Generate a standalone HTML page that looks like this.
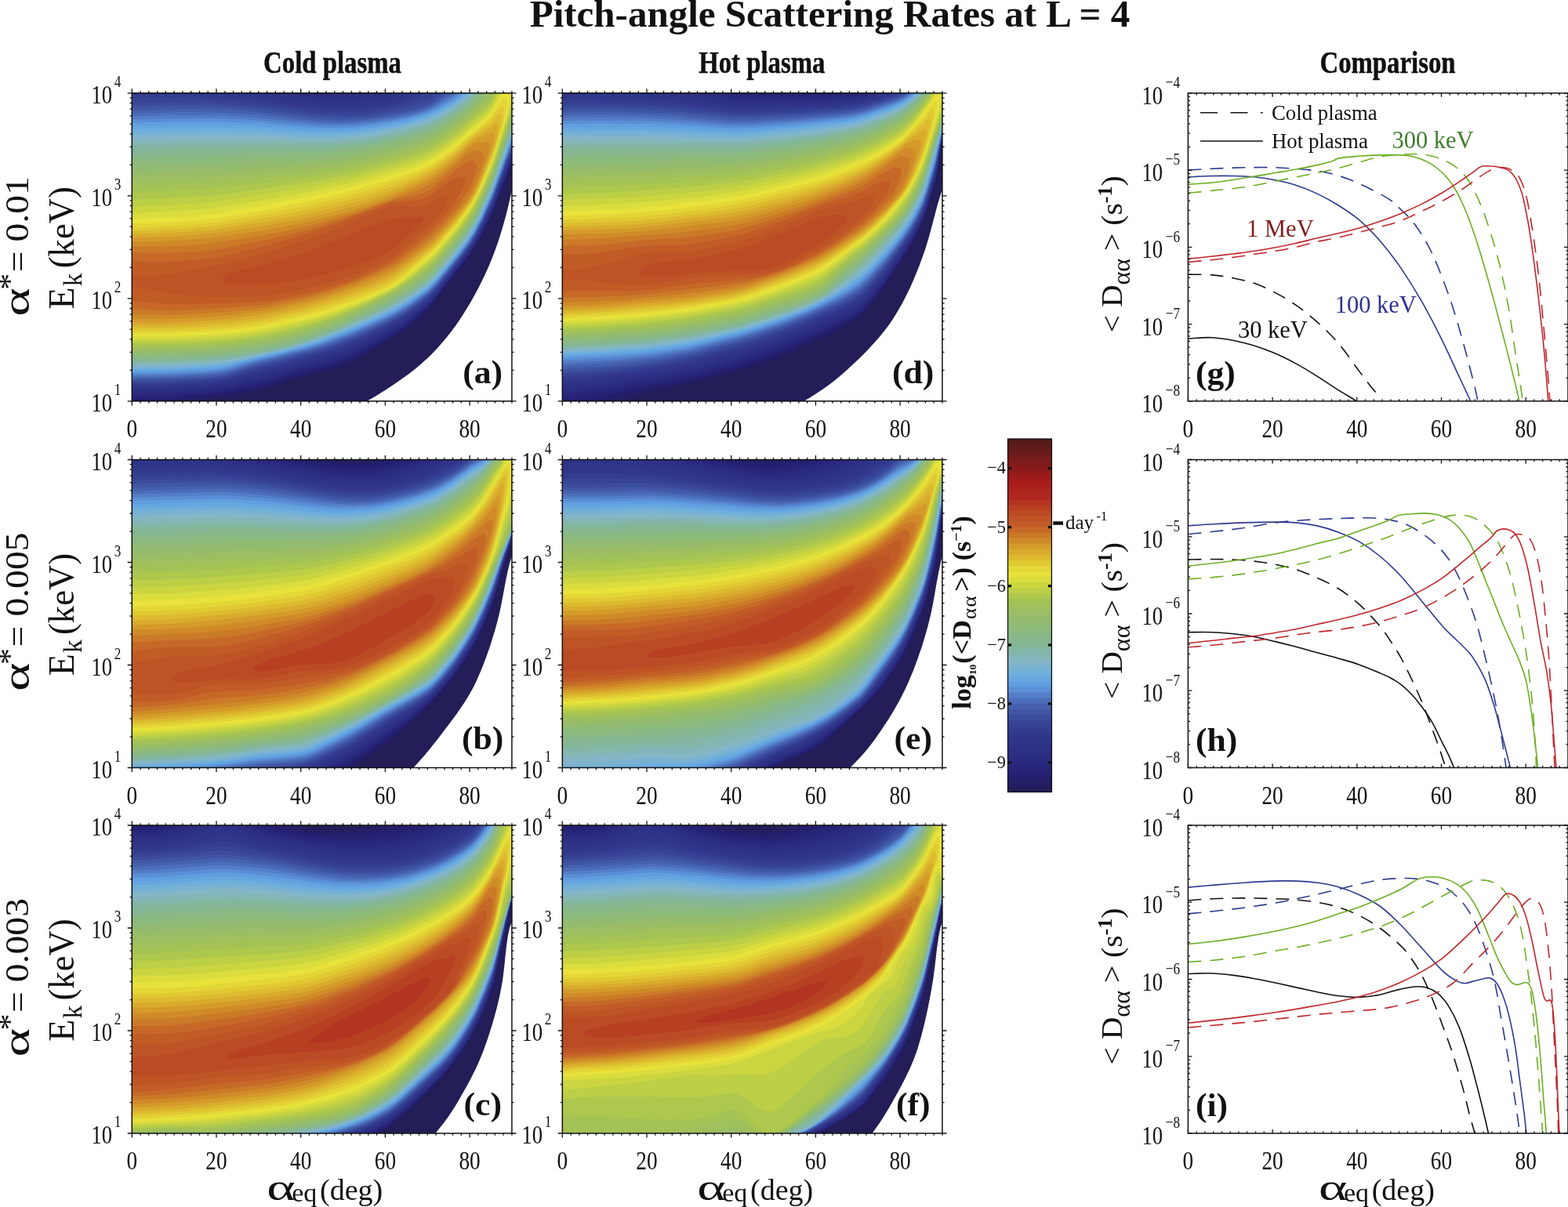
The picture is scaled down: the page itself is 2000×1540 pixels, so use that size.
<!DOCTYPE html>
<html lang="en"><head><meta charset="utf-8"><title>Pitch-angle Scattering Rates at L = 4</title>
<style>html,body{margin:0;padding:0;background:#fff}svg{display:block}text{font-family:'Liberation Serif',serif;fill:#111}</style>
</head><body>
<svg xmlns="http://www.w3.org/2000/svg" width="2000" height="1540" viewBox="0 0 2000 1540">
<rect width="2000" height="1540" fill="#fff"/>
<g>
<rect x="168.3" y="118.8" width="484.6" height="393" fill="#231d58"/>
<path d="M168.3 118.8l484.6 0 0 91.4-12.6 31.4-4.5 12.9-0.8 1.1-0.8 2.8-7.6 18-14 27.9-11 18-16.1 21.9-17.4 22-9.8 13.9-11.3 14.1-10.8 10.1-14.3 12.1-12.6 9.5-14.3 9.6-34.1 20.1-12.6 6.3-10.8 4.7-17.9 5.8-39.5 9.9-34.3 11.5-14.2 4.1-21.5 4.5-23.3 4-21.6 2.7-26.9 2.7-70 0z" fill="#241e63"/>
<path d="M168.3 118.8l484.6 0 0 89.8-21.1 53.8-5.8 13.5-12.1 24.4-5.6 10-8.9 14-10.3 13.9-20.6 26.4-14.3 19.7-7.2 8.5-12.6 11.6-12.5 10.3-12.6 9.3-12.5 8.3-35.9 20.8-12.6 6.2-10.8 4.6-17.9 5.8-39.5 10.1-34.1 11.2-12.6 3.6-39.5 7.9-16.1 2.4-18 2-48.4 3.9-43.1 0.6z" fill="#241e6e"/>
<path d="M168.3 118.8l484.6 0 0 88.2-20.9 53.4-6 14.2-13.8 27.7-6 10.5-7.1 11.1-44.9 59.2-7.2 8.4-10.8 9.8-12.5 10.4-12.6 9.3-12.6 8.2-35.8 20.5-12.6 6.2-12.6 5.3-17.9 5.9-41.3 10.6-32.3 10.4-12.6 3.6-37.7 7.7-19.7 3-16.2 1.8-46.6 3.7-44.9 0.7z" fill="#262274"/>
<path d="M168.3 118.8l484.6 0 0 86.5-21.4 55.1-5.5 13-14.4 28.9-7.2 12.5-5.3 8.2-10.8 14.7-19.4 24.5-12.9 17.4-9 10.5-10.8 9.7-12.5 10.2-10.8 7.9-12.6 8.3-35.9 20.1-12.5 6.2-14.4 6.1-19.7 6.3-39.5 10.2-32.3 10.3-12.6 3.5-39.5 8.3-14.3 2.3-16.2 1.9-50.2 3.8-44.9 0.7z" fill="#28267a"/>
<path d="M168.3 118.8l484.6 0 0 84.9-21.5 55.7-5.4 12.7-14.4 29.2-7.2 12.5-5.3 8.3-10.8 14.6-18.6 23.5-13.7 18.2-7.2 8.5-9 8.3-12.5 10.4-12.6 9.3-12.6 8.3-14.3 8.3-23.4 12.5-14.3 6.9-12.6 5.1-17.9 5.9-39.5 10.3-34.1 10.5-12.6 3.4-41.3 8.9-12.5 2.1-14.4 1.7-52 3.9-44.9 0.8z" fill="#2a2a7e"/>
<path d="M168.3 118.8l484.6 0 0 83.2-21.5 56-5.4 12.8-14.5 29.5-7.1 12.5-5.3 8.3-12.6 17-30.5 39.1-7.2 8.4-9 8.2-12.5 10.2-12.6 9.2-10.8 7-10.7 6.3-27 14.3-12.5 6-14.4 6.1-23.3 7.6-36.4 9.4-46.2 13.6-41.3 9.2-12.5 2.2-12.6 1.6-53.8 4-44.9 0.7z" fill="#2c2e82"/>
<path d="M168.3 118.8l198.1 0 22.7 2.9 21.5 0.8 41.3-1.2 28.2-2.5 172.8 0 0 81.5-21.5 56.3-5.4 12.8-14.4 29.5-7.2 12.8-5.3 8.4-12.6 17-30.5 38.8-7.2 8.3-9 8.1-10.7 8.7-10.8 8-12.6 8.3-12.5 7.3-25.2 13-16.1 7.7-14.4 5.8-23.3 7.5-37.7 9.9-43.1 12.4-43.1 10.1-12.5 2.2-10.8 1.2-53.8 3.9-44.9 0.7z" fill="#2d3084"/>
<path d="M168.3 118.8l175.1 0 42.1 6.5 16.1 1.2 16.2 0.4 26.9-0.6 21.5-1.4 23.4-3.1 11.7-3 151.6 0 0 79.7-21.5 56.7-5.4 12.8-14.7 30.3-6.9 12.3-5.3 8.4-14.4 19.3-28.7 36.3-7.2 8.2-7.2 6.5-12.5 10.1-12.6 9.1-10.8 7-12.5 7.1-28.8 14.6-17.9 8-14.4 5.4-19.7 6.3-35.9 9.3-35.9 10.4-39.5 9.9-21.5 4.5-23.4 2.5-46.6 3-41.3 0.5z" fill="#2f3387"/>
<path d="M168.3 118.8l141.7 0 21.6 2.1 57.5 8.5 16.1 1.3 19.8 0.4 30.5-0.7 25.1-2.5 16.2-3 7.1-2.2 10-3.9 139 0 0 77.9-21.5 57-5.4 12.9-14.4 29.9-5.4 9.9-7.1 11.5-14.4 19.3-28.7 36.1-7.2 8.1-7.2 6.5-12.5 10-10.8 7.7-10.8 7-14.3 8.1-28.8 14.3-17.9 8-16.2 6-26.9 8.2-28.7 7.3-34.1 9.7-46.7 12.1-16.1 3.2-28.7 2.7-39.5 2.4-41.3 0.5z" fill="#303589"/>
<path d="M168.3 118.8l92.7 0 20.4 2 44.8 3.3 55.7 8.2 12.5 1.5 18 1.2 19.7 0.4 18-0.2 14.3-0.8 15.4-1.6 11.6-1.9 14.3-4 20.5-8.1 126.7 0 0 76.2-25.1 66.2-15.7 33.2-11.2 19.7-16.2 22-26.9 33.7-7.2 8.3-5.4 5.3-12.5 10.1-12.6 9.2-10.8 7-16.1 9.2-25.2 12.3-17.9 8.1-19.8 7.4-26.9 8.4-28.7 7.2-30.5 8.7-52.1 13.8-16.1 3.2-23.3 2.1-43.1 2.6-41.3 0.6z" fill="#31388c"/>
<path d="M168.3 120.8l41.3-0.6 35.9 1.5 79 6 57.4 8.2 16.1 1.9 19.8 1.3 19.7 0.3 28.7-1.1 12.6-1.3 12.6-2 14.3-3.8 36.6-12.4 110.6 0 0 74.4-25.1 66.5-16.2 34.3-10.7 18.9-16.2 22-26.9 33.6-7.2 8.2-5.4 5.2-12.5 10.1-10.8 7.8-12.6 8.2-16.1 9-27 13-19.7 8.6-17.9 6.6-27 8.4-28.7 7.2-30.5 8.5-19.7 5-32.4 9.2-14.3 2.7-23.3 2.2-43.1 2.5-41.3 0.5z" fill="#343e90"/>
<path d="M552.7 120.8l4.3-2 95.9 0 0 72.5-25.1 66.9-12.6 27.2-9 17.4-7.1 11.6-10.8 14.7-30.5 38-9 10-12.6 10.6-14.3 10.5-14.4 9.1-14.3 7.9-25.2 12-19.7 8.6-21.5 7.9-23.4 7.4-79.9 20.8-31.4 9.3-12.5 2.8-19.8 2.1-44.8 2.8-46.7 0.7 0-363.6 50.3-0.6 41.2 1.5 64.7 4.7 61 8.3 16.1 1.8 21.6 1.3 21.5 0.3 25.1-1.3 12.6-1.5 10.8-1.8 16.1-4.2 35.9-11z" fill="#374496"/>
<path d="M561.1 120.8l2.8-2 89 0 0 70.7-25.1 67.2-12.6 27.4-9 17.4-7.1 11.7-12.6 17-30.5 37.7-9 9.5-12.6 10.1-12.5 9-12.6 8-14.3 8-27 12.7-19.7 8.5-23.3 8.6-21.6 6.9-78.9 20.4-30.6 9.3-14.3 3.3-19.8 2.1-44.8 2.7-46.7 0.7 0-356.4 57.4-0.9 25.2 0.4 26.9 1.2 48.4 3.5 59.3 7.8 17.9 2 21.6 1.3 21.5 0.1 16.2-0.8 14.3-1.4 14.4-2.1 14.3-2.9 23.4-5.8 16.1-4.7 7.2-3z" fill="#3b4c9c"/>
<path d="M565.3 120.8l2.8-2 84.8 0 0 68.8-25.1 67.6-12.6 27.5-9 17.5-7.1 11.7-12.6 17.1-28.7 35.4-10.8 11.5-12.6 10.1-12.5 8.9-12.6 7.9-14.3 7.9-27 12.6-19.7 8.5-21.5 7.9-23.4 7.7-79.9 20.5-31.4 9.7-12.5 2.8-19.8 2-44.8 2.7-46.7 0.7 0-349.9 64.6-1.1 25.1 0.3 27 1.1 43 3.2 57.8 7.3 19.1 2 21.9 1.3 21.5-0.1 18.1-1.2 17.2-2 27.5-4.3 18-3.6 12.5-3.9 7.2-3.1 7.2-4.3z" fill="#4056a4"/>
<path d="M569.5 120.8l3-2 80.4 0 0 66.9-25.1 68-12.6 27.6-9 17.6-7.1 11.8-12.6 17-28.7 35.3-10.8 11.4-12.6 10-12.5 8.9-14.4 8.9-12.5 6.7-28.8 13.3-19.7 8.3-26.9 9.8-19.8 6.4-75.3 19.1-30.6 9.4-14.3 3.3-19.8 2-44.8 2.6-46.7 0.7 0-343.3 66.4-1.4 25.1 0.1 25.2 0.8 41.2 2.8 79 9 23.4 1.2 20-0.3 17.6-1.3 18-2.1 28.7-4.5 16.2-3.5 10.7-3.2 9-3.6 7.2-4.3z" fill="#4561ae"/>
<path d="M574.4 120.8l3.3-2 75.2 0 0 65-25.1 68.3-12.6 27.7-9 17.8-7.1 11.7-12.6 17.2-28.7 35.1-10.8 11.3-12.6 9.9-12.5 8.8-12.6 7.9-14.3 7.7-27 12.4-19.7 8.4-30.5 11.2-19.8 6.3-73.5 18.5-30.6 9.4-14.3 3.2-19.8 2-44.8 2.5-46.7 0.7 0-337.2 64.6-1.5 28.7 0.1 25.2 0.6 39.4 2.5 79 8.4 23.4 1 21.5-0.5 23.3-2.1 30.4-4.4 14.5-2.4 14.8-3.6 11.7-4 4.4-1.9z" fill="#4c6eb9"/>
<path d="M579.5 120.8l3-2 70.4 0 0 63.1-25.1 68.7-12.6 27.8-9 17.9-7.1 11.7-14.4 19.4-26.9 32.7-10.8 11.3-12.6 9.8-14.3 10-12.6 7.6-14.3 7.5-27 12.3-19.7 8.3-32.3 11.8-18 5.7-71.7 18-30.6 9.1-14.3 3.2-19.8 1.9-44.8 2.4-46.7 0.7 0-331.2 61-1.4 57.5 0.6 39.4 2.2 79 7.6 25.1 0.8 21.6-0.8 21.5-2.1 26.9-4 18-3.2 13.9-3.5 11.2-3.6 7.2-3.1z" fill="#547ec7"/>
<path d="M583.7 120.8l2.8-2 66.4 0 0 61.2-25.1 69-12.6 27.9-9 17.9-7.1 11.9-14.4 19.4-26.9 32.6-10.8 11.2-12.6 9.8-12.5 8.7-14.4 8.7-12.5 6.6-30.6 13.9-19.7 8.2-32.3 11.9-18 5.7-46.6 11.9-23.3 5.4-30.6 9-14.3 3.1-19.8 1.9-44.8 2.3-46.7 0.7 0-325.1 53.8-1.4 37.7-0.1 27 0.4 37.7 1.8 80.7 7 25.1 0.5 21.6-0.9 23.3-2.5 26.9-4.2 18-3.6 14.3-3.8 12.6-4.1 7.2-3.4 19.7-11.2z" fill="#5a8fd5"/>
<path d="M587.2 120.8l2.5-2 63.2 0 0 59.3-25.1 69.3-14.4 31.8-8.8 17.1-7.3 11.6-12.6 16.8-26.9 32.5-10.8 11.2-12.6 9.7-14.3 9.8-14.4 8.5-12.5 6.5-21.6 9.9-23.3 9.9-32.3 12.1-23.3 7.7-48.5 12.3-21.5 4.9-30.6 8.6-12.5 2.6-19.8 1.9-46.6 2.3-44.9 0.6 0-319.1 50.3-1.2 68.2 0.2 39.4 1.5 62.9 5.1 16.1 0.9 25.1 0.3 23.4-1.2 19.7-2.2 28.7-4.7 19.8-4.1 16.1-4.5 10.8-3.7 10.8-5.1 16.1-9z" fill="#609ee0"/>
<path d="M590.2 120.8l2.4-2 60.3 0 0 57.3-25.1 69.7-12.6 28.1-9 18-8.8 14.4-12.7 17-26.9 32.5-10.8 11.1-10.8 8.3-14.3 9.9-14.4 8.7-14.3 7.4-27 12.4-19.7 8.2-35.9 13.5-19.7 6.4-37.7 9.6-30.5 7-30.6 8.3-12.5 2.4-19.8 1.8-44.8 2.2-46.7 0.7 0-312.7 50.3-1.3 68.2 0 37.7 1.1 80.7 5.4 25.1 0.1 23.4-1.4 23.3-2.9 25.1-4.3 19.8-4.4 19.7-5.6 10.8-4 16.1-8.2 10.8-6.5z" fill="#67a7df"/>
<path d="M593 120.8l2.3-2 57.6 0 0 55.3-25.1 70.1-14.4 31.9-9 17.5-8.9 13.9-14.4 18.8-25.1 30-5.4 5.7-5.4 4.8-12.5 9.4-12.6 8.5-14.4 8.4-14.3 7.4-27 12.3-19.7 8.2-35.9 13.6-19.7 6.4-30.5 7.9-37.7 8.6-25.2 6.5-16.1 3.1-19.8 1.8-44.8 2.2-46.7 0.6 0-306.3 48.5-1.3 70-0.2 37.7 0.8 80.7 4.6 25.1-0.2 23.4-1.5 25.1-3.3 23.3-4.2 21.6-5 21.5-6.3 12.6-5.2 16.1-8.7 9-6z" fill="#70afdc"/>
<path d="M595.7 120.8l2.3-2 54.9 0 0 53.3-25.1 70.4-14.4 32-9 17.6-8.9 13.8-12.6 16.6-26.9 32.3-5.4 5.7-5.4 4.8-12.5 9.4-14.4 9.5-14.4 8.4-16.1 8.1-23.4 10.7-21.5 9-34.1 13-21.5 7.1-39.5 10-52.1 11.9-16.1 2.9-19.8 1.7-44.8 2.1-46.7 0.7 0-299.8 50.3-1.4 84.3-0.4 23.3 0.5 62.9 3.3 21.5 0.5 23.3-0.6 21.6-1.7 23.3-3.3 25.1-4.6 21.6-5.3 21.5-6.5 12.6-5.4 14.3-8 10.8-7.4z" fill="#7ab2d2"/>
<path d="M598.4 120.8l2.1-2 52.4 0 0 51.2-25.1 70.7-14.4 32.1-9 17.6-8.9 13.9-12.6 16.6-26.9 32.3-5.4 5.7-5.4 4.8-14 10.5-14.7 9.6-14.4 8.2-16.1 8.1-23.3 10.6-19.8 8.3-35.9 14-21.5 6.9-43.1 10.9-44.9 9.6-17.9 3-19.8 1.7-44.8 2.1-46.7 0.6 0-293.2 48.5-1.4 89.7-0.7 23.3 0.4 62.9 2.6 17.9 0.2 26.9-1 21.6-2.2 26.9-4.2 21.5-4.3 21.6-5.5 17.9-5.6 12.6-5.5 14.3-8.1 12.4-8.5z" fill="#84b6c8"/>
<path d="M600.9 120.8l1.9-2 50.1 0 0 49-25.1 71.2-14.4 32.1-9 17.5-8.9 14-12.6 16.6-26.9 32.4-5.4 5.7-5.4 4.8-14.3 10.7-14.4 9.4-14.4 8.2-16.1 8.2-21.6 10-23.3 9.8-34.5 13.6-21.1 7-26.7 7-18.2 4.2-39.5 7.9-19.7 3.2-21.6 1.9-43 2-48.5 0.7 0-286.5 46.7-1.4 93.3-1.2 19.7 0.2 62.9 1.9 17.9 0.1 26.9-1.1 23.4-2.5 23.3-3.7 23.3-4.7 21.6-5.5 19.7-6.2 12.6-5.6 16.1-9.4 12.6-8.9z" fill="#84b6b9"/>
<path d="M603.3 120.8l1.7-2 47.9 0 0 46.9-25.1 71.5-14.4 32.1-9 17.6-8.9 13.9-14.4 18.9-25.1 30.2-7.2 7.5-5.4 4.5-16.1 11.8-16.2 10.1-15.1 8.3-20.5 10-26.9 11.9-34.5 14-16.1 6-19.8 6-23.2 6-18 4-32.3 5.9-23.3 3.4-21.6 1.9-43 2-48.5 0.7 0-279.6 43.1-1.4 100.5-1.8 79 1.3 17.9-0.1 26.9-1.4 27-3.1 25.1-4.3 23.3-5.1 21.6-5.8 16.1-5.4 12.6-6.1 16.1-9.7 14.4-10.5 7.2-5.9z" fill="#84b6aa"/>
<path d="M605.5 120.8l1.7-2 45.7 0 0 44.7-25.1 71.8-14.4 32.2-9 17.6-8.9 13.9-14.4 18.9-25.1 30.3-7.2 7.5-5.4 4.5-14.3 10.5-16.2 10.4-16.3 9-20.2 10-26.7 12-37.3 15.2-18.3 6.7-17.6 5.2-21.5 5.5-19.8 4.3-30.5 5.3-21.5 2.9-23.4 1.9-43 2-48.5 0.7 0-272.5 43.1-1.4 102.3-2.2 91.5 0.2 30.5-1.7 27-3.3 25.1-4.5 23.3-5.2 19.8-5.4 17.9-6.1 12.6-6.2 19.7-12.2 16.2-12.3z" fill="#84b69a"/>
<path d="M607.8 120.8l1.6-2 43.5 0 0 42.5-25.1 72.1-12.6 28.5-10.8 21.4-10.7 16.5-14.4 18.6-25.1 30-5.4 5.5-7.2 5.9-14.3 10.4-19.3 11.9-14.8 8.1-24.5 11.9-27.2 11.9-34.5 14-16.9 6-21.3 6-15.9 4-18.9 4-24.9 4-29.5 3.6-21.6 1.6-41.2 1.8-48.5 0.7 0-265.2 149-4.3 87.9-0.7 32.3-2.2 26.9-3.6 23.4-4.4 25.1-5.7 19.8-5.6 17.9-6.4 14.4-7.7 19.7-12.7 14.4-11.3z" fill="#86b790"/>
<path d="M610.1 120.8l1.7-2 41.1 0 0 40.3-25.1 72.4-14.4 32.4-9 17.6-10.7 16.5-14.4 18.5-25.1 30.1-5.5 5.6-7.4 6-15.8 11.2-16.2 10-17.9 9.7-26.6 13-21.9 9.7-34.9 14.2-16.9 6-20 5.7-19.7 4.9-18 3.6-26.9 4.2-25.1 2.9-23.4 1.8-41.2 1.8-48.5 0.7 0-257.9 80.8-2.3 70-2.5 84.3-1.6 34.1-2.6 28.7-4.2 27-5.3 21.5-5.2 19.7-5.8 16.2-5.9 16.2-8.9 19.7-13 14.4-11.6z" fill="#8ab986"/>
<path d="M612.7 120.8l1.7-2 38.5 0 0 38-25.1 72.7-12.6 28.6-10.8 21.5-10.7 16.5-14.4 18.6-25.1 30-5.4 5.5-7.2 5.9-14.3 10.2-19.8 12.1-18.2 9.7-28.4 14-18 8.1-34.1 13.8-17.9 6.3-20.3 5.7-17.4 4.3-18 3.8-25.5 3.9-28.3 3.2-23.4 1.7-41.2 1.8-48.5 0.7 0-250.2 79-2.3 73.6-3.3 80.7-2.4 18-1.2 19.7-2.1 30.5-4.8 27-5.7 21.5-5.4 19.7-6.1 14.4-5.7 9-4.8 10.7-6.6 16.2-11.2 12.6-10.3z" fill="#8dba7d"/>
<path d="M615.5 120.8l1.8-2 35.6 0 0 35.7-25.1 73-14.4 32.6-9 17.6-5.3 8.8-10.8 15-26.9 33-10.8 12-10.8 8.9-16.1 11.2-16.2 9.7-25.1 13.3-25.4 12.5-17.7 7.8-32.3 12.9-15.1 5.2-19 5.3-21.5 5.3-18 3.6-26.9 3.9-25.1 2.9-23.4 1.7-39.4 1.8-50.3 0.6 0-242.3 86.2-2.7 66.4-3.5 78.9-3.2 19.8-1.6 19.7-2.2 32.3-5.5 26.9-6 21.6-5.6 19.7-6.3 12.6-5.1 7.2-3.9 14.3-8.9 14.4-10 13.8-11.5z" fill="#91bb75"/>
<path d="M618.8 120.8l1.8-2 32.3 0 0 33.3-21.5 63.5-5.4 14.2-12.6 28.3-7.2 14.4-7.1 12.1-14.4 19.6-26.9 32.5-9 9.5-10.1 8-16.8 11.4-16.2 9.6-26.9 14.2-25.7 12.7-19.2 8.3-25.1 9.8-17.2 5.8-16.9 4.7-21.5 5.3-19.8 3.9-27.4 4.1-22.8 2.6-25.2 1.9-41.2 1.7-48.5 0.6 0-234 84.4-2.8 66.4-4.2 78.9-4.1 19.8-1.8 21.5-2.6 16.2-2.6 19.7-3.9 25.1-5.9 21.6-5.8 21.5-7.1 10.8-4.8 19.7-12 16.2-11.6 12.8-10.8z" fill="#95bc6d"/>
<path d="M622.4 120.8l1.8-2 28.7 0 0 30.8-23.3 68.9-7.2 17.4-10.8 23.9-7.2 14-7.1 11.4-14.4 19.3-26.9 32.2-9 9-10.8 8.2-15.2 10.3-17.1 10-30.5 16.1-23.3 11.3-19.8 8.3-23.3 8.9-16 5.2-18.1 4.9-21.1 5.1-18.4 3.6-26.9 3.9-25.1 2.9-23.4 1.8-42.9 1.8-46.8 0.4 0-225.5 95.1-3.4 132.8-9.2 21.6-2.1 21.5-2.9 18-3.1 19.7-4.1 26.9-6.6 19.8-5.5 19.7-6.8 10.8-4.8 19.7-12.2 14.4-10.3 14.3-12.1z" fill="#9abd65"/>
<path d="M625.9 120.8l1.3-2 25.7 0 0 28.1-25.1 74.1-10.8 25-9 18.9-7.1 12.9-7.2 10.5-14.4 18.6-25.1 29.5-8.1 7.8-13.2 10-14.6 9.7-16.2 9.5-30.5 16-21.5 10.4-20 8.3-23.1 8.6-16.9 5.3-19 5-21 5-16.7 3.2-23.3 3.5-27.9 3.3-22.4 1.7-43 1.7-48.5 0.5 0-216 86.2-3.3 139.9-11.3 21.6-2.4 23.3-3.4 19.8-3.6 19.7-4.4 26.9-6.8 19.8-5.8 19.7-6.9 10.8-5.2 17.9-11.3 16.2-12 24-20.7z" fill="#9fc05d"/>
<path d="M629.3 118.8l23.6 0 0 25.1-21.5 64.8-5.4 14.4-10.8 24.6-9 18.4-7.1 12.2-9 12.7-12.6 15.9-25.1 29.1-7.2 6.6-16.1 12.3-14.4 9.5-17.9 10.4-27 13.8-21.5 10.1-21.5 8.7-21.6 7.6-16.1 5-21.6 5.5-19.4 4.5-16.5 3.1-28.7 4.1-25.1 2.7-21.6 1.4-39.4 1.6-48.5 0.5 0-206.3 70-2.2 26.9-1.5 127.5-12.7 25.1-3.2 25.1-4.1 21.5-4.3 23.4-5.7 26.9-7.2 18-5.7 14.3-5.4 10.8-5.7 19.7-13 18-13.9 25.1-21.9 5.4-5.9z" fill="#a5c355"/>
<path d="M631.2 118.8l21.7 0 0 21.5-23.3 71.1-3.6 9.3-10.8 24.7-7.2 15-7.1 12.8-10.8 15.6-12.6 15.9-19.7 23.1-8.1 8.4-11.9 10-16.3 12-14 9.1-14.3 8.1-27 13.4-21.5 9.5-23.3 8.9-21.6 7.2-14.3 4.1-28.7 7.1-18 3.8-17.9 2.9-29.2 3.7-19.3 1.8-57.4 2.5-46.7 0.4 0-195 34.1-1.1 55.6-2.9 21.6-2 68.2-7.5 53.8-6.9 32.3-5.2 30.5-6.3 34.1-8.8 23.4-6.8 19.7-7 10.8-4.8 12.6-7.6 19.7-13.9 32.3-26.9 9-9.3 1.8-2.7z" fill="#aec84e"/>
<path d="M633.1 118.8l19.8 0 0 17.4-5.5 18.5-17.8 54.1-7.2 17.8-10.8 24.1-9 17.2-8.9 13.6-12.6 16.6-19.7 23.2-7.2 7.9-7.2 7-17.3 14-13.6 10-14 9-10.7 5.8-27 13-23.3 9.8-22.9 8.3-18.4 5.9-12.5 3.5-35.1 8.5-17 3.5-16.1 2.4-23.4 3-21.5 2-59.2 2.7-46.7 0.4 0-183.3 35.9-1.2 55.6-3.1 16.2-1.7 71.8-9.5 55.6-8.3 35.9-6.5 32.3-7.5 39.5-10.9 19.8-6.3 16.1-6.3 12.6-6.9 16.1-10.9 14.4-11.1 23.3-19.4 7.2-6.5 5.4-5.9 1.8-2.6z" fill="#bccf46"/>
<path d="M634.4 120.8l1-2 17.5 0 0 11.8-5.2 20.1-18.1 55.6-10.9 26.2-11.1 23.9-6.7 12-12.6 18-12.6 15.8-19.7 22.6-9 8.9-15.1 12.5-12.6 10-11.2 8-11.3 6.8-16.2 7.8-23.3 10.4-19.8 7.7-23.3 8.1-18 5.5-53.8 12.9-12.6 2.3-21.5 3-35.9 3.7-59.2 2.4-44.9 0.3 0-171.7 34.1-1.1 61-3.5 80.8-11.7 61-10.5 35.9-7.1 32.3-7.9 41.3-12 19.7-6.6 14.4-6.1 10.8-6.2 17.9-12.3 12.6-9.9 23.3-19.4 7.2-6.6 7.2-8.4z" fill="#cbd540"/>
<path d="M638.3 118.8l14.1 0-0.7 10-2.4 11.7-5.2 18.2-15.6 47.9-12.6 29.9-10.7 21.9-7.9 13-12.6 17.3-10.8 13.2-17.9 20.3-9 8.8-20.4 17.2-11.9 9.6-8.9 6.4-10 6-26 11.7-19.7 8.1-21.5 7.7-19.4 6.4-13.8 4-56.6 13.2-34.1 5-35.9 3.3-55.6 2.3-44.9 0.3 0-160.2 37.7-1.4 55.6-3.8 14.4-1.8 68.2-10.8 61.7-11.7 37-7.9 31-8.1 44.4-13.3 17.9-6.4 14.4-6.4 12.6-7.7 17.9-12.8 34.1-28.5 8.9-8.7 4.5-5.9z" fill="#dadd3d"/>
<path d="M641.1 120.8l2.7-2 2 0 1.7 1 1.9 3 0.3 4-0.4 6-3.6 16.8-10.7 35.5-7.2 20.9-13.9 32.5-10 19.9-8.4 13.2-10.8 14.7-10.8 13.2-17.9 20.2-9 8.6-25.6 21.9-10 8-7.5 5.3-10.7 6.2-19.8 8.6-23.3 9.2-21.5 7.4-18 5.8-16.2 4.6-55.6 13-34.1 5-35.9 3.3-55.6 2.2-44.9 0.3 0-149.7 41.3-1.4 34.1-2 19.1-1.6 13.2-1.9 64.6-11.2 64.6-13 37.7-8.5 32.3-8.7 44.9-13.9 17.9-6.6 12.9-6 12.6-8 19.4-14.2 32.6-27.7 8.7-8.2 3.6-4.3 9-15.8z" fill="#e8e23a"/>
<path d="M641.1 126.8l1-0.8 1.8-0.1 1.8 1.9 0.9 3 0.1 4-1 8.6-5.4 20.8-7.1 23.8-5.4 15.6-13.9 32.9-4.7 10-6.5 11.9-7.9 12-11.9 15.8-9 10.9-17.9 20-9 8.6-28.6 24.5-9.1 7.3-9 6.2-12.5 6.4-19.6 8-21.5 8-24.2 8-27.4 8-58.1 13.5-31.7 4.4-36.5 3.4-55.6 2.3-44.9 0.1 0-140.4 37.7-1.1 33.3-1.9 18.7-1.7 23.4-3 54.3-9.3 58.7-12 43.1-9.9 32.3-8.8 44.9-14.1 18-6.6 16.1-7.2 11.7-7.2 15.2-10.9 13.6-11.1 34.5-29.9 4.9-6 8.1-13z" fill="#e4d636"/>
<path d="M637.6 136.8l2.7-1.9 1.8 0.7 1.1 3.1 0.3 4-1.4 9.5-7.1 26.9-7.2 22-8.8 21.4-8.8 20-8.6 15.9-9.7 13.9-10.8 13.9-16.1 18.6-10.8 11.6-7.2 6.7-32.2 27.1-14.5 10.4-10.7 5.6-19.8 8.1-21.5 7.9-26.9 8.8-28.7 8.3-55.7 12.9-37.7 5.2-32.3 2.8-55.6 2.4-43.1 0 0-132.2 30.5-0.9 44.9-2.7 25.1-2.3 25.1-3.7 52.1-9 59.2-12.3 44.9-11 37.7-11.2 25.1-8.5 16.2-6.1 17.9-8.2 10.8-6.5 21.5-15.7 25.1-22.2 18-14.3 5.4-5.6 7.2-10.4z" fill="#e0c932"/>
<path d="M634.7 146.7l2.1-1.4 1.7 0.5 1 2.9 0.1 4-1 8-1.8 7.8-5.4 19-5.4 15.4-12.6 30.5-7.1 15.1-5.4 9.3-10.8 14.9-10.8 13.4-17.9 20.2-9 9.3-5.4 4.9-30.5 25-9 6.7-9 5.7-10.7 5.3-21.6 8.8-21.5 7.6-26.9 8.8-26.9 7.7-37.7 9-16.2 3.4-39.9 5.5-31.9 2.8-53.8 2.5-43.1-0.1 0-124.5 30.5-1 43.1-2.3 25.1-2.3 23.3-3.2 55.7-9.1 50.2-10.1 44.9-10.6 37.7-10.7 23.3-7.9 19.8-7.7 21.5-9.8 10.8-6.1 23.3-16.9 9-7.6 17.9-16.6 19.6-14.1 3.8-3.8z" fill="#ddba2f"/>
<path d="M632.9 156.7l2.1 0.6 0.6 3.4-0.1 4-2.3 12-3.6 12.6-7.2 19.3-10.8 26.6-7.2 14.7-5.3 8.7-9 12-10.8 13.1-17.9 19.9-10.5 10.7-34.4 27.6-9 6.4-9 5.6-12.5 6.1-20.3 8.2-21 7.5-28.7 9.4-26.9 7.7-50.3 11.6-17.9 2.8-23.4 3-41.3 3.5-44.8 2.1-43.1-0.3 0-116.7 32.3-1 43.1-2.3 25.1-2.3 28.7-3.9 48.5-7.5 48.2-9.4 39.7-9.3 37.7-10.3 19.8-6.6 21.5-8.3 19.8-8.8 17.9-9.3 10.8-7.2 16.1-12.3 26.9-24.5 5.4-3.6 12.6-7.3 9-7.5z" fill="#d9ab2d"/>
<path d="M627.9 168.7l1.7-0.4 0.4 0.4 0.9 2 0.3 4-1.4 7.9-2 7.2-16.2 42.6-7.2 15.1-5.3 8.8-10.8 14.1-9 10.7-19.4 21.2-8 8-4.9 4.4-28.7 22.1-10.8 7.5-10.7 6.4-14.4 6.6-19.7 7.9-46.7 16.1-26.9 7.7-48.5 11.1-35.9 5.2-39.5 3.7-52 2.8-44.9-0.4 0-108.2 34.1-0.9 43.1-2.3 25.1-2.3 25.1-3.4 48.5-7.2 43.1-8.1 37.7-8.5 37.3-10.1 19-5.9 21.3-8 23.1-10 21.3-10.5 12.6-8.2 14.3-11 9-7.7 19.7-18.4 7.2-4.4 10.8-4.2z" fill="#d59b2a"/>
<path d="M607.7 182.6l11.1-1.5 3.6 0 2.1 1.5 0.7 4-1 6-1.8 5.9-9 24.7-5.4 13.6-7.1 13.8-9 12.2-10.8 13-18.8 20.5-9.9 10.2-7.2 6.1-28.7 21.6-10.8 7.2-10.7 6.1-18 7.9-19.7 7.9-16.2 5.9-30.5 10-21.5 6.1-50.3 11-37.7 5.1-43.1 3.6-44.8 2.3-44.9-0.5 0-98.6 34.1-0.4 37.7-1.9 25.1-2.1 25.1-3.2 50.3-7.4 44.9-8.5 28.7-6.6 35.9-9.7 25.5-8 21.6-7.9 29-12 20.8-9.8 9-5.7 9-6.9 12.5-10.3 23.4-21.3z" fill="#d08b28"/>
<path d="M603 192.6l3.2-0.7 3.6-0.1 5.4 1.7 1.8 3.2 0.1 5.9-3.7 12.9-7.2 18.6-5.3 11.2-5.9 9.2-8.5 10.7-9.6 11.2-18.4 19.9-8.3 8-33.8 26-10.7 7.2-10.7 6.1-21.6 9.7-19.7 8-35.9 12.3-26.9 7.7-46.7 10-12.6 2.1-26.9 3.2-52 3.8-41.3 1.7-43.1-1.1 0-86.5 26.9 0.1 23.4-0.6 32.3-1.8 19.7-2 73.6-11.6 43.1-9 23.3-5.9 32.3-9.5 18-5.8 68.2-24.5 14.3-5.9 7.2-4 9-6.4 16.1-13.2 19.8-17.6z" fill="#cb7a28"/>
<path d="M596.4 206.6l2.7-1 3.5-0.3 1.8 0.3 1.8 1.3 1 1.7 0.8 4-0.3 4-1.5 6.1-5.3 13.3-5.4 9.6-8.6 12.8-11.5 14-17.6 19.4-7.2 7-34.6 27.5-11.3 8-9.7 5.8-26.1 12.1-26 10.4-37.7 11.9-14.3 3.7-18 3.9-32.3 6.1-14.3 1.9-21.6 1.9-79 4.2-23.3-0.2-34.1-2.5 0-71 44.9 0.2 37.7-1.6 17.9-1.7 18-3 53.8-10.7 52.1-12.7 19.7-5.9 30.5-10.1 53.9-19.8 10.7-3 25.1-5.7 9-3 5.4-2.6 5.4-3.4 34.1-27z" fill="#c66928"/>
<path d="M582.8 226.5l3.7-1.3 1.8-0.3 1.8 0.4 1.8 1.1 1 2.1 0.3 2-0.5 4-3 8-3.2 6-9.4 13.9-14.8 18-9.9 10.5-39.5 32.8-14.4 10.4-7.1 4-16.6 8.1-17.5 8-10.2 4-24.1 8-29.7 8-18.4 3.9-19.9 3.7-25.2 3.2-30.5 1.7-75.4 1.9-17.9-0.8-37.7-4.2 0-50.7 23.3 1 18 0 53.8-3.5 10.8-1.5 10.8-2.1 52-12.8 52.1-14.9 17.9-5.8 43.1-16 42.2-16.9 6.2-1.9 10.8-1.6 21.6-1.3 5.3-0.9 5.4-1.6 5.4-2.5 5.4-3.4 14.4-11 8.9-6.2z" fill="#c25c27"/>
<path d="M562 250.5l3-1.3 3.5-0.2 1.8 1.2 0.8 2.3-0.7 3.9-1.7 4-3.3 6-4 6-6.3 8-5.7 6-13.2 10.8-26.1 23.1-8 6.1-7.1 4.6-19.8 10-25.1 11-21.5 7.1-28.8 7.5-30.5 6.3-26.9 4-25.1 1.8-52.1-0.1-38.9-2.5-13.2-1.9-32.2-7.2-12.6-1.9 0-12.8 9 0.3 12.5-0.6 25.2-2.7 62.8-10.7 17.9-4 48.5-13.3 50.2-16.1 25.2-9.8 73.6-31.1 5.3-1.4 7.2-0.6 21.6 1.6 8.9-0.7 5.4-1.6 3.6-1.7z" fill="#be5426"/>
<path d="M513.3 278.4l22.9-2 1.8 0.1 1.8 0.8 0.7 1.1-0.5 2-1.3 2-13.2 13.9-18 16.1-7.2 5.5-5.3 3.4-21.6 9.8-23.3 8.8-27.6 8.3-26.3 6.5-21.5 3.8-25.1 3.2-26.9 1.7-19.8-0.2-8.2-1-6.1-1.8-3.9-2.2-1.4-2 0.3-2 2.2-2 8.8-4 13.2-4 40-9.8 41.3-12 16.1-5.8 53.9-22.2 32.3-12.4 8.9-2.3z" fill="#bb4b24"/>
<path d="M468.2 511.8 479.9 504.9 491 498 501.6 491 511.7 484.1 521.3 477.2 530.2 470.3 538.3 463.3 545.9 456.4 552.9 449.5 559.4 442.6 565.4 435.6 571.1 428.7 576.5 421.8 581.5 414.9 586.3 408 590.8 401 595.2 394.1 599.3 387.2 603.3 380.3 607.1 373.3 610.7 366.4 614.2 359.5 617.6 352.6 620.8 345.6 623.9 338.7 626.7 331.8 629.4 324.9 632 318 634.5 311 636.8 304.1 638.9 297.2 641 290.3 643 283.3 644.9 276.4 646.7 269.5 648.4 262.6 650 255.6 651.5 248.7 652.9 241.8 652.9 511.8z" fill="#fff"/>
</g>
<g>
<rect x="168.3" y="586.5" width="484.6" height="393" fill="#231d58"/>
<path d="M168.3 586.5l240.7 0 19.6 1.5 19.7 0.6 16.1-0.5 15.1-1.6 173.4 0 0 101.3-0.5 4.4-1.3 1.4-0.6 4.6-1.2 1.3-0.7 4.7-1.1 1.2-0.7 4.8-1.1 1.1-0.7 4.9-1.1 1.1-0.8 4.9-1.2 1.9-0.5 4-1.3 2-0.4 4-1.2 1.7-0.5 4.3-1.2 2.3-0.6 3.7-1.6 4-0.5 4-0.9 1.1-0.8 4.9-1 1.4-0.9 4.5-1.2 2-0.8 4-0.7 0.8-0.8 3.2-1 1.7-6.3 16.3-9.2 19.9-8.8 16-19.7 29.9-9.2 12-15 17.6-9 9.5-28.7 26.3-21.6 18-34.1 25.1-10.7 6.9-7.9 4.3-277.5 0z" fill="#241e63"/>
<path d="M168.3 586.5l217.7 0 13.8 2.5 16.2 1.9 17.9 1.3 16.2 0.5 12.6-0.4 12.5-1.1 12.6-1.9 13-2.8 152.1 0 0 100.8-0.5 2.9-1.7 4-0.2 2-1.2 2.6-0.6 3.4-1.2 2.4-0.7 3.6-1.1 2.3-0.7 3.7-3.4 9.9-5.9 22-7.2 23.9-11.3 28-10.7 21.9-10.8 18-17.6 25.9-16.7 20.4-14.4 15.3-26.9 23.8-23.3 18.7-35.9 25.8-10.8 6.6-10.4 5.1-271.4 0z" fill="#241e6e"/>
<path d="M168.3 586.5l202.2 0 22.2 4.7 17.9 2.8 21.5 2.1 19.8 0.7 16.1-0.6 14.4-1.7 16.1-3.3 18.4-4.7 136 0 0 100.4-11.6 37.2-7.7 28-5.7 17.9-10.9 26.8-9 19.1-5.4 9.7-7.1 11.5-18 26.4-17.9 21.7-12.6 13.1-17.9 15.6-18 14.6-41.3 30.3-10.7 7.3-9 5.5-9 4.6-8.2 3.3-264.6 0z" fill="#262274"/>
<path d="M168.3 586.5l186.2 0 36.4 7.8 17.9 3.1 23.3 2.5 21.6 1 17.9-0.8 16.2-2.2 19.7-4.6 22.8-6.8 122.6 0 0 99.9-11.3 35.8-13.8 47-10.8 26.3-10.7 22.4-5.4 9.5-9 14.1-14.4 21-17.9 21.6-12.6 13-16.1 13.7-18 14.1-48.5 34.8-10.7 6.9-8.7 4.9-18.6 8-258.1 0z" fill="#28267a"/>
<path d="M168.3 586.5l168.3 0 54.3 11.2 17.9 3.2 25.1 3 23.4 1 17.9-0.9 16.2-2.5 23.3-6.1 27.7-8.9 110.5 0 0 99.4-11.5 36.3-13.6 45.7-10.8 26.2-10.8 22.6-12.5 20.9-16.2 23.7-17.9 21.6-7.2 7.7-7.2 6.8-16.1 13.2-18 13.5-52 36.3-9 5.6-9 4.8-20.7 8.7-252.1 0z" fill="#2a2a7e"/>
<path d="M168.3 586.5l147.7 0 94.6 18.2 25.1 3 23.4 1 19.7-1.1 9-1.4 10.7-2.3 30.6-8.6 16.1-5.5 7.8-3.3 99.9 0 0 99-11.8 36.7-11.5 39.2-3.6 10-6.1 14.6-8.9 19.9-8.3 16-12.6 20.1-10.8 15.8-7.2 9.2-14.3 16.8-7.2 7.4-7.2 6.4-14.3 11.3-16.2 11.8-46.7 32.2-14.3 9.3-14.4 7.7-23 9.6-246.2 0z" fill="#2c2e82"/>
<path d="M168.3 586.5l122 0 52.1 8.4 53.8 10.7 18 3.1 23.3 2.8 21.6 1.1 10.7-0.3 12.6-1.2 10.8-2 14.3-3.4 19.8-5.6 17.9-6 7.2-3.1 8.6-4.5 91.9 0 0 98.5-11.5 35.2-11.8 39.9-3.6 10-6.6 15.9-9 19.9-7.8 14.8-14.3 22.8-9 13.1-7.2 9.3-12.5 14.7-7.2 7.6-7.2 6.6-12.5 9.8-14.4 10.3-64.6 43.5-10.8 6.2-7.2 3.5-14.3 6.4-12.6 5-240.5 0z" fill="#2d3084"/>
<path d="M168.3 586.5l88.4 0 40.8 5.2 30.5 4.5 30.6 5.3 39.4 7.9 19.8 3.3 21.5 2.5 19.8 0.9 14.3-0.5 12.6-1.4 16.1-3.3 16.2-4 15.1-4.4 13.6-4.8 7.2-3.3 14.1-7.9 84.6 0 0 98-11.8 35.7-11.5 38.6-3.6 9.9-8.9 21.3-8.4 17.9-7.5 14-12.9 20.4-10.8 15.6-19.7 23.5-7.2 7.3-7.2 6.2-23.3 16.8-68.2 45.2-10.8 6.1-10.8 5.2-14.3 6.3-12.9 5-234.8 0z" fill="#2f3387"/>
<path d="M572.7 588.5l5.2-2 75 0 0 97.5-11.4 34.2-13.7 44.5-10.8 26.1-9 19.2-8.9 16.2-19.5 29.6-14.6 18.2-12.6 13.7-7.2 6.4-16.1 11.7-77.2 50.6-10.8 6.1-16.1 7.8-14.4 6.3-13.4 4.9-228.9 0 0-390 25.1-0.4 35.9 0.5 19.8 1.2 28.7 2.8 30.5 3.6 32.3 4.8 79 14.5 21.5 2.4 19.8 0.7 14.3-0.6 12.6-1.5 15.9-3.1 20-4.9 23.3-7.7z" fill="#303589"/>
<path d="M582.7 588.5l5-2 65.2 0 0 97-11.7 34.7-13.4 43.1-10.8 26.1-9 19.3-8.9 16.2-10.8 16.9-9 13.1-16.1 19.9-12.6 13.3-7.2 6-14.3 10.1-37.7 23.8-30.5 20.3-12.6 7.7-10.8 5.8-21.5 10.3-13.1 5.4-11.9 4-222.7 0 0-384 26.9-0.5 35.9 0.2 23.4 1.1 32.3 2.5 28.7 3.3 30.5 4.4 23.3 4 35.9 7 18 2.9 19.7 2 19.8 0.6 14.3-0.8 12.6-1.6 19.7-3.9 18-4.5 21.5-7.3 21.5-11.2z" fill="#31388c"/>
<path d="M589.5 588.5l3.6-2 59.8 0 0 96.5-11.4 33.2-13.7 43.8-10.8 26.1-9 19.3-8.9 16.2-10.8 17-9 13.1-16.1 19.8-12.6 13.3-9 7.2-12.5 8.5-37.7 23.1-32.3 21.4-12.6 7.6-19.7 10.1-16.2 7.6-12.6 5-10.7 3.3-3.7 0.9-215.3 0 0-377.9 28.7-0.7 37.7-0.1 26.9 0.8 27 1.6 26.9 2.9 32.3 4.4 23.3 3.8 35.9 6.9 18 2.8 21.5 2 19.7 0.3 16.2-1.3 16.2-2.6 17.9-3.8 15.4-4.2 11.5-3.7 7.2-2.9 19.7-10.2z" fill="#343e90"/>
<path d="M593.5 588.5l3.1-2 56.3 0 0 96-11.7 33.7-13.4 42.4-10.8 26.1-9 19.4-8.9 16.2-10.8 17-9 13.1-16.1 19.8-12.6 13.2-7.2 5.8-12.5 8.6-39.5 23.7-32.3 21.1-12.6 7.7-37.7 18.7-10.8 4.4-10.7 3.3-15.4 2.8-203.6 0 0-372.4 70-1 34.1 0.5 17.9 0.9 25.2 2.5 34.1 4.4 21.5 3.5 35.9 6.7 19.8 2.9 21.5 1.8 19.7 0.1 16.2-1.5 17.9-3 19.8-4.5 17.9-5.2 9-3.2 9-4.2 21.5-11z" fill="#374496"/>
<path d="M596.6 588.5l2.9-2 53.4 0 0 95.4-11.3 32.3-13.8 43-10.8 26.1-10.8 22.9-5.3 9.8-7.2 11.5-14.4 21.5-16.1 19.9-12.6 13.2-7.2 5.7-10.7 7.2-41.7 24.7-30.1 19.5-14.4 8.7-39 19.6-11.3 4.6-8.9 2.6-16.2 2.8-21.3 2-181.5 0 0-367 75.4-1.5 32.3 0.1 14.3 0.5 23.4 2.1 37.7 4.6 21.5 3.4 35.9 6.5 19.8 2.8 21.5 1.6 19.7-0.2 18.8-2 21.2-4 16.4-4 19-5.9 9.7-4.1 20.8-10.7 9.1-5.2z" fill="#3b4c9c"/>
<path d="M599.2 588.5l3.2-2 50.5 0 0 94.9-11.6 32.8-13.5 41.6-10.8 26.2-10.8 22.9-10.7 18.5-16.2 24.3-16.1 19.8-12.6 13.2-5.4 4.4-12.5 8.3-41.3 24-32.3 20.7-12.6 7.5-37.7 19.2-10.8 4.6-8.9 2.9-9 1.9-10.8 1.5-44.3 3.8-156.7 0 0-362.1 91.5-1.9 19.8-0.1 12.5 0.5 21.6 1.8 37.7 4.3 21.5 3.2 35.9 6.2 19.8 2.7 21.5 1.5 19.7-0.3 16.2-1.7 21.5-4 19.8-4.8 19.7-6.2 10.8-4.7 17.9-9.2 9-5.8z" fill="#4056a4"/>
<path d="M602.1 588.5l3.7-2 47.1 0 0 94.4-12 33.3-13.1 40.1-10.8 26.2-10.8 23-10.7 18.5-16.2 24.3-16.1 19.8-12.6 13.2-5.4 4.3-12.5 8.3-41.9 23.8-33.5 21.3-10.8 6.3-37.7 19.3-10.8 4.7-8.9 3-9 1.8-10.8 1.5-35.9 2.9-25.4 3-139.7 0 0-357.4 95.1-2.3 16.2-0.3 12.5 0.4 21.6 1.8 39.5 4.2 55.6 8.8 19.8 2.5 21.5 1.3 21.5-0.6 16.2-1.9 21.5-4.1 21.6-5.5 17.9-5.9 12.6-5.8 14.3-7.8z" fill="#4561ae"/>
<path d="M605.6 588.5l4.1-2 43.2 0 0 93.8-11.6 31.9-13.5 40.7-10.8 26.2-10.8 23-10.7 18.5-16.2 24.4-16.1 19.7-12.6 13.1-5.4 4.3-12.5 8.2-41.3 23.1-43.1 26.7-41.3 21.2-9 3.9-8.9 3-7.2 1.6-10.8 1.5-37.7 3.1-39.7 5.1-125.4 0 0-353.1 107.7-2.7 16.1 0.3 19.8 1.4 39.5 4 57.4 8.4 19.8 2.3 21.5 1.2 21.5-0.8 16.9-2.1 22.6-4.6 19.8-5.2 17.9-5.9 10.8-4.9 14.3-7.7 9-5.9 16.2-11.8z" fill="#4c6eb9"/>
<path d="M609.5 588.5l3.8-2 39.6 0 0 93.3-12 32.4-14.9 43.9-10.8 25.7-9 18.9-5.3 9.8-7.1 11.4-14.5 21.7-16.1 19.7-12.6 13.1-7.2 5.5-10.7 6.8-41.5 23-42.9 26.2-41.3 21.2-9 3.9-8.9 3.1-16.2 2.9-41.3 3.5-52.2 7-111.1 0 0-349 107.7-2.7 14.3 0.2 19.8 1.3 39.5 3.6 57.4 7.8 19.8 2.1 23.3 1.1 21.5-1 16.2-2.1 21.5-4.4 19.8-5.2 19.7-6.4 9.7-4.4 15.4-8.3 7.2-4.7 19.8-14.3z" fill="#547ec7"/>
<path d="M613.1 588.5l3.1-2 36.7 0 0 92.7-11.6 31-15.3 44.4-10.8 25.7-9 19-10.7 18.5-16.2 24.3-16.1 19.8-12.6 13-5.4 4.3-12.5 7.9-41.2 22.6-43.2 26.1-41.3 21.1-9 4-8.9 3.1-7.2 1.6-9 1.3-39.5 3.2-44.8 6.5-26.8 2.9-93.5 0 0-344.8 100.5-2.6 21.5 0 18 1.1 41.3 3.6 55.6 6.9 21.6 2.1 23.3 0.8 21.5-1.2 18-2.6 21.5-4.6 19.8-5.4 17.9-6 10.8-4.9 16.1-9 25.2-17.8z" fill="#5a8fd5"/>
<path d="M616 588.5l2.7-2 34.2 0 0 92.2-11.9 31.5-15 43-11.3 26.8-10.3 21.3-14.3 23.6-12.6 18.2-16.1 19.3-10.8 11-5.4 4.3-12.5 7.9-41.3 22.4-43.1 25.7-43.1 21.9-9 3.8-7.1 2.4-7.2 1.6-9 1.4-39.5 3.2-48.4 7.3-30.5 3-17 1.2-69.2 0 0-340.5 107.7-2.7 14.3 0.1 16.2 0.8 39.9 3.2 55.2 6.3 21.6 1.9 25.1 0.8 23.3-1.4 16.2-2.4 21.5-4.7 21.6-5.9 17.9-6.1 10.8-5 14.3-7.9 9-5.9 18-12.9z" fill="#609ee0"/>
<path d="M618.4 588.5l2.3-2 32.2 0 0 91.7-12.3 32-14.6 41.5-11.9 28.3-9.7 19.9-14.3 23.6-12.6 18.2-16.1 19.3-10.8 11-5.4 4.2-12.5 7.8-43.1 23.4-39.5 23.4-44.9 22.6-9 3.8-7.1 2.4-14.4 2.7-41.3 3.5-44.8 7-25.2 2.8-58.8 3.9-36.3 0 0-336.1 105.9-2.6 14.4 0 17.9 0.8 41.3 2.9 52 5.5 23.4 1.8 26.9 0.4 23.3-1.8 16.2-2.6 25.1-5.8 19.7-5.8 16.2-5.8 10.8-5.2 14.3-8.1 25.2-17.8 12.5-7.2z" fill="#67a7df"/>
<path d="M620.5 588.5l1.9-2 30.5 0 0 91.2-12.6 32.5-15.1 41.9-11.8 27.9-9 18.5-14.3 23.6-12.6 18.1-16.1 19.3-10.8 11-5.4 4.2-14.3 8.9-40.8 22.1-40 23.2-44.9 22.3-9 3.8-7.1 2.4-7.2 1.6-10.8 1.5-39.5 3.4-43 6.9-16.2 1.9-41.3 3.3-62.8 3 0-330.9 120.3-2.9 19.7 0.9 37.7 2.4 53.8 5.1 21.6 1.4 26.9 0.2 12.6-0.7 12.5-1.4 16.2-2.7 25.1-5.9 19.7-5.8 16.2-5.9 10.8-5.3 14.3-8.2 23.6-16.8 15.9-9.7z" fill="#70afdc"/>
<path d="M622.2 588.5l1.8-2 28.9 0 0 90.8-12.9 32.9-10.4 29-6.6 16.9-9.6 22.6-9 18.4-12.5 20.8-12.6 18.4-17.9 21.8-10.8 10.9-5.4 4.2-14.3 9-39.8 21.5-39.2 22.6-46.7 22.6-9 3.8-7.1 2.4-7.2 1.6-9 1.3-39.5 3.6-41.3 6.6-19.7 2.4-43.1 3.4-61 3 0-324.2 118.5-3 17.9 0.6 41.3 2.3 53.8 4.5 19.8 1 28.7 0 12.6-0.8 12.5-1.5 16.2-2.9 25.1-6 19.7-5.9 16.2-5.9 12.6-6.4 14.3-8.4 22.2-15.9 15.5-9.7z" fill="#7ab2d2"/>
<path d="M623.6 588.5l1.5-2 27.8 0 0 90.4-13.3 33.3-17.2 46-9 21-9 18.5-12.5 20.8-14.4 20.8-16.1 19.3-11 11.2-7 5.1-16.1 10-38.3 20.8-35.3 20-48.5 23-9 3.7-7.1 2.3-14.4 2.8-41.3 4-37.8 6-19.6 2.6-43.1 3.5-64.6 3.2 0-317.1 118.5-3.2 57.4 2.4 52 3.8 21.6 1 30.5-0.4 12.6-1 12.5-1.5 18-3.4 25.1-6.3 19.7-6.1 16.2-6.2 14.4-7.6 12.5-7.7 20.8-15.1 15.1-9.7 5.4-4.7z" fill="#84b6c8"/>
<path d="M624.7 588.5l1.5-2 26.7 0 0 90-11.3 27.7-21 54.9-9 20.7-7.2 14.5-14.3 23.5-12.6 17.9-17.9 21.3-10.8 10.6-10.8 7.4-16.1 9.7-68.2 37.4-48.5 22.4-9 3.6-7.1 2.3-14.4 2.7-41.3 4.3-39.5 6.2-17.9 2.2-45.4 3.7-62.3 3.2 0-310.2 122-3.1 61.1 2.3 48.4 3 23.4 0.5 28.7-1 23.3-2.8 19.8-4.1 26.9-7.1 19.7-6.5 12.6-5.3 21.5-12.1 24.9-17.9 11-7.1 7.2-6z" fill="#84b6b9"/>
<path d="M625.7 588.5l1.3-2 25.9 0 0 89.6-13.2 32.1-20.9 53.7-9 20.2-7.2 14.1-12.5 20.1-12.6 17.9-17.9 21.3-10.8 10.6-11.1 7.7-16.4 9.9-65.8 35.9-10.8 5.2-37.7 16.7-9 3.6-8.9 2.8-16.2 3-39.5 4.4-39.5 6.1-16.1 2-48.5 3.9-61 3.2 0-302.8 122-3.5 61.1 2 44.8 2.4 23.4 0.3 30.5-1.3 25.1-3.2 18-3.8 26.9-7.1 19.7-6.5 14.4-6.1 23.3-13.4 32.3-22.9 9-7.7z" fill="#84b6aa"/>
<path d="M626.6 588.5l1.3-2 25 0 0 89.1-13.6 32.6-22.3 56.4-7.2 16.1-7.2 14-12.5 20.1-12.6 17.8-17.9 21.2-10.8 10.7-13.2 9.3-16.3 9.9-60.2 32.5-14.4 6.9-34.1 14.7-10.8 4.3-10.7 3.4-18 3.2-37.7 4.5-53.8 7.7-50.3 4.1-61 3.2 0-295.3 122-3.5 62.9 1.4 41.2 1.8 19.8 0.1 34.1-1.6 14.4-1.7 12.5-2 19.8-4.3 26.9-7.4 21.5-7.4 12.6-5.6 21.5-12.6 32.3-23.5 9-8.2z" fill="#84b69a"/>
<path d="M627.6 588.5l1.3-2 24 0 0 88.6-15.6 37.1-20.3 50.8-7.2 16.1-7.2 14.1-12.5 20-12.6 17.7-17.9 21.3-10.8 10.6-14.4 10.3-17.2 10.6-18 10-36.5 19.2-18 8.5-32.3 13.5-10.8 4.2-10.7 3.3-19.8 3.8-87.9 12-53.9 4.5-61 3.3 0-287.7 57.4-1.5 62.9-2.3 64.6 1.1 39.5 1.2 17.9 0 35.9-2.1 14.4-1.7 14.3-2.4 23.3-5.5 27-7.7 19.7-7 12.6-6 14.3-8.4 9-5.7 26.9-20.1 5.4-4.6 5.4-5.5z" fill="#86b790"/>
<path d="M628.7 588.5l1.3-2 22.9 0 0 88.1-2.7 5.7-12.5 29.9-22.5 55.3-7.2 15.7-5.4 10.4-14.3 22.6-10.8 15-17.9 21.2-11.6 11.4-13.8 10-19.1 11.9-18.3 10.2-30.8 15.8-21.3 10-25.1 10.2-16.2 6.1-11.5 3.6-8.7 2-13.9 2.3-86.1 11.9-53.9 4.6-61 3.3 0-279.9 57.4-1.4 62.9-2.5 68.2 0.5 34.1 0.8 16.1-0.2 37.7-2.6 16.2-2 16.1-2.9 25.1-6.3 25.2-7.4 19.7-7.4 12.6-6.3 14.3-8.5 9-5.9 25.1-19.2 10.8-10.7z" fill="#8ab986"/>
<path d="M631.2 586.5l21.7 0 0 87.5-3.1 6.3-14.3 33.9-20.3 49.7-7.2 15.7-5.4 10.4-14.3 22.5-12.6 17.2-17.9 20.8-10.8 10.3-15.3 11-17 10.8-17.9 10-25.2 12.8-19.7 9.3-14.4 6-26.9 10.4-17.9 5.7-10.8 2.4-18 3-80.7 11.2-50.3 4.3-64.6 3.6 0-271.8 57.4-1.5 62.9-2.6 100.5 0.4 14.3-0.4 19.8-1.2 23.3-2.3 16.2-2.3 16.1-3.2 28.7-7.6 23.4-7.2 17.9-7.1 14.4-7.6 12.5-7.7 10.8-7.3 10.8-8.1 10.7-9 10.8-11 5.4-7z" fill="#8dba7d"/>
<path d="M631.2 588.5l1.4-2 20.3 0 0 86.6-2.7 5.2-16.1 37.9-18.9 46-7.2 15.7-5.4 10.3-12.5 19.9-12.6 17.4-19.7 23.1-7.2 7.2-4.6 4-16.7 12-15.7 9.9-17.8 10-20.6 10.4-21.5 9.9-18.4 7.7-22.9 8.5-18 5.5-12.5 2.9-18 3.1-75.3 10.6-55.7 5-64.6 3.6 0-263.6 59.2-1.4 61.1-2.8 111.2-1 19.8-1.5 25.1-2.7 16.2-2.4 16.1-3.3 26.9-7.1 25.2-7.9 19.7-7.7 14.4-7.7 12.5-7.7 10.8-7.3 19.7-15.7 7.2-7 5.4-6.2z" fill="#91bb75"/>
<path d="M632.7 588.5l1.5-2 18.7 0 0 85.8-1.5 2-1.8 4-17.9 41.9-18.3 44.2-10.8 22-14.3 22.3-12.6 17.1-17.9 20.7-7.2 7.3-5.4 4.6-15.7 11.4-16.6 10.7-16.1 9.1-18 9-21.5 9.9-21.6 8.9-21.5 7.8-19.8 5.8-14.3 3.2-19.8 3.5-44.8 6.7-25.2 3.2-61 5.4-61 3.4 0-254.9 59.2-1.6 59.3-2.8 111.2-2.1 19.8-1.7 26.9-3.4 18-3 16.1-3.5 35.9-10.2 23.3-8 14.4-6.3 19.7-11.6 19.8-13.5 16.1-13.8 10.8-11.8z" fill="#95bc6d"/>
<path d="M634.4 588.5l1.7-2 16.8 0 0 84.4-1.3 1.4-2 4-5.7 14.4-13 29.5-17.5 42.4-7.2 15.1-5.3 9.9-12.6 19.1-12.6 16.9-19.7 22.7-5.5 5.5-7.1 6-14.3 10.4-17.9 11.6-14.4 8.1-16.2 8.1-21.5 9.8-21.6 8.7-21.5 7.6-19.8 5.8-16.5 3.7-22.4 4-36.4 5.6-25.2 3.2-61 5.6-66.4 3.8 0-245.8 57.4-1.4 61.1-3.1 107.6-3.2 19.8-1.9 28.7-4 18-3.2 17.9-4 35.9-10.5 21.5-7.5 16.2-7.1 21.5-12.7 18-12.5 9-7.3 7.1-6.6 9.4-10.6z" fill="#9abd65"/>
<path d="M636.5 588.5l1.7-2 14.7 0 0 82.7-1.8 1.5-2 3.6-5.2 14.5-13.8 31.4-13.1 32.1-7.2 16.1-7.2 14-14.3 22.1-12.6 16.9-17.9 20.6-7.2 7.3-5.4 4.6-14.3 10.7-16.2 10.7-16.2 9.4-16.1 8.2-21.5 9.8-22.4 9-20.7 7.3-19.8 5.7-16.1 3.8-23.3 4.2-34.1 5.4-25.2 3.2-67.9 6.3-63.1 3.6 0-236.1 59.2-1.8 53.9-2.9 46.6-1.4 64.7-3 19.7-2.2 30.5-4.8 19.8-3.9 17.9-4.3 37.7-11.5 23.3-8.6 14.4-7 23.3-14.6 16.2-11.7 12.5-11.4 10.8-12.6 10.8-16.2z" fill="#9fc05d"/>
<path d="M640.2 586.5l12.7 0 0 77-1 2.8-3.7 6-7.6 21.9-11.3 26-12.3 29.9-9 19.6-7.1 13.4-14.4 21.5-12.6 16.3-18.3 21-8.3 7.9-5.1 4-16.7 12-15.7 10-14.8 8.3-16.2 8-19.7 8.7-23.4 9.2-19.7 6.8-19.8 5.6-16.1 3.7-23.3 4.3-33.8 5.2-23.7 2.9-66.4 6.1-64.6 3.8 0-225.5 26.9-0.4 37.7-1.4 52.1-3.3 105.9-5.6 19.7-2.5 34.1-6.1 19.7-4.3 18-4.7 37.7-11.9 21.5-8.2 14.4-7.2 25.1-15.6 16.2-12.2 12.5-11.8 9-11.3 11.7-17.9z" fill="#a5c355"/>
<path d="M641.8 586.5l11.1 0 0 68.4-3.1 9.4-3.6 8-7.7 23.9-23.3 55.7-7.2 15.2-7.1 13.2-14.4 21.6-10.8 14.1-19.7 22.4-7.2 7-5.4 4.3-16.1 11.7-16.2 10.4-14.3 8.2-18 9-21.5 9.7-21.6 8.5-18.8 6.5-20.7 5.9-16.1 3.7-21.5 3.9-32.4 5-23.3 3-70 6.5-64.6 3.8 0-214.4 73.6-2.1 82.6-4.9 64.6-5.1 19.7-3 37.7-7.6 19.7-4.7 18-5 39.5-12.9 21.5-8.6 16.2-8.9 25.1-16.6 14.4-11.3 10.7-11.2 7.2-9.5 10.8-17.2 8.9-11.1z" fill="#aec84e"/>
<path d="M641.7 588.5l1.3-2 9.9 0 0 59.2-1.8 6.9-5.4 14.9-6.1 20.7-5.6 16-13.4 32.8-7.2 16.2-7.2 14.6-7.1 12.5-12.6 18.5-12.6 16.2-18.5 20.9-6.6 6.3-5.4 4.2-16.1 11.4-16.2 10.2-16.1 9.1-21.3 10.6-20 9-21.6 8.6-19.7 6.8-18 5.1-14.3 3.2-19.8 3.6-52.2 7.6-75.2 7-64.6 3.9 0-202.2 32.3-0.6 41.3-1.7 84.3-5.7 61.1-5.9 19.7-3.3 37.7-8.6 19.7-5 19.8-5.8 39.5-13.3 19.7-8 16.2-8.8 17.9-11.5 10.8-7.4 14.3-11.9 9-9.7 7.2-10 9-14.8 10.7-14.3z" fill="#bccf46"/>
<path d="M643.1 588.5l1.1-2 8.7 0 0 48.4-2.4 11.4-6.6 20-6.6 23.9-8.4 24-8.3 20.3-9 19.7-9 17.1-7.1 11.3-10.8 15.5-10.8 13.6-17.9 20.1-7.2 6.9-5.4 4.2-16.1 11.2-18 11.1-15.4 8.6-23.9 11.9-17.4 8-19.6 8-20.6 7.3-15.9 4.7-14.6 3.4-19.8 3.6-34.1 5.2-21.5 2.7-75.4 6.9-62.8 3.9 0-189.9 37.7-0.7 39.5-1.9 77.2-5.9 62.8-7.1 19.7-3.7 41.3-10.4 21.5-5.9 18-5.8 39.5-13.6 19.7-8.4 16.2-9.2 17.9-11.7 10.8-7.6 12.5-10.5 9-10.1 7.2-10.4 9-15 9.3-13.1z" fill="#cbd540"/>
<path d="M644.6 588.5l1.3-2 7 0 0 34-0.9 7.9-3.1 16-5 15-8.1 30.8-5 16-6.1 16-8.6 19.9-8.1 16.4-7.1 12.7-9 13.6-9 12.5-9 11.1-17.9 19.9-5.4 5.2-5.4 4.4-16.1 11.2-18 11-17.9 9.9-28.8 14.6-17.9 8.2-16.2 6.5-19.7 7-16.2 4.8-14.3 3.3-19.8 3.6-55.6 7.6-73.6 6.7-62.8 3.9 0-178.1 25.1-0.3 35.9-1.3 75.4-5.4 25.1-2.5 57.5-7.8 19.7-4.3 52.1-14.5 21.5-6.8 35.9-12.6 19.7-7.7 16.2-8 30.5-19.8 16.2-12.4 7.1-7.2 9-11.8z" fill="#dadd3d"/>
<path d="M646.8 588.5l1.9-2 3.7 0 0.3 2-0.7 21.9-1.1 12-1.8 12-1.8 8-5.2 17.5-9.3 36.3-4.6 14-5.8 15.1-7.2 16.2-8.4 16.6-7.7 12.9-10.2 15-11.4 14.9-14.3 16.3-10.8 11.2-7.2 6-16.1 10.9-18 10.8-30.5 16.4-23.3 11.9-14.4 6.5-17.9 7-16.3 5.8-16 4.7-14.3 3.3-18.1 3.1-55.6 7.5-73.6 6.7-62.8 4 0-166.3 41.3-1.1 41.3-2.5 71.8-6.5 62.8-8.5 10-2 13.3-3.5 48.5-14.4 21.5-7.1 41.3-15 19.7-8.1 14.4-7.7 30.5-20.1 9-6.9 7.2-6.2 7.1-7.9 7.2-9.9 28.7-47z" fill="#e8e23a"/>
<path d="M646.9 592.5l0.6-0.7 1.8-0.6 1.2 3.3 0.1 4-1.1 19.9-2.7 18-15.3 59.8-5.5 17-6.7 16.9-7.7 16.4-7.2 13.1-6.6 10.4-11.3 16.3-10.8 13.7-14.3 15.9-9 9.1-7.2 6-16.1 10.7-16.2 9.7-55.6 29.5-14.4 6.6-17.9 7-18 6.4-14.3 4.3-14.4 3.3-18 3.1-53.8 7.2-73.6 6.8-64.6 4.2 0-156.1 26.9-0.4 34.1-1.4 66.4-5.4 34.1-4 57.5-8.7 21.5-5.2 46.7-14.3 23.3-8 39.5-14.7 19.7-8.2 14.4-7.5 30.5-20.5 9-6.7 7.2-6.2 7.1-7.6 9-12.1 26.9-44.2z" fill="#e4d636"/>
<path d="M645.6 598.5l1.9-0.4 0.2 0.4 0.6 7.9-1.1 16-2.6 16-9.5 39.9-5.4 19.9-5.5 16.5-7.9 19.4-6.5 13.4-7.2 12.6-8.9 13.4-10.8 14.8-9 10.8-16.1 17.3-7.2 6.9-7.2 5.4-14.3 9.4-16.2 9.5-57.4 30.7-12.6 5.8-19.7 7.7-16.5 5.9-14 4.3-14.4 3.2-18 3.2-55.6 7.4-70 6.4-66.4 4.4 0-146.7 41.3-0.8 35.9-2.1 71.8-6.9 53.8-7.5 21.6-3.8 17.8-4.7 41.4-13 28.7-10.1 44.9-17.4 19.7-9 12.6-7.7 32.3-23.1 10.8-9.5 10.7-13 10-14.9 20.5-33.8z" fill="#e0c932"/>
<path d="M643.4 606.4l0.5-0.5 1.3 0.5 0.5 0.9 0.1 7.1-0.6 8-2.4 16-6 28.1-5.4 21.7-3.6 12.4-7.2 20-7.2 17-5.4 10.9-7.1 12.1-10.8 15.3-9 11.9-7.2 8.4-17.9 18.7-7.2 6.4-7.2 5.2-14.3 9.1-16.2 9.3-59.2 31.6-12.6 5.6-23.3 8.9-14.4 5-12.5 3.6-12.6 2.7-19.7 3.4-57.5 7.4-57.4 5.2-73.6 5.1 0-137.7 34.1-0.5 34.1-1.7 77.2-7.5 48.4-6.5 25.2-4 17.9-4.2 41.3-12.6 26.9-9.5 48.5-19 21.5-9.9 12.6-7.7 30.5-22.2 12.6-11.1 5.3-5.7 6-7.3 11.2-15.9 18.7-30.2z" fill="#ddba2f"/>
<path d="M641.2 616.4l0.9-0.5 0.6 2.5-0.6 12-3.6 20.9-7.1 32.1-3.6 12.8-5.4 15.8-7.1 18.1-5.5 12.1-5.4 10.1-5.3 8.4-12.6 17.4-9 11.1-14.3 15.3-9 8.8-7.2 6-9 6-26.9 15.8-46.7 25.4-14.3 7.2-10.8 4.8-25.1 9.6-12.6 4.3-12.5 3.6-14.4 3.1-17.9 3.1-55.7 7.4-62.8 5.5-70 5 0-128.8 34.1-0.4 34.1-1.8 75.4-7.6 48.4-6.3 27-4.1 16.1-3.7 37.7-11.2 21.6-7.4 57.4-22.9 17.9-8.1 7.2-3.8 7.2-4.5 26.9-19.8 14.4-11.8 7.2-7 5.3-6.1 12.9-16.5 8.2-11.9 9.5-15 3.5-4.7z" fill="#d9ab2d"/>
<path d="M635.9 630.4l0.9-0.9 1.7 0.7-0.3 10.2-3.2 20.5-5.4 23.7-3.6 12.3-7.2 20.4-6.8 16.8-5.8 11.9-5.3 9.3-9 12.7-9 11.6-9 10.5-12.5 12.9-9 8.5-7.2 5.5-12.5 8.1-23.4 13.4-44.9 24.3-16.1 8.2-9 3.9-23.2 8.8-14.5 5-12.5 3.5-14.4 3.1-16.1 2.8-55.7 7.6-66.4 5.8-68.2 5 0-119.3 34.1-0.6 34.1-1.7 61-6.1 48.5-6 37.7-5.6 12.5-2.4 21.6-5.8 34.1-10.9 19.7-7.5 53.9-22.2 16.1-7.9 10.8-6.6 28.7-21.4 9-7.5 7.2-6.8 10.7-11.6 8.7-10.3 6.1-8 10.4-14.7z" fill="#d59b2a"/>
<path d="M633.1 644.4l0.8 3.9-0.7 10.4-3.6 18.6-3.6 13.4-5.4 16.3-7.2 19.1-7.2 16.1-5.3 9.7-9 12.9-10.8 13.6-7.2 8.2-14.3 14.7-12.6 11-11.5 7.6-13.6 8.2-52.1 28.3-21.5 10.9-10.8 4.6-21 7.9-11.9 3.9-14.1 4-15.8 3.4-14.4 2.5-52 7.2-80.8 7.4-59.2 4.3 0-109 37.7-0.9 34.1-1.7 41.3-3.9 41.3-4.9 44.8-6.6 25.2-4.3 19.7-5.1 31.9-10.1 25.5-9.7 52.1-22 14.3-6.7 12.6-7 28.7-20.7 10.8-8.9 26.5-26.7 14.8-17.6 1.8-1.6z" fill="#d08b28"/>
<path d="M625.6 662.3l1.3 0 0.9 0.6 0.4 3.4-0.5 6-3.5 15.4-7.1 22.5-7 17.9-5.7 12.5-5.3 9.8-7.8 11.7-8.4 10.7-9 10.2-14.3 14.9-9 8.3-9 6.5-12.5 8-28.8 16.3-37.6 20-21.6 9.8-31.3 11-24.3 6.3-30.5 5.5-43.1 5.7-52.1 4.7-35.9 4.2-32.3 2.6-23.3 1.1 0-97 80.8-3.4 25.1-2.1 26.9-2.9 21.6-3.2 64.6-11.2 10.7-2.6 18.3-5.5 29.5-10 15.3-6 33.9-14.8 26.8-11.1 20.4-10 13-7.9 24.1-16.8 43.1-39z" fill="#cb7a28"/>
<path d="M613.8 682.3l3.2-1.2 1.8 1 0.6 2.2 0 3.9-2.4 12-5.4 16.5-5.4 13.4-7.1 14.4-11 17.6-9.2 11.9-22.5 24-7.6 6.7-5.4 4-16.1 10.6-16.2 9.6-43.1 22.6-23.3 10.5-23.3 7.9-25.2 6.4-29.1 5.4-24.7 3.7-21.5 2.6-55.7 4-32.3 5.8-10.8 1.5-32.3 2.5-21.5 0.2 0-82.3 37.7-2.5 57.4-1.9 28.7-2.8 18-2.7 16.1-3 59.3-13.1 14.3-3.9 19.8-6.7 32.3-12.1 70.7-30.9 17-8 11.2-6 23.1-13.7 25.2-20 8.9-6.6z" fill="#c66928"/>
<path d="M601.6 700.2l4.6-1.2 1.8 0.4 1.6 2.8 0.2 2-1.8 10-5.4 14.6-8.9 17.9-9.4 15.4-7.3 9.9-12.1 14-9.6 10-6.6 6-19.9 13.9-26.7 16-23.3 11.9-16.9 8-20.8 8.2-21.5 5.8-21.6 4.1-43 6.9-19.8 2.7-16.1 1.5-48.5 1.6-12.6 2.3-26.9 7-14.3 2-25.2 1.5-23.3-0.5 0-64.4 22.4-2.6 24.3-2 14.3-0.5 35.9 0 21.6-2 19.7-3.5 21.5-4.7 59.3-16.6 17.9-6.1 44.9-17.7 41.3-19 37.7-16.4 41.2-19.4 23.4-15.5z" fill="#c25c27"/>
<path d="M588.5 718.2l3.4-0.9 1.8 0.2 1.8 1.2 1.2 3.5-0.3 3.9-1 4-3.6 10-7.1 14-7.2 11.2-11.6 14.7-10.6 12-6.5 6.2-7.4 5.7-14.1 9.9-12.9 8.1-25 14-16.5 7.9-13.8 6-18 6.2-16.5 3.8-39.1 5-48.5 7.2-19.7 1.5-34.1-0.1-10.8 0.4-10.8 2-28.3 7.9-12.9 2-25.2 0.9-14.3-0.6-12.6-1.2 0-39.1 18.6-3.8 35.2-4.3 10.8-0.5 30.5 0.2 14.4-1.2 23.3-4.7 34.1-9.1 52.1-17.3 16.1-6.2 46.7-19.9 43.2-20.8 53.8-24 7.1-2.6 16.1-4.6 12.6-6.5z" fill="#be5426"/>
<path d="M573.2 736.1l2.5 0.1 1.8 0.8 1.3 1.1 0.8 2-0.3 6.5-3.6 10.6-3.7 6.8-10.5 14-7.3 8.7-7 7.3-7.4 6-8.9 6.4-25.2 15.6-26.9 14.3-22 9.5-15.7 5.1-10.8 2.3-12.5 1.5-34.1 2.3-43.1 7.4-12.6 1.7-12.5 0.6-23.4-0.5-12.5 0.3-10.8 1-21.5 3.3-10.8 0.9-10.8-1.1-3.4-0.8-3.2-2-0.2-2 1.1-2 2.1-2 3.3-2 5.7-2.4 5.2-1.6 9.2-1.9 25.1-3.4 12.6-2.8 26.9-8.5 34.1-10.2 44.9-15.5 12.5-5.2 46.7-21.2 45.7-23.1 51.2-23.4 5.4-1.5 14.4-1z" fill="#bb4b24"/>
<path d="M546.2 758.1l3.6 0 2.6 1.1 1.9 2.9 0.1 3.9-2 5.6-2.7 4.4-3.4 4-4.4 4-7.4 6-9 6.4-19.8 12.7-39.5 22.1-17.6 8.7-10.9 3.9-8.7 2-11.2 0.9-30.5 0.9-10.8 1.9-28.6 6.3-7.3 0.8-10.8 0.2-7.2-1-0.7-2 1.4-2 2.4-2 7.5-4 15.7-5.9 40.2-10.9 19.6-7.1 45-19.9 52-26.8 18-8.8 10.7-4.7z" fill="#b74023"/>
<path d="M527.4 979.5 533.7 972.6 539.8 965.7 545.7 958.7 551.3 951.8 556.7 944.9 562.1 938 567.4 931 572.7 924.1 577.8 917.2 582.9 910.3 587.7 903.3 592.3 896.4 596.6 889.5 600.7 882.6 604.4 875.7 607.7 868.7 610.8 861.8 613.7 854.9 616.5 848 619.2 841 621.7 834.1 624.1 827.2 626.4 820.3 628.5 813.3 630.6 806.4 632.6 799.5 634.5 792.6 636.2 785.7 637.8 778.7 639.3 771.8 640.6 764.9 641.9 758 643.2 751 644.5 744.1 645.8 737.2 647.3 730.3 648.9 723.3 650.7 716.4 652.9 709.5 652.9 979.5z" fill="#fff"/>
</g>
<g>
<rect x="168.3" y="1053" width="484.6" height="393" fill="#231d58"/>
<path d="M168.3 1053l195.6 0 27 4.5 21.5 1.1 37.7-1.2 40.6-4.4 162.2 0-0.2 97.8-1.7 1.9-0.4 8-1.3 1.4-0.4 6.6-1.4 2-0.3 6-0.4 2-1.1 1.2-0.5 6.8-1.3 2-0.5 5.9-1.3 2-0.5 6-1.3 2.3-0.4 5.7-0.6 2-0.8 0.9-0.6 7.1-1.3 2-0.4 6-1.2 2.5-0.5 5.4-1.6 4-0.6 6-0.9 1.2-0.6 4.8-0.5 2-0.7 0.8-0.8 5.2-1.2 2-0.8 4-0.8 0.9-0.7 3-1.2 2-2.6 8-0.9 1.3-0.7 2.7-7.7 18-6.9 13.9-3.4 6-7.4 12-10.6 15.9-9.1 12-18.8 21.3-9 9.3-25.1 23.8-9 8-12.6 9.9-8.9 5.7-11.1 5.8-312 0z" fill="#241e63"/>
<path d="M168.3 1053l178.6 0 17 3.5 27 4.6 14.3 1.3 18 0.5 23.3-0.3 23.3-1.7 30.5-3.7 23-4.2 129.6 0-0.3 97.8-1.6 1.9-0.3 6-1.4 2.8-0.7 7.2-1.2 2-0.5 6-1.2 2.3-0.6 5.7-1.2 2.9-1 7-0.8 1.2-1 6.8-0.9 2-0.8 6-0.9 2-0.7 6-1.4 4-0.3 4-1.3 3.9-2.6 14-0.8 2.1-2.8 11.9-4 11.9-7.1 18-7 16-9.4 17.9-12.6 20-6.9 9.9-9.3 12-16.3 18.3-9 9.1-26.9 25.3-10.8 9.3-10.8 8.2-8.9 5.5-12 6.1-309.3 0z" fill="#241e6e"/>
<path d="M203.9 1055l13.4-2 115.5 0 20.4 5 41.2 7.2 19.8 1.8 26.9 0.6 26.9-1.1 27-2.8 23.3-4.4 23.8-6.3 110.8 0-0.2 95.8-0.3 2-1.5 1.9-0.4 6-1.2 2.2-0.6 5.8-1.5 4-0.6 6-1 2-0.8 6-1.3 4-0.5 3.9-3 12-4.3 22-5.4 23.9-4.1 14-5.3 13.9-7.4 18-7.3 15.3-7 12.6-8.8 14-9.3 13.7-9 11.5-10.7 12.2-10.8 11.2-26.6 25.2-11.1 9.9-10.1 8-7.8 5.4-9 5.2-11.2 5.4-306.5 0 0-390.2 17.9 0.5z" fill="#262274"/>
<path d="M225.6 1055l6-2 91.3 0 6.9 2.8 14.4 3.8 48.5 9.1 25.1 2.7 30.5 1 28.7-1.3 14.4-1.5 12.5-1.9 14.4-2.9 16.1-4 14.4-4.2 9.6-3.6 94.5 0-0.3 95.8-0.3 2-1.4 1.9-0.5 6-1.2 2-0.7 6-1.4 4-0.4 4-1.2 4-1 6-14.6 65.8-3.9 13.2-7.2 18.8-9 20.8-7.2 14.1-14.3 23.2-12.6 17.6-12.5 14.5-14.4 14.9-30.5 28.4-16.2 13.2-12.5 8.1-17.7 8.7-303.6 0 0-386.8 12.6 0.5 14.3-0.5 16.2-1.7z" fill="#28267a"/>
<path d="M236.3 1055l4.6-2 74.5 0 10.8 5.3 10.8 3.2 14.4 3.2 39.5 7.3 14.3 2.2 14.4 1.5 17.9 1.1 16.2 0.3 16.1-0.4 16.2-1.2 14.3-1.8 16.2-2.9 16.3-3.8 14.2-4.3 22.6-9.7 83.3 0 0 91.4-0.4 4.4-0.4 2-1.3 1.9-0.6 6-1.1 2-0.8 6-1.3 4-0.5 4-16.9 75.7-3.6 12.1-7.2 18.8-9 20.8-7.2 14.2-14.3 23.2-12.6 17.7-12.5 14.5-14.4 14.7-30.5 28.3-9 7.6-9 6.9-14.3 8.8-17.2 8-300.5 0 0-383.3 17.9 0.3 19.8-1.4 17.9-2.6 5.4-1.4z" fill="#2a2a7e"/>
<path d="M246.5 1055l4.6-2 56.3 0 11.7 6 8.9 3.7 10.8 2.9 14.4 3 41.2 7.7 18 2.7 23.3 2.1 23.4 0.6 17.9-0.5 16.2-1.4 16.1-2.3 14.4-2.9 12.5-3.3 12.6-4 32.4-14.3 71.7 0 0 91.3-0.5 4.5-0.4 2-1.3 1.9-0.7 6-1 2-0.9 6-1.3 4-0.5 4-16.7 74.5-3.6 12-9 23.2-9 20.3-7.1 13.6-16.2 25.6-10.8 14.5-14.3 15.9-12.6 12.5-31.8 29.3-9.5 7.7-8.9 6.5-14.4 8.2-16.9 7.5-297.2 0 0-379.7 23.3-0.1 27-2.8 12.5-2.6z" fill="#2c2e82"/>
<path d="M259.7 1055l6-2 30.6 0 29.9 12.9 21.6 5.3 48.4 9.1 18 2.8 25.1 2.5 23.4 0.7 17.9-0.6 17.9-1.7 16.2-2.4 16.2-3.6 12.5-3.6 9-3.4 28.7-13.3 9-4.7 62.8 0 0 91.2-0.4 0.6-0.1 4-1.7 3.9-0.4 4-1.4 4-19.3 87.2-3.6 11.9-10.8 27.6-7.2 16-7.1 13.7-14.4 23-12.6 17.2-19.7 21.3-26.9 25.3-18 15.7-14.3 10.5-16.2 8.8-16.7 7.1-293.8 0 0-376 12.6 0.1 14.3-0.6 14.4-1.3 14.3-1.8 13.5-3.4z" fill="#2d3084"/>
<path d="M593.5 1055l3-2 56.4 0 0 91.1-0.5 0.7-0.1 4-1.7 3.9-0.5 4-3.5 14-13.4 60.9-5.4 21.4-10.8 28.8-10.8 24-5.3 10-12.6 20.4-7.2 10.6-7.2 9.3-19.7 21.3-28.7 26.7-18 15.6-14.3 10.2-15.3 8.1-19.3 8-290.3 0 0-372.3 26.9-0.6 28.7-3 14.4-3.1 32.3-9.4 7.2-1.4 5.4-0.2 7.1 0.8 7.2 1.9 25.2 9.9 8.9 2.7 16.2 3.5 53.8 10.2 19.8 3 17.9 1.8 19.8 0.9 17.9-0.3 16.2-1.1 16.1-2 14.4-2.7 14.3-3.8 12.6-4.3 19.7-8.9 12.6-6.2z" fill="#2f3387"/>
<path d="M599.4 1055l2.6-2 50.9 0 0 91.1-0.5 0.7-0.2 4-1.7 3.9-0.5 4-3.6 14-13.2 59.7-5.4 21.2-10.8 28.8-10.8 24.1-5.3 10.1-10.8 17.5-9 13.5-7.2 9.3-19.7 21.2-30.5 28.3-16.2 13.9-14.3 10.2-18 9.4-20.3 8.1-286.6 0 0-368.5 26.9-0.7 26.9-2.5 16.2-2.9 34.1-8.2 7.2-1.1 5.4-0.1 7.1 0.9 7.2 1.8 23.4 8 8.9 2.4 79 15.2 18 2.6 17.9 1.5 17.9 0.5 18-0.4 17.9-1.5 16.2-2.5 14.4-3.1 14.3-4.3 15.6-6.2 13.1-6.3 12.6-7z" fill="#303589"/>
<path d="M604.5 1055l2.2-2 46.2 0 0 91-0.6 0.8-0.2 4-1.6 3.9-0.6 4-3.6 14-14.9 66.1-5.4 18.9-7.2 18.9-7.2 17.1-5.4 11.5-5.3 10.1-14.4 23.1-10.8 15.1-12.5 14.1-12.6 12.6-30.4 27.9-16.3 13.6-12.5 8.5-18 9.1-22.4 8.7-282.7 0 0-364.6 26.9-0.8 23.4-2 19.7-2.8 37.7-7.1 5.4-0.6 5.4 0.1 12.5 1.9 31.8 8.8 88.5 16.6 16.1 2.1 16.2 1.1 16.1 0.4 16.2-0.5 16.1-1.4 16.2-2.4 16.2-3.7 16.1-5.1 16.2-6.7 14.3-7.3 14.4-8.9z" fill="#31388c"/>
<path d="M608.4 1055l1.8-2 42.7 0 0 90.9-0.6 0.9-0.2 4-1.7 3.9-19 82.8-5.4 18.8-7.2 18.8-7.2 17.2-5.4 11.5-5.3 10.1-14.4 23.2-10.8 15.1-12.5 14.1-12.6 12.5-30.5 28-16.2 13.5-7.1 5.1-7.2 4.4-9 4.8-10.8 4.9-22.7 8.5-278.8 0 0-360.7 25.1-0.8 21.6-1.5 19.7-2.3 41.3-6.2 10.8-0.5 12.5 1.5 28.7 6.8 80.8 15.2 16.2 2.6 16.1 1.8 16.2 0.9 16.1 0.1 14.4-0.6 17.9-1.8 18-3.3 17.9-4.8 15.5-5.5 13.3-6 16.1-9.2 14.4-9.8z" fill="#343e90"/>
<path d="M611 1055l1.6-2 40.3 0 0 90.8-0.7 1-0.2 4-1.7 3.9-20.7 88.5-3.6 11.6-5.4 14.3-12.6 29.6-7.1 13.9-16.2 25.9-10.8 14.5-12.5 13.7-10.8 10.6-32.3 29.7-16.2 13.2-7.1 4.9-8.4 4.9-9.6 4.9-10.8 4.8-23 8.3-274.9 0 0-356.7 43.1-2 62.8-7 14.4-0.4 16.1 1.9 64.6 11.7 41.3 8 19.7 3.1 14.4 1.4 16.2 0.8 14.3-0.1 16.2-0.9 19.7-2.4 12.9-2.5 19.4-5.4 16.2-6 17.5-8.6 16.5-9.9 9-7z" fill="#374496"/>
<path d="M613.1 1055l1.4-2 38.4 0 0 90.7-0.8 1.1-0.2 4-1.6 3.9-20.7 87.1-3.6 11.5-5.4 14.3-12.6 29.7-8.9 16.9-16.2 25.5-9 11.9-14.3 15.5-43.1 40-16.2 13-7.1 4.7-9 5.1-19.8 9.1-25.3 9-270.8 0 0-352.6 39.5-1.8 61-5.6 10.8-0.7 9 0.1 16.1 1.5 37.7 5.6 70 13 19.7 3 14.4 1.3 16.2 0.6 14.3-0.2 14.4-0.9 17.9-2.2 19.8-4.2 19.7-5.9 15.4-6.1 16.9-8.8 16.9-11.1 8.2-7.4z" fill="#3b4c9c"/>
<path d="M614.8 1055l1.4-2 36.7 0 0 90.7-0.8 1.1-0.3 4-1.6 3.9-4 16-16.6 69.7-3.6 11.4-5.4 14.3-12.6 29.7-8.9 17-16.2 25.5-9 11.9-12.5 13.7-12.6 12.1-32.3 29.6-10.2 8.5-7.8 5.8-7.1 4.6-9 4.9-10.8 5.2-10.7 4.5-25.9 8.9-266.7 0 0-348.5 41.3-2 62.8-4.7 19.7-0.1 18 1.5 34.1 4.5 70 12.8 19.7 2.8 12.6 1 16.2 0.5 14.3-0.2 16.2-1 13.6-1.7 9.7-1.8 16.2-4 17.9-5.7 14.4-6.1 17.9-9.4 16.2-10.8 7.1-6.9z" fill="#4056a4"/>
<path d="M616.4 1055l1.3-2 35.2 0 0 90.6-0.9 1.2-0.2 4-1.7 3.9-4 16-16.5 68.3-3.6 11.3-5.4 14.3-12.6 29.7-8.9 17-16.2 25.5-9 12-12.5 13.6-10.8 10.4-34.1 31.3-9 7.6-9 6.7-7.1 4.6-10.8 5.9-21.5 9.5-28.4 9.6-262.4 0 0-344.2 39.5-1.9 59.2-4.1 12.6-0.4 12.5 0.2 23.4 1.7 26.9 3.1 70 12.3 21.5 2.9 14.4 1 14.4 0.3 14.3-0.3 16.2-1.2 19.7-3 21.5-5.2 18-5.9 18.9-8.4 14.2-8 15.4-11 7.1-7.5z" fill="#4561ae"/>
<path d="M617.9 1055l1.3-2 33.7 0 0 90.5-0.9 1.3-0.3 4-1.6 3.9-5.7 22-14.8 60.8-3.6 11.3-5.4 14.2-12.6 29.8-8.9 17-16.2 25.6-9 11.9-12.5 13.6-10.8 10.4-35.9 32.9-9 7.4-8.9 6.6-7.2 4.4-10.8 5.8-10.8 5-12.5 5.1-29.2 9.5-258 0 0-339.9 39.5-1.8 59.2-4 12.6-0.5 12.5 0.2 19.8 1.3 30.5 3.2 70 11.6 21.3 2.7 14.6 0.9 14.4 0.2 16.1-0.6 14.4-1.2 21.5-3.4 21.5-5.6 18-6.1 16.1-7.5 16.2-9.1 14.4-10.3 7.1-7.6z" fill="#4c6eb9"/>
<path d="M619.4 1055l1.4-2 32.1 0 0 90.4-1 1.4-0.3 4-1.6 3.9-5.8 22-11 45.8-5.4 19.5-10.8 28.5-10.8 24.5-8.9 16.3-16.2 25.1-9 11.5-12.5 13.2-44.9 41.5-9 7.5-8.9 6.6-9 5.5-10.8 5.6-12.6 5.7-12.5 4.9-14.4 4.9-15.8 4.7-253.4 0 0-335.3 39.5-1.8 57.4-4.1 25.1-0.4 19.8 1.1 30.5 2.9 70 10.9 23.3 2.6 14.4 0.8 16.1 0 16.2-0.9 14.4-1.4 21.5-3.8 21.5-5.9 16.2-5.6 19.7-9.3 14.4-8.5 12.6-9.2 8.4-9.1z" fill="#547ec7"/>
<path d="M622.3 1053l30.6 0 0 90.3-1 1.5-0.4 4-1 2-6.4 23.9-10.9 44.5-5.4 19.3-10.8 28.4-10.8 24.5-10.5 18.9-14.6 22.6-9 11.4-12.5 13.3-46.1 42.5-9.6 7.9-8.9 6.4-10.8 6.3-10.8 5.5-12.5 5.5-14.4 5.3-29.7 9-248.5 0 0-330.7 39.5-1.8 59.2-4.3 21.6-0.4 19.7 1 30.5 2.7 68.2 9.8 26.9 2.7 14.4 0.6 16.1-0.2 16.2-1 14.4-1.5 19.7-3.6 14.4-3.7 12.5-3.9 14.4-5.3 19.7-9.6 14.4-8.7 12.5-9.7 9-10.3z" fill="#5a8fd5"/>
<path d="M623.9 1053l29 0 0 90.3-1.1 1.5-0.4 4-1 2-6.5 23.9-10.7 43.2-5.4 19.1-10.8 28.3-10.8 24.6-8.9 16.3-16.2 25.1-9 11.5-10.8 11.4-48.4 44.9-10.8 8.7-8.9 6.2-10.8 6.2-11.7 5.9-11.6 4.9-14.4 5.4-16.1 5.1-16.9 4.5-243.4 0 0-326 35.9-1.5 59.2-4.5 23.4-0.8 19.7 0.9 32.3 2.8 66.4 8.8 26.9 2.5 16.2 0.5 16.1-0.4 16.2-1.2 16.2-1.9 21.5-4.3 25.1-7.5 16.2-6.4 17.9-9.1 14.4-9 10.7-8.5 10.1-11.4z" fill="#609ee0"/>
<path d="M625.5 1053l27.4 0 0 90.2-1.2 1.6-0.3 4-1.1 2-6.6 23.9-10.5 42-5.4 18.7-10.8 28.2-10.8 24.7-8.9 16.4-16.2 25-9 11.4-12.4 13.1-46.8 43.3-9 7.4-8.9 6.5-10.8 6.4-14.4 7.3-14.3 6.1-16.2 5.7-14.3 4.4-18.7 4.7-238 0 0-321.2 37.7-1.6 57.4-4.4 23.4-0.8 17.9 0.7 32.3 2.5 66.4 8.1 26.9 2.2 16.2 0.4 16.2-0.5 17.9-1.4 16.2-2.1 21.5-4.5 25.1-7.6 18-7.4 17.9-9.3 14.4-9.3 7.2-5.6 3.5-3.4 9-10.5z" fill="#67a7df"/>
<path d="M625.8 1055l1-2 26.1 0 0 90.1-1.2 1.7-0.4 4-1.1 2-6.1 21.9-10.9 42.7-5.4 18.5-12.6 32.5-9 20.2-5.3 10.3-5.4 9.1-14.4 22-9 11.4-10.7 11.5-50.3 46.6-10.8 8.7-8.9 6-14.4 8-14.3 6.8-14.4 5.7-12.6 4.2-19.7 5.5-15.3 3.6-232.4 0 0-316.3 37.7-1.6 59.2-4.5 21.6-0.7 17.9 0.6 30.5 2.2 64.6 7.2 28.8 2 16.1 0.3 16.2-0.6 16.1-1.3 18-2.3 23.3-5 25.1-7.8 16.2-6.6 19.7-10.2 14.4-9.4 7.2-5.6 3.5-3.3 10.3-12.1z" fill="#70afdc"/>
<path d="M627 1055l0.9-2 25 0 0 90-1.3 1.8-0.4 4-1.1 2-0.8 3.9-5.4 18-10.7 41.4-5.4 18.3-12.6 32.3-10.8 23.8-10.7 18.7-12.6 19-9 11.4-11.9 12.6-49.2 45.9-10.7 8.6-8.9 6.1-14.4 8.1-14.3 6.9-14.4 5.7-18 5.9-16.1 4.3-19.7 4.3-226.2 0 0-311.4 39.5-1.6 55.6-4.2 21.6-0.9 17.9 0.4 30.5 1.9 66.4 6.7 28.8 1.6 16.1 0.1 18-0.9 17.9-1.7 16.2-2.4 23.3-5.4 25.1-8.1 18-7.7 17.9-9.7 14.4-9.7 8.9-7.7 10.8-12.7 8.2-11.6z" fill="#7ab2d2"/>
<path d="M628.7 1053l24.2 0 0 89.9-1.3 1.9-0.5 4-1.1 2-0.7 3.5-3.9 12.4-12.2 46.1-5.4 18-12.6 32.1-10.8 23.9-10.7 18.6-12.6 18.9-9 11.4-12.5 13.4-37.1 35.1-13.2 11.8-10.8 8.6-10.7 7-16.2 8.8-14.3 6.5-16.2 6-14.3 4.4-19.8 4.9-19.4 3.8-219.3 0 0-306.3 39.5-1.6 55.6-4.2 21.6-1 17.9 0.4 30.5 1.7 62.8 5.7 30.6 1.5 17.9-0.1 16.2-1 17.9-1.8 18-2.8 23.3-5.5 26.9-9 18-8 17.9-10 16.2-11.4 8.9-8.8 7.2-8.9 7.2-10.1 3.6-5.4z" fill="#84b6c8"/>
<path d="M628.9 1055l0.7-2 23.3 0 0 89.9-1.4 1.9-0.4 3.7-1.2 2.3-0.6 3.2-4.1 12.7-12 44.8-5.4 17.7-12.6 32-10.8 23.8-10.7 18.5-12.6 18.9-9 11.4-11.6 12.5-39.7 37.9-13.4 11.9-10.6 8.3-12.6 8-16.2 8.5-16.3 7.1-16 5.6-16.1 4.5-18 4-21.7 3.9-211.6 0 0-301.1 37.7-1.4 61-4.5 23.3-0.8 46.7 1.9 62.8 5.1 34.1 0.7 14.4-0.5 16.1-1.2 16.2-2 16.2-2.6 23.3-5.8 25.1-8.5 19.8-8.8 10.7-5.8 9-5.4 14.4-10.4 8.9-8.7 7.2-8.8 7.4-10.4 3.4-5.1z" fill="#84b6b9"/>
<path d="M630.5 1053l22.4 0 0 89.8-1.5 2-0.3 3.4-1.3 2.6-0.5 2.8-4.3 13.1-11.8 43.4-5.4 17.5-12.6 31.8-10.8 23.7-10.7 18.5-12.6 18.7-9 11.4-12.5 13.6-38.5 36.9-13.2 11.9-12.7 10-12.8 8-15 8-18.5 7.9-16.8 5.7-16.1 4.1-18 3.7-25.1 4.2-204.6 0.3 0-295.8 39.5-1.5 59.2-4.4 23.3-0.8 44.9 1.6 61 4.3 18 0.5 17.9-0.1 16.2-0.8 16.1-1.4 18-2.4 16.1-2.9 23.4-6.2 26.9-9.5 10.8-4.8 10.7-5.5 18-10.9 12.6-9.5 5.3-5.2 5.4-6.3 14.4-20 1.8-3.6z" fill="#84b6aa"/>
<path d="M631.3 1053l21.6 0 0 89.5-1.5 2.3-0.3 3-1.4 3-0.4 2.5-4.5 13.4-11.6 42.1-5.4 17.2-12.6 31.6-10.8 23.6-10.7 18.4-12.6 18.6-9 11.4-13.5 14.7-39.3 37.9-13.2 11.9-11.1 8.7-15 9.3-15.2 8-14.7 6.4-16.2 5.5-16.1 4.3-18.7 3.7-24.1 4-14 2-192.7 0 0-290.2 39.5-1.5 59.2-4.4 23.3-0.9 44.9 1.2 59.2 3.6 34.2 0.1 17.9-1 16.2-1.5 17.9-2.6 17.9-3.3 23.4-6.4 26.9-9.8 19.7-9.4 10.8-6.1 9-5.8 9-6.6 5.3-4.6 10.8-12.1 12.6-17.8 2.7-5.9z" fill="#84b69a"/>
<path d="M632.2 1053l20.7 0 0 89.1-1.6 2.7-0.2 2.7-0.8 1.3-1 4.2-1 1.7-0.8 3.7-2.9 8.3-13.2 46.6-5.4 15.7-12.6 30.9-9 19.4-10.7 18.3-12.6 18.4-9.7 12.3-13.6 14.7-38.2 37.2-15.5 13.9-10.9 8.4-15.6 9.6-14.9 7.8-14.4 6.1-11.5 4-14.6 4-17 3.6-25.1 4.1-31.3 4.3-180.5 0 0-284.6 41.3-1.5 57.4-4.3 21.6-0.9 44.8 0.9 57.5 2.8 32.3-0.2 19.7-1.1 19.8-2.1 19.7-3.1 17.9-3.6 25.2-7.4 25.1-9.5 10.8-5 12.5-6.8 18-11.5 7.2-5.5 5.3-5 5.4-5.9 7.2-9.2 10.3-15.5z" fill="#86b790"/>
<path d="M632.6 1055l0.6-2 19.7 0 0 88.8-1.6 3-0.2 2.3-1 1.7-0.8 3.7-1.2 2.2-3.7 12-11.2 39.1-7.2 21.4-12.6 30.8-9 19.3-10.7 18.2-12.6 18.3-9.9 12.5-13.4 14.6-39.5 38.7-14.4 13-10.7 8.3-12.6 7.9-14.4 7.9-14.3 6.6-12.8 4.7-14 4-12.7 2.8-18.3 3.2-28.4 4.3-30.8 3.7-166.6 0 0-278.8 41.3-1.4 59.2-4.4 21.5-0.9 41.3 0.4 57.5 2.3 28.7-0.4 23.3-1.6 18-1.9 19.7-3.2 19.7-4.1 25.2-7.3 26.9-10.4 10.8-5.1 12.5-6.8 9-5.4 9-6.2 7.2-5.6 5.3-4.9 5.4-6 7.2-9.2 9-13.1 1.6-3z" fill="#8ab986"/>
<path d="M634.3 1053l18.6 0 0 88.4-1 1.4-0.8 3.9-1.2 2.1-0.6 2.9-1.3 3-5.1 16-9.7 33.5-7.2 21.1-12.6 30.7-9 19.3-8.9 15.3-14.4 20.9-10.8 13.5-14 15.3-38.5 37.9-15.4 13.9-10.5 8-12.6 8-14.5 8-12.9 5.9-10.6 4.1-12.7 3.8-9.3 2.1-19.5 3.6-35.9 5.2-44.4 5.2-151.2 0 0-272.9 43.1-1.5 55.6-4.1 21.6-1 43 0.2 55.7 1.6 23.3-0.6 25.1-1.8 19.8-2.3 23.3-3.8 19.7-4.3 25.2-7.7 14.3-5.3 14.4-6 10.8-5.3 12.5-7 9-5.6 9-6.4 7.2-5.8 5.3-5.3 7.2-8.5 7.2-9.9 7.2-11.5z" fill="#8dba7d"/>
<path d="M634.7 1055l0.7-2 17.5 0 0 88.1-1.3 1.7-0.5 2.8-1.5 3.2-0.3 2.2-2.9 7.7-13.2 43.8-7.2 20.8-12.6 30.7-9 19.2-8.9 15.2-14.4 20.8-10.8 13.4-14.3 15.7-38.2 37.9-15.7 14.3-8.9 6.9-12.6 8.2-12.6 7.1-12.5 6.2-10.8 4.4-10.8 3.6-12.6 3.1-14.3 2.8-39.5 5.8-61.6 7.4-137.6 0 0-266.6 44.9-1.6 55.6-4.1 21.5-1 39.5-0.3 55.7 1.1 21.5-0.7 26.9-2.3 21.6-2.7 21.5-3.8 21.5-4.9 12.6-3.7 14.4-4.9 26.9-11 21.5-11.3 10.8-6.7 9-6.4 7.2-5.8 5.3-5.4 7.2-8.5 7.2-10 7.2-11.5z" fill="#91bb75"/>
<path d="M636.1 1055l0.7-2 16.1 0 0 87.7-1.6 2.1-1.4 4-16.7 54-5.4 15.8-5.4 13.6-10.8 25.8-9 18.4-8.9 14.5-12.6 18-10.8 13.3-14.6 16.1-37.9 37.9-15.7 14.3-7.1 5.7-11.8 7.9-13.4 8-11.7 6-9.1 4-11.5 4.1-14.3 3.8-10.1 2-47.4 7-74.6 9-122.8 0 0-260.3 44.9-1.5 55.6-4 21.5-1 39.5-0.5 53.9 0.3 17.9-0.8 27-2.6 28.7-3.9 21.5-4.2 23.3-5.8 12.6-3.9 16.2-5.9 25.1-10.9 12.5-6.6 10.8-6.3 9-6 9-6.9 5.3-4.6 7.2-7.8 7.6-9.9 8-12 4.9-9.9z" fill="#95bc6d"/>
<path d="M638.4 1053l14.5 0 0 86.8-1.1 1-1.9 4-6 20.1-12.5 39.3-3.6 10.2-9 22.4-9 20.9-7.2 14.5-10.7 17.1-12.6 17.5-10.8 13.1-14.3 15.6-37.7 37.7-14.4 13.1-8.9 7.1-12.6 8.3-12.6 7.4-10.7 5.5-10.8 4.6-9 3.2-10.7 2.9-12.6 2.6-48.5 7.1-91.5 10.8-20.7 0.2-31.4-1.2-29.8 1.2-24 0 0-253.3 46.7-1.5 55.6-4.2 23.3-1.2 35.9-0.7 50.3-0.2 19.7-0.9 25.2-2.8 30.5-4.6 25.1-5.3 21.5-5.6 12.6-4.1 14.4-5.4 16.1-6.7 10.8-5.1 12.5-6.7 12.6-7.6 16.2-11.6 7.1-6.6 6.2-7 6.4-8.5 7.7-11.5 3.1-5.2 3-6.8z" fill="#9abd65"/>
<path d="M640.1 1053l12.8 0 0 86-2.4 1.8-1.8 4-6.6 24.1-8.9 27.6-5.4 15.4-10.8 27-9 20.4-7.1 13.7-10.8 16.6-12.6 17.1-12.5 14.8-12 12.8-37.8 37.9-13.1 12-10.3 7.9-9.4 6.3-12.8 7.7-12.3 6.5-9 3.9-10.8 3.9-13.7 3.7-9.6 1.8-50.3 7.1-89.7 10.7-14.4 0.4-28.7-1.2-12.5-0.1-18 0.7-32.3 2.1 0-245.9 48.5-1.4 73.5-4.8 82.6-2 21.5-1.2 23.4-2.9 37.7-6.2 26.9-6 21.5-6.1 16.2-5.6 14.3-5.7 25.2-11.6 10.7-5.9 10.8-6.6 9-6.3 9-7.1 7.1-7 5.4-6.3 6-8.1 8.4-12.8 4.6-9.2z" fill="#9fc05d"/>
<path d="M641.9 1053l11 0 0 80.4-1.1 3.4-2.5 2.4-1.5 3.6-7.5 29-10.7 32.6-16.2 40.5-7.2 15.7-7.1 12.9-12.6 18.8-10.8 14.1-10.7 12.5-12.6 13.4-37.7 37.6-14.4 12.9-8.9 6.8-12.6 8.2-10.8 6.3-10.7 5.5-10.8 4.6-9 3.1-10.7 3-12.6 2.6-50.3 7.6-89.7 10.9-14.4 0.4-28.7-1.1-12.5 0-50.3 2.7 0-235.1 50.3-1.7 75.3-5.6 73.6-2.1 25.2-1.5 23.3-3.3 37.7-7 25.1-6 23.3-6.7 27-10 26.9-12.4 21.5-12.3 12.6-8.5 9-7.1 7.1-7.1 6.7-8.1 13.5-20 4.1-8z" fill="#a5c355"/>
<path d="M643.1 1055l1-2 8.8 0 0 71.7-2.3 8.1-3.1 5.4-0.8 2.6-6.5 27.9-7 22.2-10.8 29.3-10.8 26.2-7.2 15.2-5.3 9.4-12.6 18.6-12.6 16.3-10.7 12.3-11.5 12.1-37 36.8-14.7 13.1-8.6 6.4-12.6 8.1-10.8 6.1-12.5 6.3-9 3.7-10.8 3.7-23.3 5.7-48.5 7.6-89.7 10.7-14.4 0.5-41.2-0.4-50.3 2.6 0-224.1 26.9-0.5 26.9-1.1 70-5 73.6-3.8 23.4-1.8 23.3-3.6 39.5-8.1 25.1-6.3 25.1-7.7 16.2-5.9 14.4-6 26.9-13 21.5-12.7 9-6.3 9-7.2 7.1-7.1 5.4-6.5 14.4-21.1 5.4-10.4z" fill="#aec84e"/>
<path d="M645.6 1055l1.1-2 6.2 0-0.3 63.8-1.8 8-5.4 14-6.1 27.9-4.5 16-13 35.9-12 29.1-7.2 14.5-5.3 8.9-12.6 18.3-10.8 13.8-12.5 14.1-10.8 11.2-35.9 35.3-14.4 12.7-8.9 6.6-14.4 8.9-12.6 6.8-12.5 5.7-10.8 4.1-11.8 3.5-29.5 6.5-44.8 7.2-82.6 9.8-14.4 0.6-39.4 0.2-50.3 2.5 0-212.3 30.5-0.6 28.7-1.4 68.2-4.9 64.6-4 27-2.4 21.5-3.9 44.9-10.4 26.9-7.5 23.3-7.7 28.8-11.7 28.7-14.2 10.7-6.2 12.6-8.2 9-6.6 7.2-6.1 5.3-5.6 5.4-6.7 16.2-24 5.4-11.3 8.9-21.8z" fill="#bccf46"/>
<path d="M648.7 1053l4.2 0 0 51.5-1.8 11.3-1.8 6.6-3.6 8.8-1.5 5.6-6.2 29.9-5 18-14.8 39.9-10.2 24.2-7.1 13.9-7.2 11.1-10.8 15.2-10.8 13.4-20.4 21.9-35.2 34.4-14.4 12.8-8.9 6.7-12.6 7.6-14.4 7.7-12.5 5.7-12.6 4.7-13.8 4.2-16.7 4.3-17.9 3.9-21.2 3.8-23.7 3.4-75.4 8.7-16.2 0.9-37.6 1-50.3 2.5 0-200.3 34.1-0.7 32.3-1.6 122.1-9.4 28.7-2.9 19.7-3.8 48.5-12.6 26.9-8 25.1-8.8 28.7-12.3 27-13.7 10.7-6.3 12.6-8.2 9-6.6 7.2-6.2 5.3-5.8 5.4-6.7 16.2-24 5.4-11.3 8.9-21.6z" fill="#cbd540"/>
<path d="M650.5 1053l2.4 0 0 36.9-1.6 15-1.7 9.9-5.7 16.6-6.2 31.3-5.2 20-4.1 11.9-10.7 28-10.9 25.9-5.9 11.3-9 13.7-10.8 15-9 10.9-10.7 11.9-10.8 10.9-34.1 33-14.4 12.6-8.9 6.5-14.4 8.4-12.6 6.3-14.3 6.3-12.6 4.5-17.9 5.5-18 4.6-17.9 4-21.6 3.8-23.3 3.4-68.2 7.7-17.9 1.3-86.2 3.9 0-188.6 43.1-0.9 43.1-2.3 95.1-8.5 34.1-4 10.7-2 10.8-2.6 48.5-13.6 26.9-8.5 25.1-9.2 28.7-12.7 28.8-15 21.5-13.6 9-6.8 7.2-6.3 5.3-5.8 7.2-9.2 14.4-21.7 3.6-7.3 10.7-25.2z" fill="#dadd3d"/>
<path d="M650.9 1057l0.2-0.5 1 0.5 0.5 2-0.3 17.9-1.7 22-2.2 13.9-4.5 14.1-7.8 37.8-5.3 20-14.3 37.9-10.3 24.2-5.3 10.1-10.8 16.2-10.8 14.5-9 10.6-19.7 20.7-34.1 32.6-14.4 12.4-8.9 6.4-12.6 7.1-14.4 7.1-14.3 6.1-14.4 5.1-19.7 6.2-18 4.8-16.1 3.7-19.8 3.7-25.1 3.7-68.2 7.7-32.3 2.3-70 3.4 0-177.3 37.7-0.7 37.7-2.2 102.3-8.9 32.3-3.8 10.8-2 12.5-3 48.5-14.7 28.7-9.5 25.1-9.4 27-12.1 28.7-14.9 10.7-6.5 12.6-8.3 9-6.7 9-7.7 5.3-5.9 5.4-6.9 16.2-24.3 12.5-28.1z" fill="#e8e23a"/>
<path d="M648.9 1067l0.4-0.9 0.9 0.9 0.6 5.9-0.7 16-1.4 14-2.2 11.9-4.8 18-7.8 37.9-3.3 12-3.5 9.9-14.9 37.9-7.8 17.1-5.3 9.3-10.8 15.6-10.8 14-9 10.2-16.1 16.6-32.3 30.8-10.8 9.8-9 7.2-8.9 5.9-12.6 6.8-14.4 6.8-14.3 5.9-18 6.4-21.5 6.8-16.2 4.4-14.3 3.2-21.5 4-23.4 3.5-68.2 7.5-39.5 3.2-59.2 2.8 0-166.7 41.3-0.7 41.3-2.4 98.7-10.2 32.3-4.3 10.8-2.1 10.7-2.8 44.9-14.1 25.1-8.4 25.1-9.5 28.8-12.9 30.5-16.1 25.1-16.2 9-6.7 7.2-6.2 5.3-5.7 5.4-6.6 9-12.8 7.2-11.4 3.6-6.8 10.7-23.4z" fill="#e4d636"/>
<path d="M646.8 1076.9l0.7-1.1 0.7 1.1 0.6 6-0.8 14-1.2 10-14.6 67.8-3.6 12-2.2 5.9-14.8 36.6-7.2 15.6-5.3 9.1-12.6 17.5-9 11.4-10.3 11.6-14.8 15-34.1 31.8-9 7.9-9 7.1-8.9 5.9-14.4 7.6-14.3 6.8-14.4 5.9-21.5 7.7-19.8 6.5-14.3 4.1-15.3 3.4-21.7 4-22.3 3.3-71.8 8-35.9 2.9-57.4 2.8 0-157.1 39.5-0.7 37.7-2.2 37.7-3.3 51.4-5.3 18.3-2 21.8-3.1 16.2-3 16.1-4.4 53.9-17.6 32.3-11.9 28.7-12.8 30.5-16.2 10.8-6.4 14.3-9.6 9-6.5 9-7.4 5.4-5 5.3-6.1 10.8-14.8 10.8-17.9 12.5-25.3 5.4-8.6z" fill="#e0c932"/>
<path d="M644.1 1086.9l1.6-1 0.8 3 0 8-0.8 8.2-8.8 45.7-4.9 21.9-5.5 17.9-14.9 35.9-7.2 15.5-5.3 9-12.6 16.7-10.8 13.1-10.7 11.6-12.6 12.6-34.1 31.4-10.8 9.4-8.5 6.4-7.6 4.9-16.2 8.5-26.9 12-41.3 14.8-14.3 4.3-12.6 2.9-25.1 4.7-25.1 3.8-66.5 7.5-35.9 3-59.2 3 0-147.9 41.3-0.6 37.7-2.3 37.7-3.4 52-5.5 39.5-5 14.4-2.7 16.1-4.5 52-17.2 27-9.9 28.7-12.5 30.5-16 12.6-7.5 12.5-8.3 12.6-9 9-7.2 10.7-10.2 9-11.4 12.6-20 12.6-23.6 3.5-5.5z" fill="#ddba2f"/>
<path d="M641.8 1096.9l1.1 0 1 0.7 0.3 5.3-0.4 6-7 39.2-7 30.6-3.8 11.4-10.8 25.3-7.2 16.2-5.4 10.5-7.1 10.6-10.8 13.6-10.8 12.4-13 13.7-10.3 10-34.1 30.7-9 7.6-9 6.8-7.1 4.4-18 9.5-26.9 12.1-39.5 14.6-12.6 3.9-12.5 3.1-23.3 4.5-23.4 3.7-68.2 8.1-37.7 3.3-61 3.2 0-138.5 37.7-0.4 35.9-2.1 39.5-3.6 59.2-6.2 34.1-4.4 16.2-3 14.3-3.9 51.9-17.3 22-8 28.4-12 16-7.9 14.5-7.9 23.4-14.3 14.3-10.1 10.8-8.2 12.6-11.3 8.9-10.5 10.8-16.2 16.2-28 3.5-4.6z" fill="#d9ab2d"/>
<path d="M636.2 1108.9l2.3-1.1 2 1.1 0.5 3.9-0.5 8-5.5 32.2-5.4 24.2-3.6 10.8-3.6 8.3-12.6 28.3-7.2 14.2-6.4 9.7-9.7 12.4-12.6 14.1-14.3 14.8-10.8 10.2-34.1 30.1-9 7.5-8.9 6.5-9 5.2-14.4 7.5-26.9 12.1-37.7 14.2-10.8 3.5-13.6 3.5-24.1 4.8-21.5 3.5-66.4 8.2-37.7 3.5-66.4 3.6 0-128.1 35.9-0.4 32.3-1.9 68.2-6.6 44.9-5 23.3-3.2 16.2-2.9 14.3-3.9 46.7-15.6 21.5-7.7 30.5-12.6 27-13.6 25.1-15.1 14.3-9.8 12.6-9.4 14.4-12.3 10-10.9 8.4-11.9 15.7-26.3 3.6-5z" fill="#d59b2a"/>
<path d="M630.3 1120.8l2.9-1.7 1.8-0.2 1.8 1.5 0.6 6.4-0.6 8.1-1.8 11.3-5.4 27.2-3.6 11.7-5.4 12.5-12.6 27.1-7.1 13.4-8.5 12.4-9.7 12-15.9 17-12.6 12.4-41.3 36.2-9 7.2-8.9 6.1-25.2 13.2-26.9 11.6-35.9 13.1-12.6 3.7-13.6 3.2-20.5 3.9-24.6 4-68.7 8.4-37.7 3.3-61 3.3 0-116.6 37.7-0.5 34.1-2.3 66.4-7 61-7.7 18-3.1 14.3-3.7 61.1-20.9 32.3-13 26.9-13.2 28.7-16.7 14.4-9.6 12.5-9.1 14.4-11.6 9-8.6 4.3-4.8 8.2-11.2 14.4-23.5z" fill="#d08b28"/>
<path d="M628.9 1130.8l0.7-0.3 1.8 0.5 1.3 1.8 0.7 4-0.1 6-3.7 22.8-3.4 13.1-4.3 11.9-8.5 18.8-9 18.1-7.6 13-8.1 12-7.9 10-14 15.1-12.6 12.3-43.1 37.3-10.8 8-5.3 3.5-23.4 12.1-14.3 6.3-14.4 5.7-19.7 7-14.4 4.5-14.4 3.8-14.3 3.1-26.4 5-22.1 3.4-61 7.1-43.1 4.2-59.2 3.2 0-103.7 35.9-0.3 32.3-2.3 73.6-8.7 47.7-6.7 24.1-4.4 14.3-3.5 16.2-5.2 39.5-14.1 31.7-12.7 13.2-5.9 14.3-7.1 29.7-16.9 27.6-18 18-13.9 14.5-13.3 8.4-10.7 13.1-20.4 3.6-3.9z" fill="#cb7a28"/>
<path d="M624.7 1144.8l1.5 0 1.6 2 0.6 5.9-0.5 6-1.9 10.1-6.1 19.9-6.5 16-9 17.9-11.3 19.9-7.7 12-7.6 10-5.7 6.4-14.3 14.3-9 8.2-37.7 32.1-10.8 8-8.9 5.7-10.8 5.6-14.4 6.6-14.3 5.6-18 6.2-12.5 3.7-14.4 3.5-44.9 8.9-17.9 3.1-21.5 2.9-52.1 5.1-44.9 5.1-28.7 2.2-28.7 1.4 0-90.3 26.9 0.4 26.9-1.2 25.2-2.7 41.3-5.8 41.2-6.2 35.9-6.7 25.2-5.6 21.5-7 41.3-15.4 33-14.1 24.3-12 27-15.6 28.8-18.3 13.6-9.9 12.6-10 6.1-5.2 4.6-4.8 9.7-13.6 5.4-6.8 3.6-2.9z" fill="#c66928"/>
<path d="M613.8 1162.7l3.2-1.8 1.8-0.1 1.3 1.9 0.7 4-0.2 4-1.5 8-4.1 13.9-5.2 12.9-7.2 14.6-14.1 26.4-8.7 14-6.4 8-13.8 14-34.1 29.8-14.6 12-10.9 8-6.8 4.4-10.2 5.6-13.2 6.1-9.9 3.8-17 5.7-14.3 4-14.4 2.8-26.9 3.9-41.3 7.6-23.3 2.8-50.3 3.9-55.6 7.2-21.6 1.7-26.9 1.4 0-74.6 19.7 0.8 19.8-0.4 17.9-1.2 18-2.4 59.2-9.9 30.5-5.8 52.1-12.4 19.7-6.1 35.9-13.7 23.3-9.7 30.6-14.2 21.5-11.5 46.7-28.5 28.7-19.7 9.1-7.2z" fill="#c25c27"/>
<path d="M606.7 1178.7l3.1-1.3 1.6 1.3 0.5 2-0.3 6.5-3.1 11.4-4.1 10.1-17.9 37.5-5.4 10.1-5.3 8.2-7.3 7.9-14.5 14-37.6 31.9-16 12-6.2 4-6.8 4-12.2 5.9-16 6-12.7 3.9-14.4 3.5-8.9 1.4-34.1 2.6-35.9 6.4-16.2 2.2-62.8 4.6-53.8 7.3-28.2 2.1-23.9 0.8 0-54 17.9 0.7 18-0.4 17.9-1.4 16.2-2.5 71.8-14.4 21.5-4.8 25.2-6.7 30.5-8.9 12.5-4.1 19.8-7.5 32.3-13.3 21.5-10 23.4-11.7 25.1-14.2 73.6-44.5z" fill="#be5426"/>
<path d="M593.2 1198.6l4.1-1.9 1.8 0 1.2 1.9 0 2-1.2 5.7-19.8 46.7-3.6 7.6-3.5 5.9-1.9 1.3-16.6 16.6-6.7 6-35.9 28.3-9 6.5-8.9 5.8-9 4.8-9 4.1-10.8 3.9-10.7 3.2-16.2 3.7-8.9 1.4-39.5 1.4-52.1 7.1-17.9 1.7-21.6 1.1-35.9 4.9-34.1 3.2-23.3 1.3-35.9-0.4 0-24.2 14.4-0.2 16.1-1.1 19.8-2.2 14.3-2.6 35.9-9.9 34.1-7.2 35.9-8.7 18-5.5 39.4-13.7 30.6-12 35.9-16.7 23.3-12 19.7-10.9 18-10.6 23.3-14.6 9-5.1 16.1-8.5 12.6-3.9z" fill="#bb4b24"/>
<path d="M576.2 1220.6l3.1-0.6 0.8 0.6 0.2 2-0.7 4-2.1 6.2-3.6 7.8-10.7 19.9-5 8-4 4.9-9 8.7-17.8 14.3-10.9 8.1-16.2 10.6-16.1 8.2-14.4 5.9-12.5 4.3-12.6 3.5-12.6 2.5-102.3 6.9-12.5 1.8-10.8 2.3-9 1.1-5.4-0.2-3.3-1.2 0.5-2 1.8-1.9 7.2-4 11.8-4 25.1-7 26.9-9.2 27-10 30.5-13.4 23.3-11 23.3-12.3 34.1-19.2 48.5-28.6 9-3.3 12.5-1.2z" fill="#b74023"/>
<path d="M539.4 1248.5l5.8-1.7 1.8 0.1 1.6 1.6-0.4 4-1.2 3-1.8 3.2-4.2 5.8-9 9.9-8.4 8-12.5 9.5-12.6 8-12.7 6.5-17.6 7.9-12.7 5.1-10.8 3.6-12.6 3.3-16.1 2.9-12.6 1.5-5.4 0.1-2.6-0.5 0.1-2 1.5-2 4.6-4 14.5-10 13.1-7.9 48.8-24 44.3-23.9z" fill="#b33421"/>
<path d="M555.4 1446 561 1439.1 566.4 1432.2 571.5 1425.2 576.2 1418.3 580.5 1411.4 584.7 1404.5 588.7 1397.5 592.7 1390.6 596.5 1383.7 600.2 1376.8 603.7 1369.8 607.1 1362.9 610.3 1356 613.2 1349.1 616 1342.2 618.5 1335.2 621 1328.3 623.3 1321.4 625.5 1314.5 627.7 1307.5 629.7 1300.6 631.6 1293.7 633.5 1286.8 635.2 1279.8 636.8 1272.9 638.3 1266 639.6 1259.1 640.8 1252.2 641.8 1245.2 642.6 1238.3 643.4 1231.4 644.1 1224.5 644.8 1217.5 645.6 1210.6 646.4 1203.7 647.4 1196.8 648.7 1189.8 650.2 1182.9 652.9 1176 652.9 1446z" fill="#fff"/>
</g>
<g>
<rect x="717.3" y="118.8" width="484.6" height="393" fill="#231d58"/>
<path d="M717.3 118.8l484.6 0-0.3 63.8-0.4 2-1.1 1.2-0.1 0.8-0.3 10-1.4 2-0.4 10-1.6 4-0.3 7.9-1.5 4-0.3 6-1.3 2.5-0.7 5.5-1.2 2-0.7 4-1.2 2-0.7 4-0.9 1.1-2.8 10.8-0.7 0.9-2.5 9.1-1.1 2.2-0.9 3.8-0.9 1.2-0.7 2.8-9.4 19.9-12.5 22-13.6 19.9-15.6 24-20 25.8-5.4 6-5.4 5-17.9 11.6-12.6 7-14.4 7.2-41.2 18.4-14.4 5.7-41.3 15-17.9 5.7-59.3 14.9-53.8 11.2-43.2 10.1-62.7 0z" fill="#241e63"/>
<path d="M717.3 118.8l484.6 0 0 53.4-0.4 8.4-0.1 2-1.3 2.5-0.5 9.5-0.4 2-1.1 2-0.6 10-1.3 4-0.3 5.9-1.3 4-1 8-10.7 35.9-5.6 16-9.5 19.5-10.8 19.1-30.5 45.7-17.9 23-5.4 6.2-5.4 5.3-5.4 3.9-10.7 6.7-12.6 7-14.4 7.3-44.8 20-14.4 5.7-39.5 14.2-17.9 5.9-61.1 15.5-52 10.1-48.5 10.5-24.6 3.8-34.6 0z" fill="#241e6e"/>
<path d="M717.3 118.8l269 0 28.9 0.4 186.7-0.4 0 53.2-0.5 8.6-0.3 2-1.1 2-0.7 10-1.3 4-0.5 8-1.2 4-0.8 7.9-1.1 4-0.8 6-2 8-7.4 23.9-7.4 21.7-9 18.6-9 16-7.2 11.3-23.3 34.4-17.9 23-7.2 8.3-5.4 5.2-12.6 8.3-10.7 6-16.2 8.1-50.2 22.4-14.4 5.7-37.7 13.4-17.9 5.8-61.1 15.7-52.6 9.5-40.7 8.7-30.5 4.8-35.9 3.7z" fill="#262274"/>
<path d="M717.3 118.8l211.4 0 11.2 1.5 12.5 0.8 55.7 0.6 68.2-0.7 16.1-0.9 9.4-1.3 100.1 0 0 53-0.7 8.8-1.3 4-0.9 10-1.2 4-0.6 8-1.1 4-0.9 7.9-1.9 10-2.1 8-9 29.1-5.4 15.3-9 18.5-10.8 18.8-28.7 42.4-17.9 22.6-7.2 8.2-5.4 5.1-12.6 8.2-12.5 6.8-12.6 6.1-52 23.1-14.4 5.6-39.5 14-16.1 5.1-48.5 12.9-21.5 4.8-39.5 6.5-37.7 7.6-18 3.1-25.1 3.4-30.5 2.9z" fill="#28267a"/>
<path d="M717.3 118.8l192.1 0 25.1 3.8 10.7 1 57.5 0.6 79-1.3 14.3-1.2 13.5-2.9 92.4 0 0 52.8-0.5 1.1-0.4 7.9-1.2 4-0.7 8-1.4 6-0.5 6-4.3 23.8-10.7 35.9-5.4 15.3-9 18.6-9 15.7-25.1 37.2-10.8 14.7-14.3 17.4-7.2 7.7-5.4 4.7-9 5.5-10.7 5.9-14.4 7-55.6 24.4-12.6 4.9-37.7 13.3-17.9 5.7-50.3 13.5-19.7 4.2-39.5 6.3-55.7 10.3-25.1 3.2-30.5 2.8z" fill="#2a2a7e"/>
<path d="M717.3 118.8l171.3 0 47.7 6.9 10.7 0.9 14.4 0.2 53.8-0.1 64.7-1.7 17.9-1.6 18.4-4.6 85.7 0 0 52.6-0.5 1.3-0.6 7.9-1.1 4-0.8 8-1.4 6-0.5 6-4.1 22.5-10.7 35.9-5.4 15.3-9 18.5-9 15.6-25.1 36.9-10.8 14.5-14.3 17.1-7.2 7.7-5.4 4.5-9 5.6-10.7 5.8-12.6 6-61 26.5-44.9 16-17.9 5.8-50.3 13.6-19.7 4.3-39.5 6.3-55.7 9.8-25.1 3.1-32.3 2.9z" fill="#2c2e82"/>
<path d="M717.3 118.8l145.7 0 71.5 9.7 10.7 0.8 12.6 0.3 59.2-0.5 64.7-2.1 17.9-2 23.5-6.2 78.8 0 0 52.4-0.6 1.5-0.6 7.9-1.2 4-0.8 8-5.8 33.1-10.7 35.9-5.4 15.3-7.2 15-10.8 19-7.2 11-16.1 23.1-12.6 16.8-14.3 16.8-7.2 7.6-5.4 4.5-9 5.5-10.7 5.8-12.6 5.9-52 22.6-16.2 6.5-50.3 17.3-53.8 14.8-23.3 5.1-86.2 14.3-28.7 3.7-35.9 3.1z" fill="#2d3084"/>
<path d="M717.3 118.8l106.2 0 46.4 4.1 66.4 8.7 19.7 0.8 62.8-0.8 64.6-2.7 16.2-2 30.6-8.1 71.7 0 0 52.2-0.7 1.7-0.7 7.9-1.1 4-2.9 20-3.6 19.6-12.5 41.4-3.6 9.8-3.6 7.9-7.2 13.8-9 15.1-26.9 38.3-7.2 9.2-16.1 18.6-7.2 7.1-5.4 4.1-12.5 7.2-12.6 6.2-64.6 27.8-10.8 4.2-34.1 11.9-19.7 6.3-19.4 4.8-32.7 9.3-25.1 5.2-86.2 13.9-26.9 3.1-32.3 2.7z" fill="#2f3387"/>
<path d="M717.3 120.8l52.1-0.2 30.5 0.7 21.5 0.9 46.7 3.9 68.2 8.4 19.7 0.8 64.6-1.3 46.7-2 17.9-1.2 16.2-2.4 35.3-9.6 65.2 0 0 51.9-0.8 2-0.5 5.9-1.3 6-4.6 29.1-3.6 15.7-12.5 39.8-7.2 16.2-7.2 13.3-9 14.6-25.1 35.2-7.2 9-16.1 18.4-7.2 7.1-5.4 4-12.5 7.2-12.6 6.2-71.8 30.5-50.3 17.3-26.9 7.1-28.7 8.2-12.6 3.1-14.3 2.8-71.8 11.8-34.1 4.3-41.3 3.4z" fill="#303589"/>
<path d="M1135.6 120.8l6.5-2 59.8 0 0 51.6-0.9 2.3-0.5 5.9-1.4 6-2.6 17.5-3.6 18.9-12.5 41.5-3.6 9.8-3.6 7.9-7.2 13.7-9 15-23.3 32.8-10.8 13.6-16.1 18.2-7.2 7-9 6.3-16.1 8.6-64.6 27.9-19.8 7.7-35.9 12.3-12.5 3.8-19.8 5-37.7 10.5-30.5 6.1-44.9 7.5-28.7 4-26.9 3-35.9 2.7 0-361.5 52.1-0.1 52 1.5 46.7 3.7 66.4 7.8 21.5 0.8 64.6-1.7 44.9-2.1 17.9-1.4 10.8-1.2 7.2-1.3z" fill="#31388c"/>
<path d="M1141 120.8l5.7-2 55.2 0 0 51.2-1 2.7-0.5 5.9-7.5 40.7-12.5 41.6-3.6 9.8-3.6 7.8-7.2 13.8-9 14.9-21.5 30-12.6 15.9-16.1 18-7.2 6.9-3.6 2.9-7.2 4.4-16.1 8.5-62.8 27.1-19.8 7.6-34.1 11.7-14.3 4.4-19.8 4.9-39.5 10.9-43.1 8.3-32.3 5.2-28.7 3.8-26.9 2.8-34.1 2.4 0-354.8 52.1-0.1 52 1.4 46.7 3.4 66.4 7.4 21.5 0.7 66.4-2.1 43.1-2.4 19.7-1.6 16.2-2.5z" fill="#343e90"/>
<path d="M1145.6 120.8l4.8-2 51.5 0 0 50.8-1.1 3.1-0.6 5.9-3.7 20.8-3.6 18.1-1.8 6.7-10.7 35-5.4 13.9-9 17.4-12.6 20.2-23.3 31.5-19.7 22.6-10.8 10.8-3.6 2.8-7.2 4.5-16.1 8.5-59.3 25.6-21.5 8.5-48.5 16.1-19.7 4.8-41.3 11.4-23.3 4.9-26.9 4.8-28.7 4.4-30.6 3.6-23.3 2.2-32.3 2.2 0-348 50.3-0.2 53.8 1.3 46.7 3.2 66.4 7 10.7 0.5 12.6 0 68.2-2.6 41.3-2.6 19.7-1.9 9-1.3 7.2-1.6z" fill="#374496"/>
<path d="M1149.4 120.8l4.1-2 48.4 0 0 50.4-1.2 3.5-0.6 5.8-5.4 28.9-3.6 15-12.5 40.2-5.4 12.5-9 16.8-12.6 19.6-21.5 28.5-19.7 22.4-10.8 10.6-3.6 2.9-7.2 4.5-16.1 8.6-61 26.5-19.8 7.7-35.9 12.1-14.3 4.3-19.8 4.9-39.5 10.8-23.3 4.9-25.1 4.5-27 4.1-28.7 3.4-25.1 2.3-35.9 2.3 0-341.2 48.5-0.2 53.8 1.1 48.5 3 68.2 6.7 23.3 0.2 68.2-3 39.5-2.8 21.5-2.2 9-1.5 7.2-1.8 32.3-9.8z" fill="#3b4c9c"/>
<path d="M1152.5 120.8l3.5-2 45.9 0 0 50-1.3 3.9-0.5 5-5.4 28-3.6 14.8-12.5 40.3-5.4 12.5-9 16.8-12.6 19.5-21.5 28.2-21.5 24-10.8 10.2-10.8 7-16.1 8.6-59.2 25.8-21.6 8.2-35.9 11.9-12.5 3.8-19.8 4.8-41.3 11.2-44.8 8.7-25.2 3.7-28.7 3.1-28.7 2.6-35.9 2.2 0-334.3 48.5-0.3 53.8 1 48.5 2.9 68.2 6.2 23.3 0 70-3.5 37.7-2.9 23.3-2.6 12.6-2.6 30.5-9.4 10.8-3.7z" fill="#4056a4"/>
<path d="M1155.1 120.8l3.2-2 43.6 0 0 49.5-1.4 4.4-0.4 4.2-7.2 35-10.7 36.3-5.4 15.5-7.2 14.8-7.2 12.8-10.8 16.3-21.5 28-21.5 23.7-10.8 10.1-12.6 8.2-16.1 8.6-55.7 24.4-21.5 8.2-35.9 11.9-14.3 4.3-19.8 4.8-39.5 10.7-23.3 4.8-23.3 4-25.2 3.5-29.9 3.1-23.9 2.1-39.5 2.3 0-327.4 46.7-0.4 53.8 0.9 50.3 2.7 68.2 5.9 10.7 0.2 14.4-0.4 70-3.9 37.7-3.2 23.3-3 10.8-2.4 34.1-10.7 10.8-4.2z" fill="#4561ae"/>
<path d="M1157.5 120.8l2.9-2 41.5 0 0 49-1.5 4.9-0.3 3.4-7.2 33.9-10.7 36.4-5.4 15.4-7.2 14.8-7.2 12.8-10.8 16.3-21.5 27.6-21.5 23.5-10.8 10.1-12.6 8.3-16.1 8.8-16.2 7.6-32.3 14-26.9 10.6-37.7 12.4-16.1 4.7-19.5 4.7-38 10.2-25.1 4.9-21.5 3.6-23.4 3.1-23.3 2.3-32.3 2.5-39.5 2.2 0-320.2 46.7-0.4 55.6 0.8 46.7 2.3 61 4.9 14.4 0.8 16.1-0.3 48.5-2.7 57.4-4.7 16.2-1.8 16.1-2.5 10.8-2.9 32.3-10.5 10.8-4.4z" fill="#4c6eb9"/>
<path d="M1159.6 120.8l2.8-2 39.5 0 0 48.5-1.2 3.4-0.6 4.5-7.2 32.8-10.7 36.5-5.4 15.5-7.2 14.7-7.2 12.7-12.5 18.7-19.8 24.9-21.5 23.2-10.8 10.1-12.6 8.4-16.8 9.4-17.3 8.3-26.9 11.8-16.1 6.7-14.4 5.3-37.7 12.4-14.3 4.2-19.8 4.7-39.5 10.4-21.5 4.1-23.3 3.8-21.6 2.7-23.3 2.2-35.9 2.6-39.5 2 0-313 46.7-0.4 57.4 0.7 44.9 2.1 61 4.5 14.4 0.7 16.1-0.4 52.1-3.2 57.4-5.2 17.9-2.3 12.6-2.3 10.8-3.1 32.3-10.9 10.7-4.7z" fill="#547ec7"/>
<path d="M1161.7 120.8l2.6-2 37.6 0 0 47.9-1.3 4-0.5 3.5-7.2 31.8-10.7 36.5-5.4 15.6-7.2 14.6-9 15.7-10.7 15.7-21.6 26.6-21.5 22.8-10.8 9.6-14.3 9.4-16.2 9-16.2 7.9-23.3 10.4-30.5 11.9-39.5 12.9-16.1 4.6-16.2 3.8-41.3 10.7-21.5 3.9-23.3 3.6-18 2.2-30.5 2.7-32.3 2.2-39.5 1.8 0-305.9 46.7-0.5 59.2 0.6 43.1 1.8 59.2 4 16.2 0.7 16.1-0.5 55.6-3.7 53.9-5.3 16.1-2.2 14.4-2.6 10.8-3.2 34.1-11.8 8.9-4.2z" fill="#5a8fd5"/>
<path d="M1163.6 120.8l2.5-2 35.8 0 0 47.2-1.1 2.7-7.9 35.3-10.7 36.5-5.4 15.6-7.2 14.6-9 15.6-10.7 15.8-19.8 24.1-21.5 22.9-12.6 11.4-14.4 9.7-13.6 7.9-16.9 8.7-21.5 9.9-30.5 12-43.1 14.1-14.3 4.1-19.8 4.6-37.7 9.6-17.9 3.4-25.2 3.8-21.5 2.6-23.3 2-39.5 2.5-39.5 1.7 0-299.1 44.9-0.5 59.2 0.5 44.9 1.6 73.6 4.2 17.9-0.6 59.2-4.3 52.1-5.6 17.9-2.7 12.6-2.5 34.1-11.5 10.8-4.2 8.9-4.5z" fill="#609ee0"/>
<path d="M1165.4 120.8l2.4-2 34.1 0 0 46.4-1.3 3.5-9.5 39.4-8.9 30.2-5.4 15.7-7.2 14.6-9 15.6-10.7 15.6-18 21.9-23.3 24.8-12.6 11.4-15 10.3-15.5 9.3-16.2 8.5-16.1 7.6-19.8 8.2-16.1 5.8-37.7 12.3-19.7 5.7-55.7 13.5-19.7 3.5-21.6 3.2-26.9 3.1-21.5 1.7-37.7 2.3-39.5 1.7 0-292.5 44.9-0.7 59.2 0.4 44.9 1.4 73.6 3.7 17.9-0.7 62.8-5 50.3-5.9 17.9-2.9 10.8-2.3 32.3-11.1 12.6-4.9 10.7-5.7z" fill="#67a7df"/>
<path d="M1167.2 120.8l2.3-2 32.4 0 0 45.4-1.5 4.5-7.5 30.3-10.7 36.9-5.4 15.8-5.4 11.4-9 15.9-10.8 16.1-12.5 15.7-14.4 16.2-19.7 20.4-10.8 9.1-16.8 11.7-13.7 8.5-14.4 7.9-17.9 8.5-14.4 5.9-16.1 5.9-43.1 14-14.4 4.1-57.4 13.8-21.5 3.8-25.2 3.6-21.5 2.4-23.3 1.8-37.7 2.3-39.5 1.6 0-286.2 43.1-0.6 61 0.2 44.9 1.2 73.6 3.2 17.9-0.8 64.6-5.6 48.5-6.1 19.7-3.4 10.8-2.5 32.3-11.5 12.6-5.2 8.9-5z" fill="#70afdc"/>
<path d="M1168.9 120.8l2.2-2 30.8 0 0 44-10.8 39.9-10.7 36.4-5.4 14.3-7.2 14-9 14.9-8.9 12.8-10.8 13.2-14.4 15.9-19.3 20-11.2 9.7-17.2 12.3-15.2 9.9-14.3 8.1-12.5 6.1-16.2 6.7-17.9 6.5-39.5 12.8-18 5.2-57.4 13.4-19.7 3.5-23.4 3.4-23.3 2.6-28.7 2.2-32.3 2-41.3 1.7 0-280 43.1-0.7 59.2 0 44.9 1 75.4 2.7 19.7-1.1 66.4-6.2 48.5-6.6 17.9-3.3 9-2.3 34.1-12.4 12.6-5.5 10.7-6.7z" fill="#7ab2d2"/>
<path d="M1170.5 120.8l2.1-2 29.3 0 0 42.4-17.9 63.5-7.2 22-7.2 15-9 15.4-9 13-12.5 15.5-12.6 13.8-24 24.8-6.5 5.6-22.2 16.4-14.6 9.9-10.1 6-10.5 5.4-12.6 5.4-21.5 8-35.9 11.8-16.2 5-14.3 3.7-53.9 12.1-21.5 3.6-23.4 3.2-21.5 2.3-26.9 2-35.9 2.2-37.7 1.6 0-273.9 43.1-0.8 61 0 43.1 0.7 75.4 2.2 17.9-1.1 71.8-7.2 44.9-6.5 19.7-3.9 9-2.5 30.5-11.4 14.4-6.3 10.7-6.9z" fill="#84b6c8"/>
<path d="M1172.1 120.8l2-2 27.8 0 0 40.7-19.9 69-3.9 12-3.1 7.8-8.2 16.1-9.8 15.7-8.9 12.2-12.6 14.7-26.9 28.4-9 8.7-36.9 28.1-9.8 6.4-10.7 6-14.4 6.4-19.7 7.4-41.7 13.7-17.6 5.2-53.8 12.3-14.4 2.8-19.7 3.1-39.5 4.8-55.6 4-48.5 2.2 0-267.7 43.1-0.8 59.2-0.2 44.9 0.5 75.4 1.7 19.7-1.4 70-7.4 28.7-4.2 21.6-3.8 16.1-3.5 10.8-3.4 28.7-11 12.6-5.8 10.7-7z" fill="#84b6b9"/>
<path d="M1173.6 120.8l2-2 26.3 0 0 39.1-20.1 68.6-3.2 10.2-3.6 9.1-8.5 16.6-8.5 14-9.9 13.4-12.6 14.6-28.5 29.9-7.4 7.1-31.3 24.8-10.8 8-9.3 5.9-11.6 6-14.6 6-23 8-30.6 10-20.1 5.9-54 12-35.2 5.9-39.5 4.6-55.6 4-46.7 2.1 0-261.3 41.3-0.8 61-0.4 44.9 0.2 75.4 1.1 21.5-1.7 70-7.9 25.1-3.9 23.4-4.3 16.1-3.6 10.8-3.4 30.5-12.1 12.6-6.1 10.7-7.6z" fill="#84b6aa"/>
<path d="M1175.1 120.8l2-2 24.8 0 0 37.7-10.8 34.9-10 35.1-4.3 12.6-3.3 7.4-8.2 15.9-8.8 14-10.2 13.3-12.6 14.2-34.1 34.8-33.7 27.5-10.7 8-11.2 7-15.4 6.9-16.2 6-38.4 12.6-30.6 9-46.6 9.9-16.2 3-19.7 3-41.3 4.9-50.2 3.7-52.1 2.4 0-254.8 43.1-0.8 57.4-0.5 120.3 0.5 21.5-1.6 73.6-8.9 26.9-4.5 21.6-4.2 16.1-3.9 10.8-3.7 26.9-10.9 14.4-7 5.3-3.6 7.2-5.6z" fill="#84b69a"/>
<path d="M1176.6 120.8l2-2 23.3 0 0 36.5-10.8 34-12 41.2-3 8-3.7 8-7.2 13.9-8.8 14-10.1 13.2-12.6 14-34.1 34.7-36.1 29.9-10.5 8-10.8 6.5-17.2 7.4-54.6 18.1-28.7 8.2-46.4 9.6-37.4 6-40.1 4.6-53.8 3.8-46.7 2.1 0-247.9 43.1-0.9 93.3-1 84.4 0 19.7-1.6 75.4-9.6 32.3-5.8 28.7-6.4 10.8-3.4 21.5-8.7 16.2-7.1 10.7-6.2 10.8-8.6z" fill="#86b790"/>
<path d="M1178.1 120.8l2-2 21.8 0 0 35.5-10.8 33.1-11.5 39.1-3.6 10-5.6 12-7.5 13.9-7.8 12-8.8 11.3-12.6 13.9-34.1 34.3-14.4 11.6-23.3 20-10.8 8.1-10.7 6.3-16.2 6.8-57.4 18.8-25.1 6.9-44.9 9.2-35.9 5.8-43.1 5-50.2 3.7-50.3 2.3 0-241 46.7-1 174.1-1.9 21.5-2 75.4-10.2 34.1-6.5 26.9-6.4 10.8-3.7 23.3-9.7 14.4-6.7 10.7-6.7 10.8-9.2z" fill="#8ab986"/>
<path d="M1179.6 120.8l1.9-2 20.4 0 0 34.8-11 33-11.9 39.9-4 10.4-6.6 13.6-6.6 11.9-8.4 12.6-8.9 11.1-10.8 11.7-32.3 32.2-16.2 13.1-21.6 19.1-12.9 10-10.3 6-14.4 6.1-16.8 5.8-44.2 14-25.1 6.7-45.9 9.2-38.9 6-35.5 4-53.8 3.9-48.5 2.2 0-233.7 220.8-4.1 21.5-2.1 75.4-10.8 30.5-6 30.5-7.4 10.8-3.8 25.1-10.7 14.4-7.1 10.7-7.2 10.8-9.7z" fill="#8dba7d"/>
<path d="M1181.1 120.8l1.9-2 18.9 0 0 34-11.6 33.8-11.7 39.1-3.6 9.2-8.6 17.6-7.6 12.9-7.2 10.4-8.9 10.7-10.8 11.3-30.5 30.1-16.2 12.8-25.1 22.2-10.8 8.2-8.9 5.2-16.2 6.7-57.4 18.4-26.9 7.2-44.9 9-35.9 5.6-41.3 4.7-57.4 4.1-43.1 1.9 0-226.4 181.3-3.8 39.5-1.3 21.5-2.3 77.2-11.7 32.3-6.8 26.9-7 12.6-4.6 25.1-11 14.4-7.5 8.9-6.3 10.8-9.8z" fill="#91bb75"/>
<path d="M1182.6 120.8l1.8-2 17.5 0 0 33.1-2.7 6.8-8.8 25.9-10 33.6-3.6 10.4-5.4 11.9-7.2 13.9-7.1 12-5.5 7.7-8.9 10.6-11.1 11.6-30.2 29.4-16.2 12.6-26.9 24-10.6 7.9-11.3 5.9-15.3 6-57.2 18-24 6.2-43.1 8.6-35.9 5.7-43.1 5-53.8 3.8-46.7 2.1 0-218.5 82.6-1.9 98.7-2.9 37.7-1.5 23.3-2.6 59.2-9.1 18-3.2 28.7-6.3 30.5-8.1 12.6-4.7 25.1-11.2 14.4-7.7 8.9-6.4 10.8-10z" fill="#95bc6d"/>
<path d="M1185.7 118.8l16.2 0 0 32.1-4.6 11.8-5.4 15.9-11.5 37.4-3.6 10.4-5.4 11.9-7.2 14-7.2 12.1-5.4 8-8.9 10.5-10.8 11.3-30.5 29.3-16.2 12.4-25.1 22.5-12.6 9.6-8.9 4.9-16.2 6.5-57.4 18-25.1 6.6-44.9 8.9-35.9 5.5-41.3 4.7-52 3.8-48.5 2.2 0-210.6 107.7-2.6 71.8-2.7 39.5-2 23.3-2.9 61-9.8 18-3.4 30.5-7.1 26.9-7.6 12.6-4.8 28.7-13.3 14.3-8.5 9-7.2 9-9z" fill="#9abd65"/>
<path d="M1185.5 120.8l1.7-2 14.7 0 0 30.6-3 7.3-7 20-15.1 47.4-7.2 15.5-9 16.8-7.2 11.2-5.3 7.1-10.5 11.7-10 9.9-26.2 24.9-16.2 12.2-27.8 24.8-10.7 8-9.9 5.1-14.4 5.7-59.2 18.5-23.3 6.1-46.7 9.1-34.9 5.3-36.9 4.3-55.6 4-48.5 2.2 0-201.6 79-2.2 96.9-4.2 43.1-2.6 23.3-3 61-10.5 18-3.5 30.5-7.5 28.7-8.5 14.4-5.8 26.9-13.1 12.5-7.7 10.8-9 7.2-7.4z" fill="#9fc05d"/>
<path d="M1186.9 120.8l1.5-2 13.5 0 0 27.6-12.1 34.2-13 40.9-7.2 15.6-9 16.5-5.4 8.8-7.2 10-8.9 10.1-11.7 11.9-26 24.3-16.2 12.1-26.9 23.7-10.8 8.2-8.9 4.9-16.2 6.5-56.4 18-26.1 6.9-43.1 8.4-35.9 5.6-43.1 4.9-57 4.1-43.5 1.9 0-192.5 96.9-2.6 77.2-4.4 43.1-3.2 25.1-3.4 62.8-11.3 16.2-3.4 30.5-7.8 28.7-8.9 16.2-7 25.1-12.4 14.3-9.3 9-7.7 7.2-7.7z" fill="#a5c355"/>
<path d="M1188.2 120.8l1.4-2 12.3 0 0 23.7-25.1 76.1-7.2 15.8-9 16.4-7.2 11.3-7.1 9.6-7.5 8.7-12.3 12.3-25.1 23.5-18 13.4-25.1 21.7-10.8 8-8.9 4.9-16.2 6.6-57.4 18.8-25.1 6.7-37.7 7.4-35.9 5.8-44.9 5.4-55.6 4-48.5 2.2 0-181.9 107.7-4 64.6-4.2 44.9-3.9 25.1-3.7 62.8-12.1 16.2-3.6 30.5-8.4 28.7-9.3 18-7.8 23.3-12.1 12.5-8 10.8-9.4 7.2-8z" fill="#aec84e"/>
<path d="M1190.7 118.8l11.2 0 0 19.1-5.1 16.8-20 60.8-7.2 16-9 16.3-7.2 11.2-8.6 11.4-9.3 10.7-11.2 11.3-22.9 21.2-17.3 12.7-25.8 21.6-10.8 7.9-10.7 5.7-16.2 6.6-53.8 18-25.1 7-32.4 6.4-38.7 6.6-49.2 5.9-57.4 4.2-46.7 2.1 0-171.1 73.6-2.5 26.9-1.4 71.8-5.6 44.9-4.6 25.1-4.1 64.6-13.1 16.2-3.8 30.5-9 28.7-9.8 19.7-9.2 23.4-12.8 10.7-7.5 10.8-10.1 19.8-25.2z" fill="#bccf46"/>
<path d="M1190.6 120.8l1.4-2 9.9 0 0 12.9-1.7 7-5.5 18.8-17.9 54.8-8.2 18.2-8.9 16-9.8 14.4-11 13.5-11.1 12-15.6 14.9-12.6 11.1-14.4 10.2-26.9 21.8-10.8 7.6-8.9 4.8-16.2 6.9-46.6 16.4-28.8 8.8-23.3 5-46.7 8.3-52 6.5-59.2 4.4-48.5 2.2 0-160.2 95.1-3.5 70-6.3 21.6-2.3 32.3-3.9 14.3-2.3 71.8-15.3 18-4.4 30.5-9.5 28.7-10.3 19.7-9.4 23.4-13.2 10.7-7.7 9-8.6 7.2-8.7 12.6-16.6z" fill="#cbd540"/>
<path d="M1192.2 120.8l1.7-2 7.5 0 0 4-1 8-3.9 16.6-14.3 46-5.4 15.7-9.7 21.4-9.2 16-8 11.4-13.5 16.5-9.9 10.6-16.1 15.5-12.6 10.7-14.4 10.2-25.1 19.6-10.8 7.4-7.1 3.9-10.8 4.8-25.1 9.8-46.7 16-14.4 4.1-10.7 2.4-52.1 9.3-50.2 6.4-23.4 2.2-39.4 2.7-50.3 2.3 0-149.3 64.6-2.7 35.9-2 61.9-5.8 26.1-3.1 30.5-4.1 15.7-2.8 71-16 19.2-5.1 30.5-10 28.7-10.8 19.7-9.8 23.4-13.9 10.7-8.3 9-9.6 16.2-20.8z" fill="#dadd3d"/>
<path d="M1193.2 122.8l1.5-0.9 1.8-0.1 1.2 1 0.6 1.3 0.2 2.7-1.5 11.9-4.1 16.5-10.7 35-5.7 16.4-9.8 21.9-9.1 16-7.7 10.8-14.4 17.5-10.8 11.5-14.3 13.8-12.6 10.6-13.7 9.6-25.8 19.6-10.8 7.1-7.1 3.9-12.6 5.7-29.8 11.6-40.2 13.9-12.6 3.6-12.5 2.9-52.1 9.1-50.2 6.4-25.2 2.3-37.6 2.6-50.3 2.3 0-139.4 87.9-3.6 28.8-2.7 66.4-7.6 35.9-5.1 16.1-3 70-16.4 18-4.8 30.5-10.3 30.5-11.8 17.9-9.1 14.4-8.4 10.8-7 8.9-7 10.8-11.5 15.2-18.9 11.7-17.8z" fill="#e8e23a"/>
<path d="M1190.2 130.8l0.9-1.1 1.8-0.8 1.8 1.2 0.5 2.7-0.3 5.9-3.8 17.4-7.1 24.8-5.4 17-6.7 16.7-8.6 17.9-7.1 12-8.1 10.9-16.2 19-9 9.5-14.3 13.6-9 7.5-35.9 26.1-9 6.2-8.9 5.6-21.6 10-26.9 10.5-39.5 13.9-12.6 3.7-10.7 2.5-53.9 9.4-44.8 5.6-27 2.6-41.2 2.9-50.3 2.4 0-130.6 68.2-2.6 26.9-1.6 32.3-3.1 51.9-6.1 39.7-5.8 11.3-2.1 73-17.7 15.8-4.3 30.9-10.6 33.6-13.3 14.9-7.7 23.3-14.1 10.8-8 10.2-10.1 18.5-21.1 8.9-13.7z" fill="#e4d636"/>
<path d="M1189.3 138.7l1.8 1.3 0.2 0.7 0 4-0.9 6-4.6 19.5-7.2 24.1-5.4 14.2-8 18-7.6 14-5.4 8-9.5 11.6-14.4 16.3-9 9-12.5 11.6-9 7.3-32.3 22.9-18 11.8-8.9 4.7-12.6 5.6-30.5 12-39.5 14-12.6 3.6-10.7 2.4-46.7 8.1-39.5 5-34.1 3.3-43 3.4-52.1 2.4 0-122.7 71.8-2.7 23.3-1.3 24.7-2.4 59.7-7.2 37.7-5.5 16.1-3 66.4-16.5 16.2-4.4 27.2-9.3 35.6-14.1 16.2-8.2 19.7-12 10.8-7.3 10.7-9.2 23.4-23.5 9-12.5 1.7-1.9z" fill="#e0c932"/>
<path d="M1182.7 152.7l1.3-1.2 1.8-0.6 0.7 3.8-0.3 4-2.2 11.8-5.4 19.5-5.4 14.8-9 21.2-6.5 12.5-6.6 10-10.2 12.3-14.4 15.6-10.7 10.6-10.8 9.6-9 6.9-32.3 22.6-10.8 7.1-8.9 5.1-12.6 5.9-16.2 6.8-43 16.1-23.4 7.8-17.9 4.3-39.9 6.9-33.7 4.3-87.9 7.8-52.1 2.5 0-115.6 75.4-2.4 19.7-1.1 16.2-1.5 71.8-8.7 34.1-4.9 16.1-3.1 19.8-4.7 55.6-14.6 19.8-6.3 25.1-9.4 25.1-10.4 12.6-6.6 21.5-13.4 12.6-8.9 7.2-6 12.5-11.8 12.6-10.2z" fill="#ddba2f"/>
<path d="M1176.4 166.7l2.2-1.4 1.8-0.4 0.8 3.8-0.8 7.5-3.6 13.7-7.2 19.8-7.2 17.3-7 13.5-6.9 10-11.2 12.8-12.6 13.1-10.7 10.3-10.8 9.4-5.5 4.2-35.8 24.6-10.8 6.8-8.9 4.9-28.8 12.5-45.8 17.1-22.4 7.2-17.9 3.9-35.9 6.1-28.7 3.6-93.3 8.2-52.1 2.5 0-108.2 73.6-2.2 21.5-1.1 84.4-9.8 35.9-4.9 16.1-2.9 19.8-4.7 41.3-11 21.5-6.2 19.7-6.8 27-10.6 21.5-9.5 12.6-7.3 19.7-13 10.8-8.1 17.9-15.1z" fill="#d9ab2d"/>
<path d="M1168.9 178.6l4.3-0.1 1.4 2.1 0.3 4-1.7 8.1-7.2 21.3-5.4 13.4-5.4 11.1-7.1 10.7-11.6 13.2-10 10.2-14.5 13.8-9.3 8-8.1 5.9-30.9 21-10.8 6.7-11.4 6.3-29.8 12.9-40.3 15-24.3 8-17.5 4-34.6 5.8-28.7 3.6-39.5 3.1-57.4 5.3-52.1 2.4 0-100.4 71.8-2.1 32.3-1.8 104.1-12.6 21.5-3.6 18-4.1 44.9-12.2 25.1-7.8 30.5-11.4 26.9-11.4 12.6-6.6 19.7-12.9 10.8-7.7 16.1-13.2 5.4-3.7 7.2-3.2z" fill="#d59b2a"/>
<path d="M1152.2 190.6l4.8-1.7 3.6 0 3.6 0.8 1.8 0.9 1 2 0.5 2-0.1 4-3 12-7.3 19.9-5.5 10.8-5.3 7.7-9 10.2-9 9.2-17 16-11.7 10-41.3 27.7-10.8 6.2-12 6-31 13.2-26.9 9.8-26.9 8.9-18 4.2-34.4 5.7-30.2 3.9-39.5 3-55.7 5.1-23.3 1.4-32.3 1.2 0-91.5 57.4-1.5 50.3-3.1 84.3-9.5 28.8-4 19.7-4.2 43.1-11.8 25.1-7.7 30.5-11.3 30.5-12.5 12.6-6.1 9-5.4 21.5-14.8 16.2-12.8z" fill="#d08b28"/>
<path d="M1146 200.6l5.6-1.2 1.8 0.1 3.6 1.4 1.4 1.7 0.8 2 0.5 4-0.4 4-2.3 8.5-5.4 13.7-5.2 9.7-8 10-13.7 13.9-14.3 13.7-7.1 6.3-7.7 6-28.3 19.2-16.2 10-10.7 5.6-27 12.3-25.1 9.8-32.3 10.2-19.8 4.7-26.9 4.2-44.5 5.7-70.3 6.3-34.1 2.1-43.1 1.4 0-80.3 26.9-0.3 28.7-1.3 80.8-6.2 26.9-2.8 32.3-4.2 25.2-3.6 16.1-3.4 28.7-8.1 42-13.3 26.3-9.9 35.8-14.4 10.8-5.1 9-5.3 17.9-11.8 14.4-10.9z" fill="#cb7a28"/>
<path d="M1137.4 214.6l3.5-1.1 3.6-0.2 1.8 0.3 1.5 1 1.3 2 0.8 3.9-0.4 4-3.4 10-6.8 12-6.1 8-26.4 26.9-10.8 9.1-28.1 19.8-15.5 10-11 6-19 9.1-25.1 11-25.1 7.9-25.2 5.9-14.3 2.3-62.5 7.7-45.2 5.1-19.8 1.7-43 1.7-44.9 0.9 0-65.9 23.3-0.1 21.6-0.9 14.3-1.2 41.3-4.9 53.9-3 34.1-4.6 28.7-4.6 10.7-2.2 19.8-5.4 41.3-13.5 80.7-30.2 9-3.8 7.2-3.9 26.9-16.9z" fill="#c66928"/>
<path d="M1127.2 230.5l2.9-0.7 1.8 0.1 1.8 0.8 1.3 1.8 0.5 4-1 4-1.7 4-3.7 6-7.8 9.9-12.6 14-9.1 8.7-31 23.2-21 14-30.6 15.9-13.3 6-10.2 4-14.2 4.1-19.7 4-16.2 2.1-59.2 5.6-48.4 7.1-12.6 1.4-21.5 1.1-84.4-0.2 0-47 23.3-0.1 21.6-1.6 16.1-2 32.3-5.8 12.6-1.5 10.8-0.5 28.7-0.2 14.3-0.9 18-2.6 43.1-8.2 14.3-3.8 18-6 32.3-11.6 42.7-17.2 45.2-14.5 9-3.7 21.5-11.5z" fill="#c25c27"/>
<path d="M1108.5 250.5l3.7-0.2 1.8 0.9 0.8 1.3 0.2 2-1.3 3.9-5 8-5.5 6.6-7.2 7.1-25.1 20-21.6 15.2-25.1 14.2-21.8 10.7-8.7 3.4-8.4 2.6-9 2-14.9 2-55.6 3-19.8 1.6-14.3 2-30.6 5.4-10.7 1.4-9 0.5-21.5-0.4-62.9-6.9-10.7-0.7-9 0.1 0-12 7.2 0.5 7.2-0.2 10.7-1.2 10.8-2 25.1-6.1 27.7-8.9 15.4-3.3 12.6-1.2 30.5 0.2 14.3-0.9 23.4-4 39.5-8.7 17.9-5.7 30.5-11.6 55.7-23.3 18.5-5.4 24.5-5.5z" fill="#be5426"/>
<path d="M1058 274.4l7.5-0.6 5.4 0.2 5.4 0.9 2.8 1.5 1.1 2-0.3 2-1.2 2-9.4 10-12.8 10.5-16.1 11-30.5 17.3-10.6 5-10.7 4-7.6 2-13.1 2-72.9 3.1-16.2 1.6-26.9 3.7-12.6 1-8.9-0.2-9-1.2-4.9-2-1.4-2 0.2-2 1.1-2 1.9-2 2.8-2 4.2-2 8.7-2.6 10.7-1.9 28.8-2 14.3-1.9 19.8-3.7 35.8-8.2 18-5.9 30.5-12 48.5-21.1 8.9-2.8z" fill="#bb4b24"/>
<path d="M1025.8 511.8 1036.8 504.9 1047.4 498 1057.4 491 1066.4 484.1 1074.4 477.2 1082.2 470.3 1089.7 463.3 1096.9 456.4 1103.9 449.5 1110.5 442.6 1116.8 435.6 1122.7 428.7 1128.3 421.8 1133.5 414.9 1138.3 408 1142.7 401 1146.8 394.1 1150.7 387.2 1154.3 380.3 1157.8 373.3 1161.1 366.4 1164.2 359.5 1167.1 352.6 1170 345.6 1172.7 338.7 1175.2 331.8 1177.7 324.9 1180.1 318 1182.3 311 1184.4 304.1 1186.3 297.2 1188.2 290.3 1190 283.3 1191.8 276.4 1193.6 269.5 1195.5 262.6 1197.5 255.6 1199.6 248.7 1201.9 241.8 1201.9 511.8z" fill="#fff"/>
</g>
<g>
<rect x="717.3" y="586.5" width="484.6" height="393" fill="#231d58"/>
<path d="M717.3 586.5l484.6 0-0.3 73.8-0.1 2-1.4 2.5-0.4 11.5-0.3 2-1.1 2-0.7 11.9-1.1 2.6-0.7 11.4-1.1 2.4-0.8 9.6-1 2.3-1 7.6-0.8 1.5-2.6 12.5-1 2.1-4.4 17.9-7.3 21.9-7.2 18-8.8 19.9-5.8 12-5.7 9.9-8.8 14-7 10-13.2 16.1-14.3 14.7-9 8.2-3.6 2.5-21.5 20.9-18 16.3-10.7 7.8-14.4 7.5-14.4 6.3-28.9 11.4-267.2 0z" fill="#241e63"/>
<path d="M717.3 586.5l217.1 0 21.6 3.4 21.6 1.3 17.9-1 22-3.7 184.4 0 0 63-0.5 10.8-0.3 2-1.1 2-0.5 10-1.4 6-0.7 9.9-0.9 3-1 11-0.8 2.6-1.1 9.4-2 9.9-7.1 28-7.4 23.9-7.8 20-8.5 19.9-6.8 14-5.5 10-9.4 14.9-9 12.8-6.4 8.2-8.9 9.9-17 16.7-5.4 4.4-26.9 25.2-10.8 9.3-12.5 9.1-13.2 7.2-13.8 6.2-33.7 13.7-264.2 0z" fill="#241e6e"/>
<path d="M717.3 586.5l199.6 0 17.6 4 16.1 2.9 14.4 1.6 14.3 0.6 10.8-0.4 12.6-1.4 14.3-2.6 21.3-4.7 163.6 0 0 62.6-0.6 9.2-0.6 4-0.8 2-0.7 10-1.3 6-0.6 7.9-1.2 6-0.7 8-3.9 21.9-7.6 30-7.1 23.1-14.4 35.4-7.1 15.3-5.4 10.1-9 14.6-9 13.2-7.6 10-8.6 9.9-15.7 16-41.7 37.1-14.3 10.7-14.4 8.1-16.2 7.4-34.8 14.5-261.3 0z" fill="#262274"/>
<path d="M717.3 586.5l183.5 0 24.7 6.3 19.7 3.9 18 2.4 17.9 0.8 14.4-0.6 16.2-2.3 22.5-4.5 25.6-6 142.1 0 0 62.2-0.5 1.6-0.6 10-1.1 4-0.5 8-1.5 8-0.7 7.9-3.9 26-2 9.5-7.7 30.4-6.6 21.4-14.4 35.5-7.2 15.4-5.3 10.1-9 14.6-9 13.2-8.7 11.5-10.3 11.9-13.5 14-37.5 32.7-16.1 12.1-14.4 8.4-16.2 7.7-39.8 16.9-258.1 0z" fill="#28267a"/>
<path d="M717.3 586.5l166.7 0 36.1 9.2 22.9 4.8 20.2 2.8 19.7 0.9 18-1 21.5-3.3 30.5-6.6 23.6-6.8 125.4 0 0 61.8-0.6 2-0.5 8-1.2 6-0.7 8-3.9 27.9-3.9 21.6-7.6 30.3-6.7 21.7-14.4 35.5-7.2 15.5-5.3 10.1-9 14.7-9 13.3-9 11.8-10.9 13-13.5 14-31.2 27-18 13.6-8.9 5.8-9 5-17.7 8.4-41.3 18-255.1 0z" fill="#2a2a7e"/>
<path d="M717.3 586.5l146.4 0 51 12.1 25.2 5.2 23.3 3.3 21.5 1.2 10.8-0.3 12.6-1.2 14.3-2 14.4-2.8 26.9-6.6 12.6-4 13.3-4.9 112.3 0 0 61.1-0.7 2.7-0.6 8-1.2 6-0.7 8-4 27.6-3.6 19.9-7.6 30.3-6.7 22-14.4 35.6-7.2 15.5-5.3 10.2-9 14.7-10.7 15.7-7.6 10-11.7 13.9-13.2 14-28.6 24.3-19.8 14.6-16.1 9.7-18 8.8-46.1 20.4-251.8 0z" fill="#2c2e82"/>
<path d="M717.3 586.5l120.5 0 28.5 5.6 56.5 12.4 20.6 3.9 23.4 2.9 21.5 1 12.6-0.4 14.3-1.4 13.5-2.1 17.1-3.4 16.1-4.1 16.2-4.9 16.1-5.8 7.2-3.7 100.5 0 0 60.4-0.8 3.4-0.7 8-1.2 6-4.5 33.8-3.6 19.7-7.5 30.3-6.8 22.3-14.4 35.6-7.2 15.5-5.3 10.3-9 14.7-9 13.3-8.9 12-11.4 13.9-13.8 14.9-21.5 18.3-21.6 16.4-17.9 11.2-19.8 10-32.3 14.1-18.9 8.9-248.5 0z" fill="#2d3084"/>
<path d="M717.3 586.5l85.5 0 52.7 8.5 57.3 11.4 30.6 5.7 25.2 3.1 21.5 0.9 16.2-0.7 16.1-1.7 19.8-3.3 19.7-4.4 18-5.1 14.3-5.1 7.2-3.7 7.9-5.6 92.6 0 0 59.6-1 4.2-0.4 6-5.8 40-3.6 19.5-8 32.3-6.3 20.6-14.4 35.7-7.2 15.5-5.3 10.2-9 14.8-9 13.3-9 12.1-12.4 15.4-12.8 14-21.4 18-21.6 16-8.9 5.8-10.8 6.2-18 9-34.1 15-20.7 9.8-244.9 0z" fill="#2f3387"/>
<path d="M1113.4 588.5l2.9-2 85.6 0 0 58.7-1.1 5.1-0.5 6-5.6 38.2-4.6 23.7-5.9 23.9-5.1 18-4.1 11.8-7.2 18.1-7.2 16.8-7.2 15-5.3 9.8-7.2 11.6-9 13.4-9 12.1-13.5 17-9.8 11-7.2 6.5-19.7 15.9-14.4 10.5-14.3 9.2-24.2 12.8-38.7 17.1-22.5 10.8-241.3 0 0-389.1 25.1-0.4 21.6 0.2 17.9 0.8 19.8 1.8 50.2 6.7 96.1 16.9 22.4 2.6 21.5 0.9 18-0.8 19.7-2.2 21.5-3.8 18-4 14.3-4.2 12.6-4.7 7.2-4.3z" fill="#303589"/>
<path d="M1122.3 588.5l4.6-2 75 0 0 57.7-1.2 6.1-6 42.4-1.8 10.4-4.2 19.1-5.5 21.9-4.6 15.8-10.8 28.4-7.2 16.9-7.2 15-5.3 9.8-7.2 11.6-9 13.3-9.5 12.9-15.6 19.8-9 9.7-12.6 10.6-16.1 12.5-14.4 10-12.5 7.7-23.4 12.1-37.7 16.6-26.4 12.7-237.4 0 0-382 55.6 0.2 21.6 1 17.9 1.4 23.4 2.5 23.3 3 95.1 15.1 23.4 2.3 19.7 0.4 17.9-1.1 19.8-2.4 25.1-4.2 18-4.2 10.7-3.4 9-3.8 18-12.2z" fill="#31388c"/>
<path d="M1133.5 588.5l3.3-2 65.1 0 0 56.7-9 57.9-5.6 25-8.7 32.1-3.6 10.4-9 22.4-12.6 27.5-5.3 9.8-9 14.3-10.8 15.6-16.4 21.6-8.7 10.5-7.2 7.4-14.3 11.7-14.4 10.8-12.6 8.5-12.5 7.7-25.2 12.8-35.9 15.7-30.6 14.6-233.2 0 0-375.2 68.2 0.3 35.9 1.9 41.3 4.4 96.9 13.9 23.3 1.9 19.8 0 16.1-1.1 25.2-3.1 21.5-3.6 14.4-3.4 8.9-2.9 7.2-3 19.8-11.9z" fill="#343e90"/>
<path d="M1139 588.5l2.6-2 60.3 0 0 55.6-9 57-6.1 27-4.6 18.2-4.1 13.8-12.1 31.2-12.6 27.5-5.3 9.8-9 14.3-10.8 15.5-17.6 23.4-7.5 9.1-7.2 7.4-14.3 11.6-14.4 10.7-12.6 8.5-12.5 7.5-25.2 12.7-35.9 15.7-35.2 16.5-228.6 0 0-368.6 82.6 0.1 28.7 1.1 39.5 3.8 95.1 12.6 23.3 1.6 19.8-0.3 19.7-1.6 28.7-3.9 16.2-2.8 12.5-3.2 10.8-3.8 8.1-4.1 24.2-13.6z" fill="#374496"/>
<path d="M1142.5 588.5l2.6-2 56.8 0 0 54.4-9 56.3-6.5 28.9-4.7 18-4.2 14-11.5 29.6-12.6 27.4-5.3 9.8-7.2 11.5-10.8 15.8-19.1 25.6-7.8 9.6-7.2 7.5-13.3 10.8-15.4 11.3-14.4 9.5-12.5 7.3-23.6 11.8-35.7 15.3-26.9 12.8-13.5 5.8-223.4 0 0-363.1 41.3 0.3 46.6-0.5 27 0.8 16.1 1.1 28.7 3 91.6 11.1 21.5 1.1 21.6-0.6 23.2-2.3 28.8-3.9 10.4-2.1 11.1-3.1 12.3-4.9 25.4-13.1 7.2-4.6z" fill="#3b4c9c"/>
<path d="M1145.8 588.5l2.9-2 53.2 0 0 53.2-5.4 34.7-5.4 29.5-5.7 24.2-5 19.1-3.6 11.4-3.6 9.6-14.4 34.2-8.9 17.7-14.4 22.6-27.3 37.1-6.8 8.2-5.4 5.4-14.3 11.5-14.4 10.6-14.4 9.4-12.5 7.2-27 13.1-34.1 14.5-30.5 14.3-14.3 5.5-217.2 0 0-357.8 35.9 0.5 55.6-1.3 25.2 0.4 39.5 3.2 95.1 10.7 23.3 1 21.5-0.8 19.8-2 28.7-4.1 14.4-2.9 14.3-4.4 18-7.6 11.4-6 8.3-5.6z" fill="#4056a4"/>
<path d="M1149.9 588.5l6.1-2 45.9 0 0 52-7.2 44.8-3.6 18.6-3.7 16.3-8.8 33.3-9.2 24.5-12.4 28.5-8.9 17-14.4 22-26.8 36.3-5.5 6.6-5.4 5.5-14.3 11.5-14.4 10.5-14.4 9.3-14.3 8.1-21.6 10.4-35.9 15.1-32.3 15-10.7 4.3-11 3.4-209.8 0 0-353.7 41.3 0.4 52-1.1 25.2 0.3 46.6 3.6 88 9.2 21.5 0.8 23.3-1.1 19.8-2.1 25.1-3.6 17.8-3.8 13-4 14.4-6 15.8-8.3 8.1-5.6 15.3-12.5z" fill="#4561ae"/>
<path d="M1157.4 588.5l6-2 38.5 0 0 50.7-9.2 55-7.7 33.9-7.2 26-9 23.9-11.8 26.8-8.9 16.9-12.6 19.4-28.4 38.7-5.7 7-5.4 5.5-14.3 11.5-16.2 11.7-14.4 9.1-14.3 7.8-23.4 10.9-34.1 14.1-32.3 14.9-10.7 4.1-17.1 5.1-201.9 0 0-349.7 41.3 0.3 52-1.4 23.4 0.1 17.9 1 28.7 2.4 89.8 8.6 23.3 0.7 21.5-1.2 23.4-2.7 23.3-3.8 16.2-3.6 16.1-5.1 12.6-5.3 10.4-5.4 9.3-5.9 19.8-15.1 5.3-3z" fill="#4c6eb9"/>
<path d="M1162.9 588.5l3.6-2 35.4 0 0 49.4-5.9 36.4-5.4 27.9-7 29.9-6.8 23.6-10.8 27.4-10.8 23.6-8.9 16.2-12.6 18.9-26.9 36.7-5.4 6.7-5.4 5.6-16.1 12.8-16.2 11.4-14.4 9-14.3 7.6-21.6 9.8-34.1 13.8-34.1 15.6-10.7 3.9-23.7 6.8-193.5 0 0-346.2 43.1 0.3 52-1.4 21.6 0.1 34 2.1 102.4 8.9 23.3 0.6 21.5-1.4 27-3.4 19.7-3.4 18-4.2 14.3-4.6 14.4-6.2 12.5-6.9 21.6-15.5 7.2-4.6z" fill="#547ec7"/>
<path d="M1165.7 588.5l2.8-2 33.4 0 0 48.1-7.6 45.7-7.7 35.9-6.7 25.9-4.9 14.9-10.9 27-10.7 22.6-8.9 15.4-10.8 15.9-27.7 37.9-6.4 7.7-4.3 4.2-15.4 12.3-16.2 11.4-14.4 8.9-16.1 8.3-19.8 8.8-32.3 12.9-37.7 16.8-10.7 3.8-30.5 8.5-184.9 0.1 0-342.7 43.1 0.2 52-1.3 19.8 0 32.3 1.8 104.1 8.3 25.1 0.4 23.3-1.6 25.2-3.4 19.7-3.5 16.2-3.9 16.1-5.2 12.6-5.4 10.7-5.7 9-5.5 21.6-14.8z" fill="#5a8fd5"/>
<path d="M1167.7 588.5l2.4-2 31.8 0 0 46.6-8 47.2-9.7 43.8-4.7 18-5.5 16-12.4 29.9-10 20.2-7.1 12-10.8 15.8-28.7 39.3-9.3 10.4-14.9 12-15.3 11-16.2 9.9-12.5 6.6-18 7.9-37.7 15-37.7 16.7-10.7 3.7-28.7 8.1-13.4 2.9-173.3 0 0-339 43.1 0.2 50.2-1.4 21.6-0.1 25.1 1.2 111.3 8.1 25.1 0.2 25.1-2 25.2-3.6 19.7-3.8 16.2-4.1 16.1-5.5 12.6-5.7 12.5-6.8 27-17.6 14.3-7.5z" fill="#609ee0"/>
<path d="M1169.2 588.5l2.2-2 30.5 0 0 45-8.3 48.8-11.3 49.8-5.2 18-7.5 19.4-8.7 20.5-9.3 18.6-12.5 19.8-30.5 42.2-7.2 9.3-7.2 7.4-15.5 12.4-15 10.7-16.2 9.7-12.5 6.3-18 7.6-35.9 13.9-35.9 15.6-10.7 3.8-29 8.2-19.5 4.1-18.2 1.9-150.5 0 0-335.1 44.9 0.2 48.4-1.4 19.8-0.2 28.7 1.2 87.9 6 21.6 1.1 25.1 0 25.1-2.2 23.4-3.5 21.5-4.2 16.2-4.2 16.1-5.5 10.8-4.9 16.1-8.8 25.2-16.2 14.3-8.1z" fill="#67a7df"/>
<path d="M1170.5 588.5l2-2 29.4 0 0 43-8.6 50.8-7.5 34-5.4 21.6-5.3 16.2-10.9 26.8-7.2 15.8-7.1 13.3-14.4 21.6-30.5 41.7-8.9 10.4-6.9 6-12.9 10.3-14.4 10.2-12.6 7.6-12.5 6.3-16.2 6.7-35.9 13.4-41.3 17.1-10.7 3.5-30.5 8.5-14.4 3.1-14.3 1.8-12.6 0.6-30.5 0.3-25.5 2.4-87.6 0 0-331 43.1 0.1 53.8-1.6 21.6 0 26.9 1.1 87.9 5.4 23.4 0.7 21.5-0.4 23.3-2.2 25.2-3.9 19.7-4 16.2-4.3 16.1-5.7 12.6-5.9 16.1-8.9 23.4-15.1 12.5-7.4 5.4-3.9z" fill="#70afdc"/>
<path d="M1171.7 588.5l1.8-2 28.4 0 0 41-9 52.8-12.5 53.8-3.6 11.8-9 22.5-9 20.7-5.3 10.9-3.6 6.3-14.4 21.1-30.5 41.3-7.2 8.6-9.1 8.4-14.8 12-13.8 9.8-12.6 7.5-12.5 6.1-16.2 6.3-30.5 10.8-43.1 17.2-10.7 3.4-30.5 8.5-16.2 3.5-14.3 1.8-10.8 0.3-35.9-0.4-66.4 5.5-27.1 1.5-16 0 0-326.9 44.9 0 52-1.6 21.6 0 26.9 0.9 86.1 4.6 23.4 0.6 23.3-0.6 25.1-2.6 25.2-4.2 19.7-4.2 16.2-4.5 16.1-6 12.6-6.1 17.9-10.2 32.3-20.8 5.4-4z" fill="#7ab2d2"/>
<path d="M1172.8 588.5l1.7-2 27.4 0 0 38.8-10.8 60.8-12.5 52.4-3.6 10.3-12.6 29.9-7.2 15.1-7.1 12.9-10.8 15.9-34.1 45.6-8.5 9.6-9.5 8.3-14.4 11.6-12.5 8.6-12.6 7.4-10.7 5-14.4 5.3-30.5 10-46.7 17.5-44.8 12.7-12.6 2.5-12.5 1.5-10.8 0.2-25.1-1-10.8 0.1-55 4-54.5 2.9 0-317.6 44.9 0 52-1.7 21.6-0.1 111.2 4.6 23.4 0.5 25.1-0.8 26.9-3 23.4-4.1 19.7-4.4 16.2-4.6 16.1-6 16.2-8.1 17.9-10.6 28.7-19.1 7.2-5.8z" fill="#84b6c8"/>
<path d="M1173.7 588.5l1.6-2 26.6 0 0 37-10.8 58.1-8.9 38.1-5.4 20.6-5.4 14.6-12.6 28.5-5.4 10.9-7.1 11.8-18 25.8-25.1 31.9-7.2 8-14.3 12.6-14.4 11.3-12.6 8.7-10.7 6.3-12.6 5.8-13.9 5.1-29.2 9-41.3 14.9-46.6 12.8-12.6 2.5-12.6 1.4-10.7 0.1-25.2-1-12.5 0-55.7 3.9-53.8 2.9 0-306.9 44.9-0.1 52-1.7 21.6-0.3 111.2 3.8 21.6 0.2 26.9-1 25.1-2.9 23.4-4.1 21.5-4.9 17.9-5.4 16.2-6.3 21.5-11.3 14.4-9 26.9-18.6 5.4-4.7z" fill="#84b6b9"/>
<path d="M1174.6 588.5l1.5-2 25.8 0 0 35.4-11.9 60.4-6 25.9-5.9 21.9-5.2 16-6.9 17.9-10.8 22.6-7.1 13.1-10.8 16-12.6 16.9-21.5 26.6-5.4 5.8-5.4 4.7-16.1 12.4-16.2 10.8-14.3 8.1-14.4 6.6-16.2 6.2-66.4 22.7-12.5 3.7-30.5 8.1-16.2 3.5-14.4 1.7-46.6 1.1-53.9 4.1-57.4 3 0-296.1 46.7-0.1 50.2-1.9 21.6-0.2 107.6 2.8 23.4 0.1 28.7-1.2 28.7-3.7 25.1-4.9 19.8-4.9 19.7-6.4 14.4-6.1 23.3-12.9 30.5-20.9 9-7.3z" fill="#84b6aa"/>
<path d="M1175.5 588.5l1.4-2 25 0 0 33.8-13.7 65.9-4.7 20-4.4 16-4.6 13.9-10.6 27.9-7.5 16-8.3 15-11 16.9-10.6 14.4-21.5 25.9-5.4 5.9-5.4 4.9-14.3 10.6-16.2 10-17.9 9.2-18 7.8-17.9 6.7-57.5 19.6-12.5 3.9-35.9 9.4-18 3.7-16.1 1.8-89.8 6.1-62.8 3.2 0-284.8 46.7-0.1 52-2 19.8-0.3 105.9 1.8 25.1 0 17.9-0.7 14.4-1.2 28.7-4.2 21.5-4.4 21.6-5.5 19.7-6.7 14.4-6.5 23.3-13.2 28.7-20.1 9-7.6z" fill="#84b69a"/>
<path d="M1176.6 588.5l1.3-2 24 0 0 32.4-16.9 77.3-7 26-8 21.9-8.9 21.9-6.8 14-7.1 12-13 19.9-10.5 14-20.5 23.3-5.4 5.4-5.4 4.5-14.3 10.4-14.4 9-14.4 7.6-16.1 7.2-18 6.7-62.8 20.9-16.1 4.7-23.4 5.8-25.1 5.2-21.5 2.5-79 5.8-70 3.7 0-273.7 48.5-0.3 68.2-2.3 105.9 1 23.3-0.3 32.3-1.8 16.2-2.1 16.1-2.7 25.1-5.4 21.6-6 17.9-6.5 16.2-7.6 12.5-7 9-5.6 26.9-19.3 10.8-9.9z" fill="#86b790"/>
<path d="M1177.8 588.5l1.3-2 22.8 0 0 30.9-16.8 74.8-7.4 28-8.3 21.9-8.3 20-6.7 13.9-6.3 11.1-14.4 21.5-10.8 14.4-16.1 18.6-7.2 7.1-5.4 4.6-12.5 9.2-16.2 10.3-14.4 7.7-14.3 6.7-16.2 6-55.6 18-19.8 6-14.3 3.7-35.9 7.7-26.9 3.7-70 6.2-80.8 4.6 0-263.3 50.3-0.4 68.2-2.5 59.2 0.2 64.6-0.5 19.7-0.9 16.2-1.4 14.4-1.9 19.7-3.4 25.1-5.7 19.8-5.7 19.7-7.3 16.2-7.9 12.5-7.2 9-5.7 25.1-18.5 10.8-10.2z" fill="#8ab986"/>
<path d="M1179.1 588.5l1.4-2 21.4 0 0 29.5-18.9 82.2-6.2 21.9-9.4 24-8.6 19.7-7.2 14-7.1 11.6-16.2 23-14.3 17.5-12.6 13.5-12.5 10.4-14.1 10-12.9 7.9-14.4 7.6-12.5 5.6-12.6 4.4-30.5 8.7-34.1 10.8-26.9 7.1-37.7 7.5-37.7 4.7-57.4 5-80.8 4.5 0-252.9 52.1-0.5 64.6-2.5 59.2-0.2 64.6-1.1 19.8-1.2 17.9-1.6 16.2-2.3 17.9-3.3 26.9-6.3 21.6-6.6 19.7-7.9 18-9.4 17.9-11.2 23.3-17.5 5.4-4.9 7.2-7.6z" fill="#8dba7d"/>
<path d="M1182.1 586.5l19.8 0 0 28-7 31.8-12 49.9-3.7 14-4 12-10.6 25.9-9.4 20.1-5.3 9.7-10.8 16.1-14.4 19.4-17.9 20.9-10.8 10.5-12.6 9.7-12.5 8.7-12.6 7.7-13 6.9-12.1 5.2-12.6 3.9-30.5 7.7-35.9 10.8-21.5 5.3-23.4 4.7-21.5 3.5-46.7 5.4-48.4 4.1-75.4 4.2 0-242.7 46.7-0.4 68.2-2.9 61-0.7 61-1.6 23.4-1.6 17.9-1.8 16.2-2.4 19.7-3.8 28.7-7.2 19.8-6.4 19.7-8.2 19.7-10.6 9-5.6 10.8-7.5 12.5-9.5 7.2-6 11-11.2z" fill="#91bb75"/>
<path d="M1183.8 586.5l18.1 0 0 26.4-7.2 32.4-12.4 50.9-3.7 13.9-3.6 10.5-9 21.8-10.8 22.8-5.3 9.6-10.8 15.8-14.4 19-19 22.3-9.7 9.5-16 12.4-12.7 8.8-11.8 7.2-11.5 6-10.8 4.5-12.6 3.7-28.7 6.3-35.9 10.5-23.3 5.6-23.4 4.4-19.7 3.1-55.6 6.3-43.1 3.4-73.6 4 0-232.4 53.8-0.6 55.7-2.6 64.6-1.3 61-2.3 23.4-1.7 19.7-2.2 19.7-3.2 19.8-4.2 26.9-7.1 21.5-7.4 18-7.9 21.5-11.9 16.2-11 10.8-8.2 8.9-7.6 7.2-7.1 5.4-6.1z" fill="#95bc6d"/>
<path d="M1185.6 586.5l16.3 0 0 24.7-9 39.7-10.7 43.2-3.6 13.7-3.6 10.5-12.6 29.3-7.2 14.5-5.3 9.3-14.4 20.5-12.6 16-21.5 24.6-12.6 11.2-15.8 12.1-12.1 8-10.4 6-12.3 6-6.8 2.4-10.8 2.9-28.7 5.5-39.5 11.1-25.1 5.5-37.7 6.1-62.8 7-43.1 3.3-66.4 3.6 0-222.2 55.6-0.8 55.7-2.9 62.8-1.7 57.4-2.8 23.4-1.9 23.3-2.7 19.7-3.4 19.8-4.3 26.9-7.4 21.5-7.5 19.8-8.9 19.7-11.1 21.6-15.2 8.9-7.2 7.2-6.4 10.8-11.6z" fill="#9abd65"/>
<path d="M1187.4 586.5l14.5 0 0 22.8-2.9 11.1-6.1 27.7-12.5 49.8-3.6 12-7.2 17.8-10.8 23.3-7.2 13.8-7.1 10.5-16.2 21.6-16.1 19.5-12.6 13.6-12.6 10.8-16.1 12.2-10.8 7.2-10.8 6.3-10.7 5.4-7.2 2.7-12.6 3.2-26.9 4.9-39.5 10.9-25.1 5.5-39.5 6.2-61 6.9-39.5 3-70 3.7 0-212 32.3-0.2 28.7-0.8 53.9-2.7 59.2-2.1 52-3.2 27-2.5 25.1-3.2 19.7-3.5 21.6-5 26.9-7.7 21.5-8 19.8-9.2 21.5-12.5 16.2-11.7 10.7-8.6 7.2-6.4 10.8-11.9z" fill="#9fc05d"/>
<path d="M1189.2 586.5l12.7 0 0 20.8-3.2 11.1-7.6 33.4-12.5 48.6-3.6 10.3-10.8 24.5-7.2 14.6-7.1 12.8-10.8 15.7-14.4 18.2-17.9 21-9 9.5-12.6 10.9-16.1 12-10.8 7-9 5.3-10.7 5.4-7.2 2.8-12.6 3.2-26.9 4.9-41.3 11.5-25.1 5.4-39.5 6.2-62.8 6.9-41.3 3.1-64.6 3.4 0-201 30.5-0.3 28.7-0.9 53.9-3.3 61-2.7 50.3-3.7 26.9-2.8 26.9-3.7 21.5-4.2 21.6-5.3 26.9-8.1 19.7-7.6 23.4-11.2 17.9-10.7 23.4-17.4 10.7-9.6 10.8-12.3z" fill="#a5c355"/>
<path d="M1190.6 586.5l11.3 0 0 18.5-4.5 15.4-9.9 41-8.9 33.4-3.6 10.8-3.6 8.7-10.8 23-9 16.9-8.9 13.4-14.4 19.3-14.4 17-10.7 11.9-7.2 7-16.1 13.1-16.2 11.8-10.8 7-9 5.1-8.3 4-7.8 2.8-10.8 2.7-25.1 5-43.1 12.1-28.7 6.1-35.9 5.7-61 6.8-39.5 3-66.4 3.4 0-190.1 34.1-0.3 30.5-1.1 104.1-6.3 19.8-1.6 44.8-4.4 35.9-4.9 26.9-5 27-6.8 25.1-7.9 21.5-8.5 23.4-11.7 17.9-11 21.6-16.4 10.7-9.8 7.2-8.2 11.6-14.9 6.4-8.5z" fill="#aec84e"/>
<path d="M1190.4 588.5l1.3-2 10.2 0 0 15.8-5.5 18.1-11 43.9-6.8 24.5-7.1 19.4-9.1 19.8-10.8 20.1-9 14-14.3 19.2-16.1 19-9 9.8-7.2 6.8-17.9 14.1-16.2 11.7-10.8 6.9-10.7 6.1-7.2 3.4-7.2 2.6-9 2.5-26.9 6.2-43.1 12.6-28.7 6.2-34.1 5.5-57.4 6.5-39.5 3.1-70 3.7 0-178.8 32.3-0.4 32.3-1.3 116.7-8.1 48.4-5.5 35.9-5.4 30.5-6 27-7.1 25.1-8.2 19.7-8 27-13.6 16.1-10.1 21.6-16.5 10.7-10.2 21.6-27.1 5.3-8.1z" fill="#bccf46"/>
<path d="M1192.7 586.5l9.2 0 0 12.5-7.1 23.4-10.2 39.9-6 20.7-9.6 25.2-9.5 19.9-11.4 19.7-12.3 18.2-9.3 12-17.9 20.4-7.2 7.5-7.2 6.5-17.9 13.9-16.2 11.5-19.7 12.1-7.2 3.5-9 3.5-32.3 8.7-41.3 12.6-16.1 4.1-18 3.7-34.1 5.7-59.2 6.6-43.1 3.3-62.8 3.1 0-167.4 35.9-0.5 34.1-1.6 95.1-7.4 16.2-1.6 50.2-6.6 37.7-6.5 30.5-6.6 27-7.6 25.1-8.8 21.5-9.4 25.2-13.2 8.9-5.7 9-6.5 17.9-14.2 9-9.2 19.8-24.9 5.6-8.5z" fill="#cbd540"/>
<path d="M1194.7 586.5l7.2 0 0 7.2-1.8 8.9-7.2 23-9.5 36.7-5.6 18-12.1 29.9-7.9 15.9-9.6 16-14.9 21.9-9.3 12-12.5 14-8.3 8.5-7.2 6.5-23.3 18-16.2 11.4-10.7 6.8-9 4.9-9 4.1-9 3.3-26.9 8-41.3 13.1-14.3 3.8-23.4 4.9-32.3 5.5-59.2 6.5-43.1 3.2-61 3 0-156.7 39.5-0.6 43.6-2.1 94.6-8.7 52-7.6 39.5-7.4 30.5-7 28.8-8.5 25.1-9.2 21.5-9.8 25.1-13.7 9-5.8 10.8-8.1 14.3-11.7 9-9.6 19.8-25 10.7-18.2z" fill="#dadd3d"/>
<path d="M1195.1 590.5l3.2-1.3 1.8 1.3 0.1 6-1.1 6-2.5 9.9-5.5 16.8-9.9 37.1-4.7 14-11.2 25.9-5.6 12-5.4 9.9-10.4 16-12.6 18-11.5 13.9-13 14.4-9 8.5-8.8 7-18.1 13.6-16.2 11-12.5 7.6-9 4.6-9 3.9-10.8 4-61 20-14.3 3.9-27 5.9-32.3 5.5-57.4 6.2-44.9 3.4-59.2 2.8 0-146.3 35.9-0.6 37.7-2 32.3-2.6 71.8-7 48.4-7.6 39.5-7.8 32.3-7.6 27-8.2 25.1-9.4 21.5-9.7 27-14.5 7.1-4.5 8.6-6.2 18.4-14.8 8.9-9.4 19.8-24.4 14.3-23.4z" fill="#e8e23a"/>
<path d="M1192.3 598.5l2.4-1.8 1.8 0.3 0.8 1.5 0.3 4-0.8 5.9-6 20-9.8 35.9-3.3 10-4 10-11.8 25.9-9.5 17.9-14.9 22-10.6 13.9-6.7 8-11.6 12.4-9 8.7-13.4 10.8-17.1 12.8-16.2 11-10.7 6.4-9 4.6-10.8 4.7-12.5 4.7-59.3 19.8-16.1 4.3-25.2 5.5-16.1 3-16.2 2.4-59.2 6.1-43.1 3.3-57.4 2.8 0-136.8 35.9-0.5 37.5-1.9 28.9-2.6 73.6-7.7 46.7-7.6 32.3-6.4 35.9-8.5 28.7-8.5 25.1-9.4 23.3-10.4 24.3-12.7 9.8-6.1 9-6.2 19.8-16 7.7-7.7 21-24.5 5.2-7.4 7.3-12.2z" fill="#e4d636"/>
<path d="M1190.8 606.4l2.1-1.2 1.4 1.2 0.6 2-0.2 4.8-15.7 55.1-3.6 10-8.8 19.9-8.8 18-6.9 11.9-11 16-11.6 15.6-7.2 8.4-14.3 15-10.8 9.7-14.3 11.1-14.4 10.4-16.2 10.7-14.3 8.1-12.6 5.8-16.1 6.2-34.1 12-30.6 9.8-34.1 7.8-19.7 3.6-14.4 2-64.6 6.4-35.9 2.9-57.4 2.8 0-128.4 34.1-0.4 34.1-1.7 35.9-3.1 68.2-6.9 46.7-7.7 30.1-6.1 34.5-8.2 30.5-9 25.1-9.2 23.4-10.4 28.5-15.1 16.3-10.5 14.4-11.3 14.3-13.1 23.4-25.3 10.7-15.7z" fill="#e0c932"/>
<path d="M1189.3 616.4l1.8 0.8 0 6.5-1.2 2.7-0.5 4-1 2-0.7 4-5.2 17.9-5.7 18.2-9 21.3-6.8 14.4-5.3 10-7.3 11.9-12.9 18-9 11.4-12.5 13.6-10.8 10.6-9 7.6-23.3 17.3-12.6 8.6-12.5 7.6-12.6 6.6-14.4 6.3-53.8 19.6-25.1 7.8-32.3 7.2-18 3.3-16.1 2.1-80.8 7.6-35.9 2.6-39.5 1.8 0-120.6 34.1-0.5 34.1-1.7 37.7-3.2 66.4-6.7 44.9-7.4 25.1-5 35.9-8.5 27.4-8 24.6-8.8 25.2-10.8 25.1-13 21.5-13.1 14.4-10.9 16.2-14.2 25.3-24.9 10.6-13.1 1.7-1.9z" fill="#ddba2f"/>
<path d="M1183.1 630.4l0.9-0.8 1.8-0.6 1.2 3.4-0.2 2-1 6.1-0.9 1.9-0.9 4.5-7.2 23.1-10.8 25.8-5.4 11.5-7.2 13.3-8.9 13.3-10.8 14.5-9 10.8-12.5 13.1-10.8 10.3-9 7.3-21.5 15.8-14.4 9.6-12.5 7.4-12.6 6.4-14.4 6.2-55.6 20.4-23.3 7-32.3 7.2-16.2 2.9-16.1 2.1-89.8 8.3-34.1 2.3-32.3 1.4 0-112.8 34.1-0.4 30.5-1.5 32.3-2.7 73.6-7.2 25.1-3.9 39.5-7.2 34.1-8 25.2-7 25.1-8.6 25.1-10.3 23.3-11.4 23.4-13.4 12.5-8.3 10.8-8.4 26.9-24.6 16.2-13.3z" fill="#d9ab2d"/>
<path d="M1175.9 644.4l4.5-1.8 1.2 1.8 0.4 3.9-3.4 13.1-3.6 9.9-10.8 25.7-7.2 15.3-7.1 12.1-12.6 17-9 11.3-7.2 8-13.4 13.3-11.2 10-31 22.4-12.6 8.1-12.5 7.1-14.4 6.9-14.3 5.9-52.1 19-21.3 6.4-34.3 7.6-16.2 2.7-14.3 1.8-48.5 4-46.7 4.7-30.5 2.1-30.5 1.3 0-104.7 32.3-0.3 30.5-1.4 105.9-9.9 23.3-3.5 37.7-6.8 27-6.2 26.9-7.2 23.3-7.6 23.3-8.9 23.4-10.5 19.7-10.5 18-10.7 12.5-8.5 12.6-10.2 23.3-20.9 7.2-5.2z" fill="#d59b2a"/>
<path d="M1166.2 656.3l5.2-1 1.8 0.2 1.8 1.4 0.7 3.4-0.1 2-0.6 3.3-1.8 5.2-10.8 26.1-9 19-5.3 8.5-14.4 18.8-7.3 8.9-8.9 9.4-10.7 10.6-10.8 9.3-17.9 13.3-14.4 10-14.4 9-12.5 6.9-12.6 5.9-16.1 6.6-46.7 16.7-12.7 4-14.2 3.8-28.4 6.2-18.3 3.1-12.6 1.6-50.2 4-48.5 5-28.7 2-30.5 1.3 0-95.6 32.3-0.4 32.3-1.6 104.1-10 23.3-3.6 34.1-6.2 23.4-5.5 28.7-7.7 23.3-7.6 21.6-8.2 23.3-10.2 19.7-10 19.8-11.7 14.3-9.4 12.6-9.6 21.5-19.3 5.4-3.6z" fill="#d08b28"/>
<path d="M1159.1 666.3l3.3-0.5 3.3 0.5 1.8 2 0.6 2 0.1 4-2.2 8-7.5 17.9-8.6 17.3-7.1 10.6-14.5 18-7.2 8.2-11.3 11.7-8.4 7.8-7.2 5.9-19.7 14.6-12.6 8.7-16.1 10.1-14.4 7.5-14.4 6.5-16.1 6.2-41.3 14-23.8 6.5-37.2 7.9-25.1 3.5-48.5 3.7-50.3 5.3-32.3 2.1-25.1 1.1 0-85.9 35.9-0.5 34.1-1.8 21.5-1.9 73.6-7.8 23.2-3.5 32-6 17.2-4 17.4-4.6 26.9-7.9 21.5-7.4 28.7-11.7 21.6-10.1 19.7-10.8 23.4-14.4 10.7-7.6 23.4-19.7 5.3-3.3z" fill="#cb7a28"/>
<path d="M1153.4 676.3l3.6 0.3 1.8 1 1.3 2.7 0.3 2-0.4 3.9-1.2 4.5-5.4 13.2-5.3 10.4-9 13.7-9 11.5-10.7 12.6-11 11.9-8.5 8-27.2 21-10.8 7.7-12.6 8.1-10.7 6.1-12.6 6.2-14.3 6.1-12.6 4.7-32.3 10.4-29.2 7.5-39 8.3-23.4 3.4-50.2 3.9-48.5 5.2-32.3 2.4-26.9 1.4 0-77 46.7-0.7 32.3-1.4 19.7-1.7 80.8-10.5 35.9-6.8 19.7-4.7 35.9-10.9 23.4-7.9 23.3-9.1 25.1-11.1 23.3-12 31.8-18.4 9.5-6.3 19.8-15.3 3.6-2.3z" fill="#c66928"/>
<path d="M1142.4 690.2l3.9-1 1.8 0 1.6 1 0.8 2 0.2 2-0.6 4-3.8 10-5.4 10-8.1 11.9-15.9 20-11.9 13.5-7.2 6.9-11.7 9.5-15.5 12-13.9 10-9.3 5.9-10.6 6-21.6 10.1-21.5 7.9-21.5 6.3-62.2 13.6-20.4 3.9-16.1 2-46.7 3.8-52.1 5.6-57.4 3.9 0-66.8 41.3-0.4 41.3-1.3 16.1-1.2 80.8-12.2 32.3-6.4 16.1-3.9 19.8-6.2 39.5-13.7 25.1-9.8 17.9-7.7 25.2-12.2 27.7-15 17.1-8.6 7.2-4.3 12.6-8.5z" fill="#c25c27"/>
<path d="M1130.9 706.2l2.8-0.3 0.9 0.3 1.5 2 0.1 2-0.8 4-3.6 8-7.8 11.9-11.8 16-7.2 8.7-6.9 7.2-23.9 20-21.9 16-9.5 5.9-10.9 6-8 4-14 6-17.3 6-15 4.1-39.5 7-32.8 6.8-21.1 3.7-93.3 9.3-73.6 5.1 0-52.3 39.5-0.8 44.9-2 16.1-1.4 77.2-13.1 41.3-8.9 14.3-4.3 12.6-4.4 61-23.4 30.5-13.6 44.9-23 17.9-6.7z" fill="#be5426"/>
<path d="M1103.7 724.1l8.5-0.6 3.1 0.6 1.8 2-0.3 4-3.4 8-4.8 8-7 10-5.7 6-25.6 21.9-13.1 10-9.7 6.4-10.7 6.4-12.6 6.5-12.5 5.7-12.6 4.7-12.6 3.9-10.7 2.3-39.5 4.8-46.7 9.3-27.5 3.8-42.5 4.4-19.7 1.4-53.1 2.2-29.5 0.4 0-27.3 26.9-1.5 25.2-2.4 34.2-5.1 28.6-3.5 61-10.9 41.3-9.6 21.5-7.1 61-24.6 30.5-13.9 49.2-24.2 4.7-1.6z" fill="#bb4b24"/>
<path d="M1077.8 748.1l9.2-1.9 1.8 0.4 1.1 1.5-0.3 2-2.3 4-5.1 6-6.1 5.9-9.3 8-17.5 12.6-23.3 13.8-19.7 10.4-16.2 6.6-8.1 2.5-9.8 1.9-39.5 3.8-46.7 7.9-32.3 4.9-10.8 0.9-7.1 0-7.9-1.4-1.3-2 1.6-2 3.5-2 5.4-2 8.1-2 28.3-4.5 16.1-3.4 44.9-12.5 14.3-4.6 18.2-6.9 35.7-14.7 23.3-10.2 36.6-17z" fill="#b74023"/>
<path d="M1084.5 979.5 1091.2 972.6 1097.7 965.7 1103.9 958.7 1109.5 951.8 1114.7 944.9 1119.6 938 1124.4 931 1129 924.1 1133.5 917.2 1137.8 910.3 1141.9 903.3 1145.8 896.4 1149.5 889.5 1153 882.6 1156.3 875.7 1159.4 868.7 1162.3 861.8 1165.1 854.9 1167.7 848 1170.3 841 1172.7 834.1 1175.1 827.2 1177.3 820.3 1179.4 813.3 1181.4 806.4 1183.3 799.5 1185.1 792.6 1186.8 785.7 1188.3 778.7 1189.7 771.8 1191 764.9 1192.2 758 1193.4 751 1194.6 744.1 1195.9 737.2 1197.2 730.3 1198.6 723.3 1200.1 716.4 1201.9 709.5 1201.9 979.5z" fill="#fff"/>
</g>
<g>
<rect x="717.3" y="1053" width="484.6" height="393" fill="#231d58"/>
<path d="M717.3 1053l193.4 0 13 2.6 12.6 1.9 12.5 1.1 14.4 0.5 14.4-0.4 12.5-1 14.4-2.1 13.7-2.6 183.7 0-0.2 103.7-1.6 2-0.3 8-1.5 2-0.3 8-1.5 2-0.4 8-1.5 2-0.2 5.9-0.4 2-1.2 2-0.4 6-1.4 2-0.3 6-1.4 2.1-0.4 5.9-0.5 2-0.9 0.9-0.6 7-1.1 1.6-0.6 6.4-1.2 2.4-0.6 5.6-1.2 2.8-0.6 5.2-0.5 2-0.7 0.8-0.6 5.2-1.2 2.4-0.9 5.5-0.9 1.2-0.9 4.8-0.9 1.3-1.1 4.7-0.7 0.9-2.6 9.1-1 1.7-1.1 4.3-0.7 0.9-2.8 9.1-0.8 1-6.3 16.9-7.4 16-12.9 21.9-10.8 16-15.8 19.9-7.8 8.9-9 7.9-1.8 0.7-7.2 5.3-25.1 15.5-14 7.6-328.8 0z" fill="#241e63"/>
<path d="M717.3 1053l177.9 0 19.5 4.7 18 3.2 17.9 2 16.2 0.6 16.1-0.5 16.2-1.7 17.9-3.1 23.3-5.2 161.6 0 0 97-0.4 6.7-1.5 2-0.4 8-1.4 2-0.3 6-0.3 2-1.2 2-0.4 6-0.4 2-1.1 2-0.4 5.9-1.2 2.5-0.6 5.5-1.5 4-0.3 4-0.3 2-1 2-0.7 6-1 2-0.7 6-1 2.6-2.9 15.3-0.7 1.6-1.1 6.4-0.7 1.6-2.8 12.4-5.7 17.9-9.3 25.9-7.3 18-5.4 11.2-9.7 16.7-10.3 16-7.3 10-17.7 21.9-8.9 8.5-5.4 3.8-25.1 15.8-21.2 11.8-327 0z" fill="#241e6e"/>
<path d="M755.7 1055l11.5-2 114.3 0 24.3 6.6 23.3 4.7 21.5 2.8 21.6 0.9 17.9-0.8 19.8-2.7 23.3-4.7 27.2-6.8 141.5 0 0 96.6-0.6 7.1-1.4 2-0.3 6-0.3 2-1.2 2-0.4 6-1.5 4-0.4 6-1.5 4-0.5 5.9-1 2-0.8 6-1.3 4-0.4 4-1.3 4-0.5 4-1.2 4-4.3 21.9-5.9 24-7.1 21.9-7.6 20.9-6.1 15-6.6 14-10.6 18.3-10.8 16.3-19.2 25.2-8.9 10-7.4 6-18.5 11.9-16.9 10-15 8-325.1 0 0-389.5 17.9 0.4z" fill="#262274"/>
<path d="M776.2 1055l4.8-2 89.6 0 6.4 2.9 12.6 3.7 16.2 4 16.8 3.4 15.5 2.6 12.5 1.5 12.6 0.9 12.6 0.3 21.5-1.2 25.1-3.7 28.7-6.5 26.1-7.9 124.7 0 0 96.2-0.5 5.5-0.3 2-1.3 2-0.3 6-1.5 4-0.5 6-1.4 4-0.6 6-1.3 4-0.3 3.9-3.4 14-6.1 29.9-7.6 31.5-7.2 22.1-7.2 19.8-7.2 17.4-6.3 13-10.6 17.9-10.5 16-19.6 25.9-8.9 10-5.1 4.2-21.3 13.7-16.4 9.6-16 8.4-323.2 0 0-385.4 14.4 0.3 14.3-0.8 18-2.4z" fill="#28267a"/>
<path d="M786.4 1055l3.8-2 72.3 0 9.2 5.1 7.1 2.8 15.6 4.1 16.7 3.6 21.6 4 14.3 2 16.2 1.5 16.1 0.4 12.6-0.4 14.1-1.2 12.8-1.7 14.4-2.6 15.3-3.6 13.4-3.8 29.5-10.2 110.5 0 0 95.8-0.6 5.9-0.4 2-1.2 2-0.4 6-1.4 4-0.6 6-1.3 4-0.4 4-1.5 6-0.5 3.9-11.3 51.9-5.5 22.4-7.2 21.9-7.2 19.7-7.2 17.3-7.1 14.4-10.8 18.2-10.8 16.1-19.7 26.2-9 9.7-10.7 7.7-19 11.9-15.2 8.7-14.3 7.3-321.3 0 0-381.4 19.7 0.1 21.6-2.1 16.1-2.8 5.4-1.9z" fill="#2a2a7e"/>
<path d="M796 1055l3.8-2 54.2 0 12.3 6.9 8.9 4.1 23.4 5.9 23.3 4.6 23.3 3.7 19.8 1.9 17.9 0.6 14.4-0.5 14.4-1.2 14.3-2.1 14.4-2.8 19.7-5.1 18-5.6 16.1-5.9 8.8-4.5 98.9 0 0 95.6-0.7 6.1-0.4 2-1.2 2-0.5 6-1.3 4-0.7 6-1.2 4-2.5 13.9-11.2 51.3-5.4 21.8-7.2 21.8-7.7 20.9-6.7 15.9-7.1 14.4-10.8 18.2-10.8 16.2-19.7 26.4-5.4 6.3-4.4 4.3-11.4 8-19.1 11.9-15.4 8.7-14.3 7.3-319.5 0 0-377.4 12.6 0.2 12.5-0.5 14.4-1.4 14.3-2.1 10.8-3.1z" fill="#2c2e82"/>
<path d="M808.1 1055l5.3-2 29 0 5.9 2.5 23.4 11.5 7.1 2.4 12.6 3 25.1 4.9 30.5 4.9 19.8 1.9 19.7 0.6 16.2-0.5 16.1-1.5 16.2-2.6 17.9-4 21.6-6.1 19.7-6.8 7.2-3.6 9.7-6.6 90.8 0 0 95.4-0.8 6.3-1.5 4-0.6 6-1.3 4-0.8 6-1.2 4-2.5 13.9-11 50.2-5.4 21.7-7.2 21.7-8.2 22.2-6.8 15.9-6.5 13-10.8 18.2-11.2 16.7-19.3 26-5.4 6.4-5.4 5.1-15 10.4-16.1 9.9-15.6 8.8-14.3 7.2-317.7 0 0-373.3 12.6 0 14.3-0.7 28.7-3.3 5.4-1.3 7.1-2.4z" fill="#2d3084"/>
<path d="M1115.5 1055l2.5-2 83.9 0 0 95.2-1 6.5-1.4 4-0.7 6-1.3 4-0.4 4-4.1 19.9-14.4 64.1-7.2 23-10.8 29.2-5.4 12.6-5.3 11-14.4 24.4-9 13.3-16.1 22-7.2 9-4.6 4.9-10.4 8-18.3 12-18.8 10.8-17.7 9.1-316.1 0 0-369.3 26.9-0.8 30.5-3.3 10.8-2.9 28.7-10.3 9-2 7.2-0.4 7.2 1 7.1 2.1 23.4 9.9 7.1 2.6 28.8 6.2 34.1 5.9 19.7 2.5 23.3 1.4 21.6-0.2 16.1-1.4 18-2.7 19.7-4.2 19.8-5.2 12.5-4 9-3.5 7.2-4.3z" fill="#2f3387"/>
<path d="M1122.9 1055l2.1-2 76.9 0 0 95-0.7 2.8-0.4 3.9-1.4 4-0.8 6-1.2 4-0.4 4-4.1 19.4-14.3 63.4-7.2 23-10.8 29-5.4 12.6-5.3 11.1-14.4 24.3-9 13.3-16.1 21.9-7.2 9.1-5.4 5.7-11.3 8.6-18.3 12-18.9 10.9-17.5 9-314.5 0 0-365.3 26.9-1 30.5-2.9 12.6-2.8 28.7-8.3 9-1.6 5.4-0.3 7.2 0.7 7.1 1.7 25.2 9 8.9 2.6 21.6 4.2 35.9 6 17.9 2.5 18 1.5 17.9 0.6 16.2-0.5 17.9-1.7 19.8-3 23.3-4.9 16.1-4.5 10.8-3.7 7.2-3.6 8.6-5.7z" fill="#303589"/>
<path d="M1128.7 1055l1.6-2 71.6 0 0 94.9-0.8 2.9-0.4 3.9-1.4 4-0.4 4-1.6 6-4.4 22.6-14.3 63-7.2 22.9-10.8 29-5.4 12.6-5.3 11-14.4 24.3-9 13.3-16.1 21.9-7.2 9-5.4 5.7-13.1 10.1-18.1 12-19.1 11.1-17.2 8.8-313 0 0-361.3 26.9-1.1 30.5-2.6 12.6-2.2 30.5-7 9-1.3 5.4-0.1 7.1 0.7 7.2 1.4 23.4 7.1 8.9 2.3 23.4 4.2 41.2 6.6 18.7 2.2 17.2 1.2 16.2 0.2 16.2-0.7 21.5-2.4 23.3-4 19-4.3 16.9-5.1 9-3.9 9-5.7 12.5-9.2z" fill="#31388c"/>
<path d="M1134 1055l1.7-2 66.2 0 0 94.7-0.6 1.1-0.7 5.9-1.4 4-0.4 4-5.9 27.7-14.3 62.7-7.2 22.8-11.4 30.5-10.1 22-15.4 25.8-9.8 14.3-14.3 19.3-7.2 9-5.4 5.7-14.9 11.6-17.9 12-19.2 11.2-16.9 8.7-311.6 0 0-357.3 25.1-1.1 32.3-2.4 14.4-1.9 32.3-5.5 12.6-0.9 7.1 0.5 7.2 1.3 30.5 7.2 71.8 11.3 18 1.7 17.9 0.9 14.4 0 14.3-0.8 21.6-2.5 25.1-4.1 16.2-3.6 16.1-5.1 10.8-5.1 16.1-10.4 5.4-4.7z" fill="#343e90"/>
<path d="M1139.3 1055l1.9-2 60.7 0 0 94.5-0.7 1.3-0.7 5.9-1.4 4-0.4 4-5.8 26.9-14.3 62.3-7.2 22.8-11.9 31.7-9.6 20.7-16.2 27-9 13.1-16.1 21.4-7.2 8.6-4.9 4.9-15.4 12-17.7 12-17.6 10.4-18.3 9.5-310.2 0 0-353.3 25.1-1.2 32.3-2.2 50.3-6.3 10.8-0.3 12.5 1.3 28.7 5.6 59.3 9.2 17.9 2.3 18 1.6 16.1 0.7 16.2-0.2 14.3-1 21.6-2.5 23.3-4 18-4.2 16.1-5.2 12.6-6 10.7-6.7 5.4-4.7z" fill="#374496"/>
<path d="M1146.7 1055l2.8-2 52.4 0 0 94.3-0.8 1.5-0.8 5.9-1.3 4-0.5 4-5.6 26-14.3 62-7.2 22.8-11.6 30.9-9.9 21.4-8.4 14.5-8.7 13.9-8.1 11.6-16.1 21.2-7.2 8.5-5.4 5.5-16.7 13.1-17.5 12-17.8 10.7-17.7 9.2-309 0 0-349.4 53.8-2.9 55.7-5.1 10.8-0.2 14.3 1.3 84.4 12.5 23.3 2.8 16.2 1.2 16.1 0.5 14.4-0.4 16.1-1.2 23.4-2.9 21.5-3.7 16.1-3.8 16.2-5.4 10.8-5.2 11.6-7.2z" fill="#3b4c9c"/>
<path d="M1155.5 1055l1.6-2 44.8 0 0 94.1-0.9 1.7-0.8 5.9-1.3 4-6 29-14.3 61.9-3.6 12.2-5.4 15.5-10.8 28.1-5.4 12-4.5 8.9-8 13.8-9 14.1-9 12.6-14.3 18.5-7.2 8.5-5.4 5.5-15.8 12.8-16.9 12-21.1 13-17.2 8.9-307.7 0 0-345.4 53.8-2.9 55.7-4.3 10.8-0.1 19.7 1.6 86.1 11.7 19.8 2 28.7 1.3 25.1-1.1 27-3.2 19.7-3.4 19.7-4.7 16.2-5.2 10.8-4.7 8.9-5 19.8-15.9 12.5-8.1z" fill="#4056a4"/>
<path d="M1157.4 1055l1.5-2 43 0 0 93.9-1 1.9-0.4 3.9-1.6 6-4.2 20.1-16.1 69.6-7.7 24-12.2 32-5.3 11.8-5.3 10.4-16.2 26.3-9 12.5-12.5 16.1-9 10.6-6 6-17 14-19.6 14-20.2 12.4-14.8 7.5-306.5 0 0-341.5 44.9-2.3 62.8-4.1 12.6-0.2 16.1 0.9 28.7 3.1 57.5 7.5 25.1 2.3 30.5 0.9 14.4-0.6 16.1-1.5 23.3-3.1 19.8-3.7 19-4.8 15.1-5.4 12.8-6.6 23.1-15.2 1.8-0.7 9-7.3z" fill="#4561ae"/>
<path d="M1160.4 1053l41.5 0 0 93.7-1.1 2.1-0.7 5.5-0.9 2.4-6.3 29.1-14.7 62.7-3.2 10.9-6 17-10.8 28-4.8 10.6-5.3 10.3-9 15.1-9 13.8-7.2 9.9-14.3 18-9 10.1-6.1 5.9-16.9 14-19.2 14-20.6 12.9-14.3 7-305.2 0 0-337.7 44.9-2.2 59.2-3.8 14.4-0.4 16.1 0.8 30.5 2.8 55.7 7 25.1 2.1 17.9 0.7 16.2 0 14.4-0.8 16.7-1.7 24.5-3.5 18-3.6 17.9-5 14.4-5.3 19.8-10.5 18-12 10.6-8.7z" fill="#4c6eb9"/>
<path d="M1160.5 1055l1.4-2 40 0 0 93.3-1.2 2.5-0.6 5.1-1.1 2.8-0.7 4.8-16.9 73-4.6 18-9.6 27.9-10.3 26-5.7 11.9-4.9 8.9-9 14.8-9 13.4-7.2 9.6-16.1 19.6-7.2 7.7-8.5 7.8-19.5 16-16.7 11.9-18.1 11.4-13.6 6.6-304.1 0 0-333.8 46.7-2.3 59.2-4 12.6-0.3 16.1 0.8 30.5 2.7 53.9 6.4 25.1 1.9 19.7 0.6 16.2-0.2 16.1-1.1 16.2-1.7 23.3-3.6 18-3.7 17.9-5 14.4-5.4 19.5-10.4 18.2-11.8 7.2-5.6 3.5-3.4z" fill="#547ec7"/>
<path d="M1162.1 1055l1.5-2 38.3 0 0 93-1.3 2.8-0.5 4.6-1.2 3.3-0.6 4.3-15.7 67.6-5.8 22.7-11.5 33.1-10.8 25.9-5 10-8.1 14-9 13.9-7.7 10.8-21.5 25.8-7.2 7.4-10.9 9.9-16.9 14-20.7 15-12.5 7.9-9 4.6-5.8 2.4-302.9 0 0-329.8 43.1-2.1 59.2-4.1 14.4-0.6 26.6 1.5 27.2 2.4 48.5 5.4 21.5 1.4 19.8 0.5 17.9-0.3 16.2-1 17.9-2.1 21.5-3.2 19.8-4.2 17.9-5.1 14.4-5.6 21.5-11.5 16.1-10.7 10.8-9.1z" fill="#5a8fd5"/>
<path d="M1164 1055l1.5-2 36.4 0 0 92.6-1.4 3.2-0.4 4.2-1.3 3.7-0.5 3.6-0.9 2.4-16.5 71.8-5.9 21.3-11.7 32.6-9.3 21.9-8.5 16-13.6 21.5-12.6 16.5-21.1 23.8-19.5 18-19.7 16-18.6 13.2-14.4 7.9-6.9 2.8-301.8 0 0-325.8 48.5-2.4 55.6-4 12.6-0.5 21.5 1 35.9 3.1 43.1 4.5 21.5 1.3 21.6 0.2 19.7-0.5 17.9-1.4 18-2.3 21.5-3.6 19.8-4.5 17.9-5.6 12.6-5.3 21.5-11.8 9-5.8 9-6.7 8.9-8.1z" fill="#609ee0"/>
<path d="M1167.5 1053l34.4 0 0 92.2-1.5 3.6-0.3 3.6-1.1 2.3-0.7 4.8-1.1 3.2-0.7 4.3-17.4 73.5-3.4 12-4.1 12-11.9 31.9-9.2 19.9-10.5 18-13.5 19.8-12.5 14.9-18 19-23.7 22.1-14.5 12-17.4 12.7-14.4 8-8 3.2-300.7 0 0-321.6 50.3-2.5 66.4-4.5 19.7 0.7 34.1 2.8 46.7 4.5 19.7 0.9 21.6 0 21.5-0.7 17.9-1.5 19.8-2.7 21.5-3.8 21.6-5.3 17.9-6 12.6-5.8 21.5-12.3 18-13.1 8.3-8.1z" fill="#67a7df"/>
<path d="M1168.1 1055l1.5-2 32.3 0 0 91.9-1.1 1.9-0.7 4.6-1.3 3.3-0.5 4.1-0.9 1.9-0.9 5.3-1 2.7-0.8 4.7-4.3 17.2-8.2 36.5-5.4 20.8-10.8 31-10.2 25.5-7.7 15.3-14.4 23.1-10.8 14.5-12.5 13.8-29.5 29-19.6 18-14.9 11.9-9.6 6.6-10.8 5.9-9.1 3.5-299.6 0 0-317.4 53.8-2.6 62.9-4.3 21.5 0.8 77.2 6.3 19.7 0.8 21.6-0.2 23.3-1 19.7-1.8 19.8-2.9 21.5-4.1 19.8-5 17.9-6.1 14.4-6.7 19.7-11.4 18-13 8.9-8.8z" fill="#70afdc"/>
<path d="M1170.3 1055l1.5-2 30.1 0 0 91.1-1.3 2.7-0.5 3.5-3 10.4-0.6 4-1.3 4-0.5 3.5-6 24.4-6.5 29.3-5.4 20.9-12.6 35.7-8.8 21.9-7.3 14.3-16.2 25.6-9 11.7-8.9 9.7-43.4 42.4-17.6 16-16.2 12.1-5.4 2.6-1.8 1.4-1.8 0.5-1.8 1.4-3.6 1-1.8 1.1-4.7 1.8-298.6 0 0-313.1 48.5-2.2 59.2-4.3 12.6-0.4 23.3 1 73.6 5.6 26.9 0.3 39.5-1.9 17.9-1.9 18-2.8 23.3-4.6 19.8-5.2 16.1-5.7 14.4-6.7 19.7-11.5 18-12.9 9.1-8.7z" fill="#7ab2d2"/>
<path d="M1172.5 1055l1.5-2 27.9 0 0 90.1-1.5 3.7-3.7 13.9-14.5 63.6-3.6 14.5-3.6 12-12.6 34.7-9 21.4-7.1 13.7-14.4 22.1-9 11.7-9 9.8-21.5 20.2-27.8 27.7-13.1 12-9.9 7.9-8.4 5.6-8.9 4.4-10.2 4-296.8 0 0-308.7 53.8-2.4 53.9-4 12.6-0.4 21.5 0.8 73.6 4.9 23.3 0.2 44.9-2.5 17.9-2 19.8-3.1 23.3-4.9 19.8-5.6 17.9-6.6 14.4-7.3 19.7-11.8 16.2-12 10.7-10.9z" fill="#84b6c8"/>
<path d="M1174.7 1055l1.2-2 26 0 0 87.8-6.6 23.9-14.9 65.1-5.4 19.2-12.6 34.7-9 21.3-8.9 16.6-10.8 16.9-10.8 14.3-10.5 11.4-25.7 23.9-30 30-9 8-10.7 7.9-6.7 4-8.5 4-10.3 4-294.2 0 0-304.1 53.8-2.4 53.9-4.1 12.6-0.4 21.5 0.6 73.6 4.4 21.5 0 48.5-3.2 17.9-2.3 19.8-3.3 23.3-5.2 19.7-5.8 16.2-6.2 17.9-9.2 18-11.1 14.4-10.6 5.3-5 6.7-7.1z" fill="#84b6b9"/>
<path d="M1176.5 1055l0.9-2 24.5 0 0 84.3-8.7 33.4-13.2 57.9-3.2 12.1-3.8 11.8-12.4 33.4-9 20.5-10.7 18.9-11.3 17-9.5 11.9-13 14-57.8 53.9-8.9 7.2-9 5.9-9.2 4.8-13.8 6-291.1 0 0-299.5 53.8-2.3 53.9-4 12.6-0.5 21.5 0.5 71.8 3.7 19.7-0.1 50.3-3.8 19.7-2.6 19.8-3.4 25.1-5.8 21.5-6.7 16.2-6.7 19.7-10.7 16.2-10.4 14.3-11.3 12.6-13.4 9-11.4z" fill="#84b6aa"/>
<path d="M1177.7 1055l0.9-2 23.3 0 0 81.3-2.4 10.5-6.6 24.3-11 49.5-7.2 25.9-10.5 29.9-10.9 26-9.6 17.9-12.8 20-12.4 15.9-14.6 16-8.3 8-37.3 33.3-12.5 10.4-12.6 8.9-12.3 7.2-15.9 8-287.7 0 0-294.6 55.6-2.5 52.1-3.9 12.6-0.5 19.7 0.3 70 3 19.7 0 18-1.2 37.7-3.6 19.7-2.8 19.8-3.7 26.9-6.6 21.5-7.2 14.4-6.3 19.7-10.9 18-11.8 7.2-5.5 5.3-4.8 7.2-7.4 7.7-9 4.9-6.4z" fill="#84b69a"/>
<path d="M1179.6 1053l22.3 0 0 79.3-4 16.5-5 17.7-11.6 52.1-5.5 19.9-10.3 30-9.5 23.9-6.8 14-14.2 23.9-11.4 16-19 21.9-10.1 10-25.4 22.3-14.4 11.9-16.1 12-19.8 12.7-14.3 8.2-1.9 0.7-285.3 0 0-289.7 55.6-2.4 52.1-3.9 12.6-0.5 21.5 0.2 68.2 2.3 17.9-0.2 18-1.4 41.3-4.4 21.5-3.3 19.8-4 25.1-6.6 23.3-8.2 14.4-6.8 23.3-13.5 17.9-12.7 10.8-10.1 7.2-8.1 7.2-9.3 1.8-3.2z" fill="#86b790"/>
<path d="M1179.9 1055l0.7-2 21.3 0 0 77.5-0.6 4.3-1.2 3-0.4 3-8.6 30.9-9.9 44.9-4.8 17.9-9.5 28-10.1 25.9-6.5 14-13.9 23.9-12.5 18-16.8 19.9-11.1 11.4-21.5 18.9-16.2 13.2-16.1 12.2-20.8 14.1-19.8 12-284.3 0 0-284.6 55.6-2.4 52.1-3.9 12.6-0.5 19.7 0 66.4 1.8 19.7-0.3 16.2-1.5 46.7-5.6 19.7-3.1 18-3.7 25.1-6.7 12.6-4.1 12.5-4.8 16.2-7.8 23.3-13.7 16.2-11.5 5.4-4.7 7.1-7.2 5.4-6.2 7.2-9.5 1.8-3.2z" fill="#8ab986"/>
<path d="M1181.6 1053l20.3 0 0 76.5-0.9 5.3-1 2-0.6 4-1.1 2.4-0.6 3.6-1.2 3.1-5.6 20.8-10.2 45.9-4.9 17.9-11.1 32-8.6 21.9-7.7 16-10.5 17.9-13.2 19.3-16.1 19.5-12.5 13.1-18 15.8-18 14.7-16.1 12.1-27.5 19.2-15.9 10-283.3 0 0-279.5 55.6-2.2 64.7-4.4 19.7-0.1 64.6 1 19.8-0.4 19.7-2.1 48.5-6.4 19.7-3.5 17.9-4 25.2-7.1 23.3-8.7 9-4.3 12.5-6.8 21.6-13.2 14.3-10.9 7.2-6.9 5.4-6.1 9-11.8 3.6-7.3z" fill="#8dba7d"/>
<path d="M1182 1055l0.7-2 19.2 0 0 75.7-1.2 6.1-1.1 2-0.5 4-1 2-0.6 4-1 2-0.8 3.9-1 2.4-4.3 15.6-8.2 37.5-5.4 21.2-14.2 41-7.3 18-7.2 14.9-12.3 21-12.9 18.3-16.1 19-14.4 14.5-14.3 12.4-14.4 11.7-16.2 12.3-32.7 23.5-15.6 10-281.9 0 0-274 55.6-2.3 64.7-4.5 82.5 0.3 19.8-0.5 16.1-1.7 53.9-7.9 17.9-3.2 18-4.1 14.3-3.9 14.4-4.5 23.3-9 10.8-5.4 14.3-8.1 18-11.3 12.5-9.5 7.2-7.1 5.4-6.1 7.2-9.6 3.6-5.7z" fill="#91bb75"/>
<path d="M1183.9 1053l18 0 0 75.4-0.5 0.4-0.5 2-0.5 4-1.1 2-0.4 4-1.2 2-0.5 4-1.1 2-0.6 3.9-1 2-4.1 14-10 44.9-5.4 19.4-10.8 30.9-9 22.9-5.3 11.5-14.4 24.7-10.8 15.6-18.4 21.6-10.3 10.6-19.7 17.3-19.9 16-37.7 27.9-14.2 10-6.7 4-280.5 0 0-268.4 57.4-2.2 62.9-4.4 82.5-0.7 19.8-0.7 16.1-2 59.2-9.5 19.8-4 14.3-3.6 25.2-7.6 23.3-9.2 10.8-5.5 17.9-10.2 18-11.6 7.1-5.5 5.4-4.9 7.2-7.8 5.7-7.3 6.9-10.4z" fill="#95bc6d"/>
<path d="M1185.4 1053l16.5 0 0 75-0.9 0.8-0.9 6-1.1 2-0.4 4-1.2 2-0.5 4-1.1 2-0.6 3.9-1.1 2-4.2 14-9.5 42.5-5.4 19.1-12.6 36.3-7.2 17.8-7.1 14.9-12.6 21.7-12.6 17.7-17.9 20.7-10.6 10.8-20.6 17.9-17.5 14-42.3 31.9-8.3 6-9.7 6-278.7 0 0-262.4 57.4-2.3 62.9-4.4 78.9-1.2 21.6-0.9 14.3-1.9 62.8-11 18-3.7 16.1-4.1 25.2-8 12.5-4.7 12.6-5.5 12.6-6.6 16.1-9.2 19.8-13.1 5.3-4.4 5.4-5.3 5.6-6.4 7-9.3 5.5-8.7z" fill="#9abd65"/>
<path d="M1187.1 1053l14.8 0 0 74.7-1.3 1.1-0.5 4.2-1.4 3.8-0.3 4-1.3 2-0.4 4-1.3 2-0.5 3.9-1.2 2-5.6 18-9.5 41.6-5.4 18-14.4 40-5.4 13.2-5.3 10.5-19.8 32.5-7.2 9.9-19.7 21.6-16.2 15.3-17.9 15.7-16.4 13.1-17.7 13.1-21.1 16.8-11.3 8-6.7 4-34.1 0-14.8-5.7-5.3-1.2-3.6-0.2-5.4 0.6-36.9 6.5-176.7 0 0-256 23.3-0.4 34.1-1.5 66.4-4.8 75.4-2.2 19.8-1 16.1-2.4 28.7-5.8 35.9-6.3 18-4 14.3-3.8 25.2-8.1 23.3-9.5 10.8-5.6 21.5-12.3 9-5.5 9-6.3 6.5-5.6 5.9-6 9.4-12 6.4-10 2.1-4z" fill="#9fc05d"/>
<path d="M1188.9 1053l13 0 0 74.4-1.7 1.4-3.5 14-0.2 2.7-1.4 3.3-0.4 3-4.3 10.9-3.4 10-6.6 29.3-3.6 13.1-12.6 36.8-10.8 26.8-9.2 19.7-8.7 13.5-9 12.8-28.7 35.5-21.7 20-16.2 13.9-26.7 20.7-26 21.2-8.6 6-6.9 4-22.4 0-24.1-15.5-5.3-2.1-5.4-0.7-16.2 2.8-34.1 8-46.8 7.5-91.3 0-28.8-2.8 0-246.2 57.4-2 59.3-4.1 78.9-3 21.6-1.5 14.3-2.2 33.6-7.5 40-7.7 14.4-3.4 14.3-4.1 23.4-7.9 23.3-9.8 12.6-6.6 19.7-11.2 19.8-13.1 5.3-4.6 5.4-5.7 6-7.7 8.4-12.4 6-11.5z" fill="#a5c355"/>
<path d="M1190.7 1053l11.2 0 0 74-1.1-0.2-0.7-1.5-0.8 1.5-4.6 22-1.8 6-4.8 9.9-3 8-9.8 39.9-8.7 19.9-3.5 10-6 20-1.9 3.9-7.1 13.6-11.7 18.4-8.8 17.9-3.1 4-21.3 21.7-25.7 24.2-10.7 12-16.1 19.9-1.4 0.6-3.3 3.4-2.4 2-1.4 0.6-3.6 3.4-1.8 0.8-19.5 17.2-12.3 9.9-8.6 6-2.7 1.2-1.8 1.3-1.8 0.5-1.1 1-13.9 0-3.3-2-5-4-14.4-14.1-7.2-6.2-5.3-3.1-5.4-1.2-5.4 0.8-9 2.1-25.1 8-5.4 1.2-9 0.7-26.9 0.6-16.1-0.2-75.4-5.2-44.9-0.9 0-217.3 23.3-0.4 35.9-1.6 61.1-4.7 77.1-4 19.8-1.6 14.3-2.5 34.1-8.6 41.3-8.5 26.9-7.5 25.2-8.8 23.3-10 30.5-17.1 10.8-6.5 9-6.2 5.3-4.8 7.2-8.2 12.6-18.2 5.9-11.1z" fill="#aec84e"/>
<path d="M1192.8 1053l9.1 0 0 73.3-1-1.5-0.3-2-0.5-0.5-1.8-0.5-1.7 7-1.9 12.3-3.6 14.6-1.8 3.6-4.4 5.4-1.7 4-6.4 24.1-5.4 16.5-3.1 7.3-3.5 6-3.7 7.9-11.2 32.1-3.4 7.8-2 2.7-9 7.2-5.1 6.1-5 8-13.2 23.5-5.4 7.9-3.9 4.5-8.7 5.5-21.5 10.8-14.4 9.6-21.6 18-28.6 27.7-10.8 9.1-7.2 4.6-5.4 2.4-3.6 0.5-5.3-0.8-3.6-1.4-5.4-3-15.2-11.2-6.3-4-5.4-2.3-5.4-0.8-30.5 3.6-14.4 1.1-37.7 0.1-41.3-1-48.4 0.3-23.4 1.1-21.5 3 0-189.7 26.9-0.4 37.7-1.6 53.9-4.2 75.3-5.1 21.6-2.1 16.1-3.1 35.9-10 43.1-9.5 26.9-8 23.4-8.7 21.5-9.7 35.9-20 9-5.6 7.1-5.4 5.4-5.3 5.4-6.6 13.1-19.3 6.4-12z" fill="#bccf46"/>
<path d="M1194.2 1055l1.4-2 6.3 0 0 72-0.2-2.2-1.9-2-1-4-0.5-0.5-1.8 0.3-4.9 28.2-2.3 7.3-2.2 4.6-4.9 4.1-1.7 1.9-0.9 2-7.4 25.9-4.4 12-4 8-5.3 6-1 2-11.2 28.3-3.6 7.5-2.8 4.1-2.6 2.5-3.6 1.5-3.6 0.1-3.6 3.3-3.6 5.1-10.7 19.5-7.2 11.4-7.2 9-7.2 6.1-5.4 3.3-7.1 2.8-7.2 1.2-10.8-0.3-3.5 0.3-9.1 3.6-13.8 8.4-27.4 19.7-9 5.9-10.8 5.6-8.9 2.7-10.8 1-26.9-0.9-28.8 2-26.9-0.7-10.7 0.4-5.4 1.2-75.4 10.1-57.5 5.8-17.9 1.3 0-168.5 30.5-0.5 39.5-1.9 114.9-8.9 30.5-3.3 16.1-3.6 35.9-11 44.9-10.4 24-7.6 24.5-9.4 21.5-9.8 37.7-21.1 12.6-8.3 5.3-5.1 5.4-6.4 14.9-21.7 4.9-8.7 10.7-23.9z" fill="#cbd540"/>
<path d="M1197.1 1055l1.3-2 3.5 0 0 43.7-0.7 14.2-1.1 7.7-0.1-1.8-1.7-2-1.8-3.9-1.8-0.4-4.2 24.3-2.9 12-2 4-1.6 2-3.6 2.2-3.6 5.5-3.6 9.2-5.7 19-3.9 9.9-4.8 8.2-8.9 9.2-2 2.6-7.8 19.9-3.1 6-2.7 4-3.8 4-9.4 6.7-14.1 13.2-6.5 10-6.3 7.9-8.2 8.1-7.9 6.2-7.2 4.2-7.2 3-21.5 6-50.3 18.2-39.5 15.6-10.7 3.6-10.8 2.6-21.6 3.6-48.4 6.2-57.4 6.3-28.8 2.1-41.2 1.9-16.2 0.1 0-147.7 32.3-0.6 41.3-2.2 111.3-9.9 30.5-3.7 16.1-3.8 35.9-11.8 46.7-11.5 23.3-7.8 23.4-9.2 21.5-9.9 41.3-23 9-6.4 5.3-5.5 5.4-6.6 16.2-23.6 5.4-10.3 8.9-19.8z" fill="#dadd3d"/>
<path d="M1197.9 1059l2.2-1.4 0.5 5.4-0.6 29.9-0.8 12-0.9 5.4-2.1-1.4-1.5-1.9-1.8 0.9-1.5 4.9-3.2 18-3.2 12-2.8 5.6-4.8 4.3-2.4 3.9-13.6 36-3.8 8-2.5 4-9.3 12-17.9 29.9-6.9 8-12 12-11.2 9.5-37.7 26-15 8.3-19.1 8.4-44.9 16.3-30.5 12.2-16.1 4.8-28.7 4.5-75.4 8.3-46.7 4.5-66.4 4.4 0-136.8 43.1-0.8 39.5-2.1 64.2-5.4 41.7-4.7 21.5-2.9 9-1.5 8.9-2.3 37.7-12.9 44.9-11.5 25.1-8.4 23.4-9.4 21.5-10 40.2-22.2 10.1-6.8 5.3-5.2 5.4-6.6 16.2-22.8 5.9-10.5 12-25.1z" fill="#e8e23a"/>
<path d="M1196.3 1067l0.9 0 1.1 1.5 0.1 2.5-0.5 19.9-1.4 12.8-1.2 1.2-2.4 0.7-0.6 1.3-3 8.8-4.2 17.1-3.3 10-1.9 4-4.9 7.7-0.7 2.2-1.2 2-0.5 2-1.3 2-0.4 2-1.3 1.8-0.7 2.2-1.1 1.8-0.5 2.2-1.2 2-3.9 10-7.7 15.9-5 8-8.6 12.2-12.1 19.7-4.1 5.8-3.6 4-16.1 16-7.2 6.1-28.7 19.7-21.6 12.5-21.5 9.9-16.1 6.2-28.4 9.6-30.9 12.4-16.1 4.8-32.3 5.1-77.2 8.9-43.1 4-64.6 4 0-126.1 37.7-0.9 41.3-2.3 70-6.4 39.5-4.2 21.5-2.9 9-1.5 8.9-2.4 37.7-13.2 43.1-11.5 19.8-6.5 25.1-10 25.1-11.7 10.8-5.7 17.9-10.6 12.6-6.6 9-6.1 5.3-5 5.4-6.2 18-24.7 5.8-10.1 10.3-21 1.8-3.2z" fill="#e4d636"/>
<path d="M1192.9 1076.9l1.8-0.9 1.1 2.9 0.2 2-0.4 12-1.3 8-1.4 2.2-2.3 5.8-5.7 19.9-0.9 1.7-0.4 2.3-3.5 10-9.3 19.9-0.5 2-2.5 4.1-7.6 17.9-9.4 17.9-22.5 33.8-7.2 9-14.3 14-9 7.7-17.9 12.5-16.2 10.4-19.7 10.9-21.6 9.6-16.1 6-27 9.2-28.7 11.3-16.1 4.8-32.3 5-88 10.1-37.7 3.5-59.2 3.8 0-117.6 43.1-0.9 39.5-2.3 53.5-4.9 50.6-5.6 21.5-2.9 10.8-1.9 8.9-2.3 37.7-13.3 41.3-11.2 16.2-5.2 26.9-10.7 28.7-13.4 41.3-23.8 7.2-4.9 5.4-4.7 7-7.8 16.4-21.9 6.5-10 9.5-18.3z" fill="#e0c932"/>
<path d="M1189.6 1088.9l1.5-1.8 1.8 0.4 0.4 5.4-0.3 4-3.7 14.5-6.5 21.4-5.2 14-8 17.9-2.3 4-0.5 2-3 6-0.5 2-1.3 2-0.5 2-1.3 2-0.5 2-7.4 13.9-3.7 6-20.3 29.7-5.4 6.5-10.7 10.8-9 8.2-7.2 5.7-17.9 12.3-18 11.2-17.9 9.6-23.4 10-39.1 13.7-27.3 10.6-10.7 3.5-7.2 1.8-32.3 5.1-84.4 10.2-37.7 3.7-62.8 4.3 0-110.2 37.7-0.7 39.5-2.1 61-5.6 46.7-5 23.3-3.1 10.8-1.8 8.9-2.3 37.7-13.2 37.7-10.5 14.4-4.4 28.7-11.3 30.5-14.3 12.6-7.1 16.1-10.3 12.6-7.3 7.2-4.9 9.6-8.6 11.7-14 13.5-17.9z" fill="#ddba2f"/>
<path d="M1186.9 1100.9l0.6-0.7 1.8 0.7 0 6.4-5.2 19.5-7.2 20-7.3 16.8-2.7 5.1-0.5 2-1.3 2-0.5 2-1.3 2-0.5 2-8.9 17.9-4 6.9-10.8 16-9 12.5-7.2 8.6-10.7 10.6-9 8.1-9 6.9-14.3 9.7-25.2 15.4-19.7 9.8-19.8 8.2-37.6 13-25.2 9.5-17.9 5.1-35.9 5.7-84.4 10.4-35.9 3.6-61 4.3 0-103.1 39.5-0.9 41.3-2.3 59.2-5.4 44.9-4.8 23.3-3.1 10.8-1.8 10.7-2.8 37.7-13 45.6-13.1 13.7-5 16.1-6.6 16.2-7.2 16.1-8 12.6-7.1 32.3-20.7 10.8-8.5 7.1-7.2 19.9-23.5 8.9-12.7z" fill="#d9ab2d"/>
<path d="M1182 1114.8l2-1 1.1 3-1.1 7.7-5.4 16.3-9 21.3-7.2 16.2-9 18-5.3 8.8-14.4 20.5-7.2 9.1-5.4 5.8-8.9 8.7-12.6 10.8-25.1 17.1-25.2 14.7-21.5 10-19.7 7.8-53.9 18.7-19.7 5.5-35.9 5.7-84.9 10.7-37.2 3.8-59.2 4.3 0-96 37.7-0.8 41.3-2.3 57.4-5.3 48.5-5.2 21.5-2.8 12.6-2.1 10.7-2.8 35.9-12.1 42.2-12.3 17.1-6.1 23.3-9.8 25.1-12.2 14.4-8.2 28.7-18.8 12.6-9.7 11.6-11z" fill="#d59b2a"/>
<path d="M1177.3 1128.8l1.3-0.5 1.2 2.5 0.1 2-1.3 5.6-5.4 13.5-12.6 28.1-10.7 20.8-10.8 16-9 11.9-7.2 8.3-7.1 7.1-16.2 14.1-28.7 19.3-14.4 8.5-10.7 5.7-23.4 10.4-23.3 8.9-43.1 14.1-21.5 5.5-19.8 3.5-25.1 3.6-77.2 9.8-35.9 3.7-59.2 4.2 0-88.1 25.1-0.4 34.1-1.6 61.1-5.3 78.9-8.9 18-2.8 14.3-3.6 32.3-10.8 34.1-10.1 18-6 23.3-9.3 25.3-11.9 19.6-10.7 32.3-21.2 16.2-12.5 21.5-19.5z" fill="#d08b28"/>
<path d="M1166.1 1144.8l3.5-1.6 1.8-0.1 1.2 1.7 0.4 2-1.6 6-5.4 12.5-9 19.3-7.1 13.7-9 14.4-5.4 7.9-7.7 9.9-6.7 7.4-10.7 10.1-14.4 11.7-17.9 11.9-16.2 9.9-10.8 6-12.5 6.2-23.4 10-21.5 7.9-39.5 11.6-25.1 5.5-46.7 7.2-75.4 9.3-32.3 3.2-57.4 4 0-79.7 25.1-0.4 28.7-1.4 50.4-4.4 36.2-4 53.4-6.7 21.6-3.3 14.3-3.4 80.8-26 21.9-8.5 23-10.3 22.3-11.7 22.5-13.7 34.1-23.5z" fill="#cb7a28"/>
<path d="M1156.9 1158.7l5.5-1.6 1.9 1.6 0.4 2-0.5 3.8-3.6 8.7-9 18.3-12.5 21.8-8.9 13.3-7.3 8.6-12.5 12.1-7.2 6.1-19.8 13.8-16.1 10.2-14.4 8.2-10.7 5.5-18 8-19.7 7.9-25.2 8-26.9 6.7-28.7 5.3-50.2 7.6-66.5 8-28.7 2.8-61 4.2 0-71.4 19.7-0.1 19.8-0.8 19.7-1.4 23.4-2.4 39.4-4.6 62.9-8.3 26.3-4.1 16.7-3.7 69.5-22.3 20.3-7.3 19.7-8.2 21.6-10.3 19.1-10.1 16.8-9.9 21.5-13.7 12.6-6.3z" fill="#c66928"/>
<path d="M1145.3 1172.7l6.3-1.5 1.8 0.1 1.5 1.4 0.6 2-0.6 4-3.3 7.6-14.9 28.3-7.5 12-6.3 7.9-12.5 12-7.2 6.2-5.4 4.1-17.9 11.9-16.2 10-14.4 7.9-12.5 6.1-18 7.9-14.7 5.8-12.2 4.1-22.3 5.8-20.3 4-56.1 9.2-51.8 6.8-37.2 4-22 2-64.9 4.3 0-62.6 19.7 0 18-0.7 34.1-3.2 52-7 53.9-7.9 32.3-5.4 17.9-4 62.9-20.2 16.1-5.8 19.8-7.9 19.7-8.9 18-9 19.7-10.8 25.1-14.7 7.2-2.7z" fill="#c25c27"/>
<path d="M1123.8 1184.7l8.1-1.9 5.4 0.5 2.6 1.4 1.8 2 0.9 2 0.2 1.9-0.7 4-3 9.6-5.3 12.4-5.5 9.7-6.6 8.2-5.9 6.1-16.1 13.9-30.6 19.9-13.8 8-11.5 6-12.8 6-18.8 8-22.9 7.9-16.6 4-34.6 4.9-56.8 9.1-47.3 5.7-39.5 3.8-62.8 4.4-14.4 0.4 0-51.6 39.5-1.3 30.5-3.2 46.7-7 57.4-9.3 34.1-6.2 17.9-4 14.4-4.1 37.7-12.4 16.2-5.7 19.7-7.7 21.5-9.3 16.2-7.7 41.8-22.5z" fill="#be5426"/>
<path d="M1118.8 1194.6l2.3 0.4 1.8 1.3 1.7 2.3 1.4 4 0.3 4-0.5 6-1.1 6-2.2 8-3.1 7.9-1.9 1-7.1 6-16.8 15-31.4 19.9-10.5 6-12 6-20.9 9.2-16.1 6.2-12.6 4.1-10.3 2.4-13 1.8-25.1 1.7-10.8 1.2-52.1 9.4-96.9 9.8-44.9 2.3-19.7 0.3 0-36.9 41.3-2.8 16.1-1.5 16.2-2.1 59.2-9.3 29.4-5.8 37-6.1 26.4-5.8 16.7-4.9 28.7-9.4 26.9-9.9 55.7-25.2 23-12.5z" fill="#bb4b24"/>
<path d="M1089.5 1220.6l6.5-0.9 3.6 1.1 1.3 1.8 0.6 2-0.3 4-1.2 3.9-3.6 6-5.1 6-17.6 16-5 4-8.9 5.9-15.8 9-28.8 12.7-19.7 6.9-9 2.3-8.9 1.5-10.8 1-30.5 1.5-10.8 1.4-34.1 5.9-16.2 2.3-89.7 9.1-14.4 0.4-14.3-1-6.6-1.1-2.4-0.9-2.5-1.1-1-2 1.6-2 3.5-2 5.4-2 16.7-3.9 100.8-16 43.5-8 18.7-4.1 14.3-3.8 34.1-10.9 24.8-9.1 23.7-10 39.5-19.2z" fill="#b74023"/>
<path d="M1045 1252.5l4.3-0.7 3.6 0.3 0.8 0.4 0.3 2-2.1 4-6.3 6-9.1 5.9-14.6 8-13.8 6.2-12.6 4.6-11.7 3.2-13.4 2.8-45.2 7.2-16.3 2-8.5 0.5-9 0.2-6-0.7 1.7-2 4.1-2 11.4-4 20.3-6 15.2-3.5 21.5-6 32.3-10.3 34.1-12.1z" fill="#b33421"/>
<path d="M1112.5 1446 1117.5 1439.1 1122.3 1432.2 1126.9 1425.2 1131.1 1418.3 1135.1 1411.4 1139.1 1404.5 1143 1397.5 1146.8 1390.6 1150.5 1383.7 1154.1 1376.8 1157.5 1369.8 1160.7 1362.9 1163.7 1356 1166.5 1349.1 1169 1342.2 1171.2 1335.2 1173.3 1328.3 1175.2 1321.4 1177 1314.5 1178.8 1307.5 1180.4 1300.6 1181.9 1293.7 1183.4 1286.8 1184.8 1279.8 1186.1 1272.9 1187.4 1266 1188.6 1259.1 1189.8 1252.2 1190.8 1245.2 1191.7 1238.3 1192.6 1231.4 1193.4 1224.5 1194.2 1217.5 1195 1210.6 1196 1203.7 1197 1196.8 1198.2 1189.8 1199.7 1182.9 1201.9 1176 1201.9 1446z" fill="#fff"/>
</g>
<rect x="168.3" y="118.8" width="484.6" height="393" fill="none" stroke="#111" stroke-width="1.5"/>
<path d="M168.3 511.8v5.6M168.3 118.8v-5.6M179.1 511.8v2.8M179.1 118.8v-2.8M189.8 511.8v2.8M189.8 118.8v-2.8M200.6 511.8v2.8M200.6 118.8v-2.8M211.4 511.8v2.8M211.4 118.8v-2.8M222.1 511.8v2.8M222.1 118.8v-2.8M232.9 511.8v2.8M232.9 118.8v-2.8M243.7 511.8v2.8M243.7 118.8v-2.8M254.5 511.8v2.8M254.5 118.8v-2.8M265.2 511.8v2.8M265.2 118.8v-2.8M276 511.8v5.6M276 118.8v-5.6M286.8 511.8v2.8M286.8 118.8v-2.8M297.5 511.8v2.8M297.5 118.8v-2.8M308.3 511.8v2.8M308.3 118.8v-2.8M319.1 511.8v2.8M319.1 118.8v-2.8M329.8 511.8v2.8M329.8 118.8v-2.8M340.6 511.8v2.8M340.6 118.8v-2.8M351.4 511.8v2.8M351.4 118.8v-2.8M362.1 511.8v2.8M362.1 118.8v-2.8M372.9 511.8v2.8M372.9 118.8v-2.8M383.7 511.8v5.6M383.7 118.8v-5.6M394.4 511.8v2.8M394.4 118.8v-2.8M405.2 511.8v2.8M405.2 118.8v-2.8M416 511.8v2.8M416 118.8v-2.8M426.8 511.8v2.8M426.8 118.8v-2.8M437.5 511.8v2.8M437.5 118.8v-2.8M448.3 511.8v2.8M448.3 118.8v-2.8M459.1 511.8v2.8M459.1 118.8v-2.8M469.8 511.8v2.8M469.8 118.8v-2.8M480.6 511.8v2.8M480.6 118.8v-2.8M491.4 511.8v5.6M491.4 118.8v-5.6M502.1 511.8v2.8M502.1 118.8v-2.8M512.9 511.8v2.8M512.9 118.8v-2.8M523.7 511.8v2.8M523.7 118.8v-2.8M534.4 511.8v2.8M534.4 118.8v-2.8M545.2 511.8v2.8M545.2 118.8v-2.8M556 511.8v2.8M556 118.8v-2.8M566.8 511.8v2.8M566.8 118.8v-2.8M577.5 511.8v2.8M577.5 118.8v-2.8M588.3 511.8v2.8M588.3 118.8v-2.8M599.1 511.8v5.6M599.1 118.8v-5.6M609.8 511.8v2.8M609.8 118.8v-2.8M620.6 511.8v2.8M620.6 118.8v-2.8M631.4 511.8v2.8M631.4 118.8v-2.8M642.1 511.8v2.8M642.1 118.8v-2.8M652.9 511.8v2.8M652.9 118.8v-2.8M168.3 511.8h-5.6M652.9 511.8h5.6M168.3 472.4h-2.6M652.9 472.4h2.6M168.3 449.3h-2.6M652.9 449.3h2.6M168.3 432.9h-2.6M652.9 432.9h2.6M168.3 420.2h-2.6M652.9 420.2h2.6M168.3 409.9h-2.6M652.9 409.9h2.6M168.3 401.1h-2.6M652.9 401.1h2.6M168.3 393.5h-2.6M652.9 393.5h2.6M168.3 386.8h-2.6M652.9 386.8h2.6M168.3 380.8h-5.6M652.9 380.8h5.6M168.3 341.4h-2.6M652.9 341.4h2.6M168.3 318.3h-2.6M652.9 318.3h2.6M168.3 301.9h-2.6M652.9 301.9h2.6M168.3 289.2h-2.6M652.9 289.2h2.6M168.3 278.9h-2.6M652.9 278.9h2.6M168.3 270.1h-2.6M652.9 270.1h2.6M168.3 262.5h-2.6M652.9 262.5h2.6M168.3 255.8h-2.6M652.9 255.8h2.6M168.3 249.8h-5.6M652.9 249.8h5.6M168.3 210.4h-2.6M652.9 210.4h2.6M168.3 187.3h-2.6M652.9 187.3h2.6M168.3 170.9h-2.6M652.9 170.9h2.6M168.3 158.2h-2.6M652.9 158.2h2.6M168.3 147.9h-2.6M652.9 147.9h2.6M168.3 139.1h-2.6M652.9 139.1h2.6M168.3 131.5h-2.6M652.9 131.5h2.6M168.3 124.8h-2.6M652.9 124.8h2.6M168.3 118.8h-5.6M652.9 118.8h5.6" stroke="#111" stroke-width="1.3" fill="none"/>
<text transform="translate(168.3 558.1) scale(0.82 1)" text-anchor="middle" style="font-size:33.3px">0</text>
<text transform="translate(276 558.1) scale(0.82 1)" text-anchor="middle" style="font-size:33.3px">20</text>
<text transform="translate(383.7 558.1) scale(0.82 1)" text-anchor="middle" style="font-size:33.3px">40</text>
<text transform="translate(491.4 558.1) scale(0.82 1)" text-anchor="middle" style="font-size:33.3px">60</text>
<text transform="translate(599.1 558.1) scale(0.82 1)" text-anchor="middle" style="font-size:33.3px">80</text>
<text transform="translate(116.4 524.8) scale(0.8 1)" style="font-size:33.3px">10</text>
<text transform="translate(145.8 504) scale(0.8 1)" style="font-size:21.5px">1</text>
<text transform="translate(116.4 393.8) scale(0.8 1)" style="font-size:33.3px">10</text>
<text transform="translate(145.8 373) scale(0.8 1)" style="font-size:21.5px">2</text>
<text transform="translate(116.4 262.8) scale(0.8 1)" style="font-size:33.3px">10</text>
<text transform="translate(145.8 242) scale(0.8 1)" style="font-size:21.5px">3</text>
<text transform="translate(116.4 131.8) scale(0.8 1)" style="font-size:33.3px">10</text>
<text transform="translate(145.8 111) scale(0.8 1)" style="font-size:21.5px">4</text>
<rect x="717.3" y="118.8" width="484.6" height="393" fill="none" stroke="#111" stroke-width="1.5"/>
<path d="M717.3 511.8v5.6M717.3 118.8v-5.6M728.1 511.8v2.8M728.1 118.8v-2.8M738.8 511.8v2.8M738.8 118.8v-2.8M749.6 511.8v2.8M749.6 118.8v-2.8M760.4 511.8v2.8M760.4 118.8v-2.8M771.1 511.8v2.8M771.1 118.8v-2.8M781.9 511.8v2.8M781.9 118.8v-2.8M792.7 511.8v2.8M792.7 118.8v-2.8M803.5 511.8v2.8M803.5 118.8v-2.8M814.2 511.8v2.8M814.2 118.8v-2.8M825 511.8v5.6M825 118.8v-5.6M835.8 511.8v2.8M835.8 118.8v-2.8M846.5 511.8v2.8M846.5 118.8v-2.8M857.3 511.8v2.8M857.3 118.8v-2.8M868.1 511.8v2.8M868.1 118.8v-2.8M878.8 511.8v2.8M878.8 118.8v-2.8M889.6 511.8v2.8M889.6 118.8v-2.8M900.4 511.8v2.8M900.4 118.8v-2.8M911.1 511.8v2.8M911.1 118.8v-2.8M921.9 511.8v2.8M921.9 118.8v-2.8M932.7 511.8v5.6M932.7 118.8v-5.6M943.4 511.8v2.8M943.4 118.8v-2.8M954.2 511.8v2.8M954.2 118.8v-2.8M965 511.8v2.8M965 118.8v-2.8M975.8 511.8v2.8M975.8 118.8v-2.8M986.5 511.8v2.8M986.5 118.8v-2.8M997.3 511.8v2.8M997.3 118.8v-2.8M1008.1 511.8v2.8M1008.1 118.8v-2.8M1018.8 511.8v2.8M1018.8 118.8v-2.8M1029.6 511.8v2.8M1029.6 118.8v-2.8M1040.4 511.8v5.6M1040.4 118.8v-5.6M1051.1 511.8v2.8M1051.1 118.8v-2.8M1061.9 511.8v2.8M1061.9 118.8v-2.8M1072.7 511.8v2.8M1072.7 118.8v-2.8M1083.4 511.8v2.8M1083.4 118.8v-2.8M1094.2 511.8v2.8M1094.2 118.8v-2.8M1105 511.8v2.8M1105 118.8v-2.8M1115.8 511.8v2.8M1115.8 118.8v-2.8M1126.5 511.8v2.8M1126.5 118.8v-2.8M1137.3 511.8v2.8M1137.3 118.8v-2.8M1148.1 511.8v5.6M1148.1 118.8v-5.6M1158.8 511.8v2.8M1158.8 118.8v-2.8M1169.6 511.8v2.8M1169.6 118.8v-2.8M1180.4 511.8v2.8M1180.4 118.8v-2.8M1191.1 511.8v2.8M1191.1 118.8v-2.8M1201.9 511.8v2.8M1201.9 118.8v-2.8M717.3 511.8h-5.6M1201.9 511.8h5.6M717.3 472.4h-2.6M1201.9 472.4h2.6M717.3 449.3h-2.6M1201.9 449.3h2.6M717.3 432.9h-2.6M1201.9 432.9h2.6M717.3 420.2h-2.6M1201.9 420.2h2.6M717.3 409.9h-2.6M1201.9 409.9h2.6M717.3 401.1h-2.6M1201.9 401.1h2.6M717.3 393.5h-2.6M1201.9 393.5h2.6M717.3 386.8h-2.6M1201.9 386.8h2.6M717.3 380.8h-5.6M1201.9 380.8h5.6M717.3 341.4h-2.6M1201.9 341.4h2.6M717.3 318.3h-2.6M1201.9 318.3h2.6M717.3 301.9h-2.6M1201.9 301.9h2.6M717.3 289.2h-2.6M1201.9 289.2h2.6M717.3 278.9h-2.6M1201.9 278.9h2.6M717.3 270.1h-2.6M1201.9 270.1h2.6M717.3 262.5h-2.6M1201.9 262.5h2.6M717.3 255.8h-2.6M1201.9 255.8h2.6M717.3 249.8h-5.6M1201.9 249.8h5.6M717.3 210.4h-2.6M1201.9 210.4h2.6M717.3 187.3h-2.6M1201.9 187.3h2.6M717.3 170.9h-2.6M1201.9 170.9h2.6M717.3 158.2h-2.6M1201.9 158.2h2.6M717.3 147.9h-2.6M1201.9 147.9h2.6M717.3 139.1h-2.6M1201.9 139.1h2.6M717.3 131.5h-2.6M1201.9 131.5h2.6M717.3 124.8h-2.6M1201.9 124.8h2.6M717.3 118.8h-5.6M1201.9 118.8h5.6" stroke="#111" stroke-width="1.3" fill="none"/>
<text transform="translate(717.3 558.1) scale(0.82 1)" text-anchor="middle" style="font-size:33.3px">0</text>
<text transform="translate(825 558.1) scale(0.82 1)" text-anchor="middle" style="font-size:33.3px">20</text>
<text transform="translate(932.7 558.1) scale(0.82 1)" text-anchor="middle" style="font-size:33.3px">40</text>
<text transform="translate(1040.4 558.1) scale(0.82 1)" text-anchor="middle" style="font-size:33.3px">60</text>
<text transform="translate(1148.1 558.1) scale(0.82 1)" text-anchor="middle" style="font-size:33.3px">80</text>
<text transform="translate(665.4 524.8) scale(0.8 1)" style="font-size:33.3px">10</text>
<text transform="translate(694.8 504) scale(0.8 1)" style="font-size:21.5px">1</text>
<text transform="translate(665.4 393.8) scale(0.8 1)" style="font-size:33.3px">10</text>
<text transform="translate(694.8 373) scale(0.8 1)" style="font-size:21.5px">2</text>
<text transform="translate(665.4 262.8) scale(0.8 1)" style="font-size:33.3px">10</text>
<text transform="translate(694.8 242) scale(0.8 1)" style="font-size:21.5px">3</text>
<text transform="translate(665.4 131.8) scale(0.8 1)" style="font-size:33.3px">10</text>
<text transform="translate(694.8 111) scale(0.8 1)" style="font-size:21.5px">4</text>
<rect x="168.3" y="586.5" width="484.6" height="393" fill="none" stroke="#111" stroke-width="1.5"/>
<path d="M168.3 979.5v5.6M168.3 586.5v-5.6M179.1 979.5v2.8M179.1 586.5v-2.8M189.8 979.5v2.8M189.8 586.5v-2.8M200.6 979.5v2.8M200.6 586.5v-2.8M211.4 979.5v2.8M211.4 586.5v-2.8M222.1 979.5v2.8M222.1 586.5v-2.8M232.9 979.5v2.8M232.9 586.5v-2.8M243.7 979.5v2.8M243.7 586.5v-2.8M254.5 979.5v2.8M254.5 586.5v-2.8M265.2 979.5v2.8M265.2 586.5v-2.8M276 979.5v5.6M276 586.5v-5.6M286.8 979.5v2.8M286.8 586.5v-2.8M297.5 979.5v2.8M297.5 586.5v-2.8M308.3 979.5v2.8M308.3 586.5v-2.8M319.1 979.5v2.8M319.1 586.5v-2.8M329.8 979.5v2.8M329.8 586.5v-2.8M340.6 979.5v2.8M340.6 586.5v-2.8M351.4 979.5v2.8M351.4 586.5v-2.8M362.1 979.5v2.8M362.1 586.5v-2.8M372.9 979.5v2.8M372.9 586.5v-2.8M383.7 979.5v5.6M383.7 586.5v-5.6M394.4 979.5v2.8M394.4 586.5v-2.8M405.2 979.5v2.8M405.2 586.5v-2.8M416 979.5v2.8M416 586.5v-2.8M426.8 979.5v2.8M426.8 586.5v-2.8M437.5 979.5v2.8M437.5 586.5v-2.8M448.3 979.5v2.8M448.3 586.5v-2.8M459.1 979.5v2.8M459.1 586.5v-2.8M469.8 979.5v2.8M469.8 586.5v-2.8M480.6 979.5v2.8M480.6 586.5v-2.8M491.4 979.5v5.6M491.4 586.5v-5.6M502.1 979.5v2.8M502.1 586.5v-2.8M512.9 979.5v2.8M512.9 586.5v-2.8M523.7 979.5v2.8M523.7 586.5v-2.8M534.4 979.5v2.8M534.4 586.5v-2.8M545.2 979.5v2.8M545.2 586.5v-2.8M556 979.5v2.8M556 586.5v-2.8M566.8 979.5v2.8M566.8 586.5v-2.8M577.5 979.5v2.8M577.5 586.5v-2.8M588.3 979.5v2.8M588.3 586.5v-2.8M599.1 979.5v5.6M599.1 586.5v-5.6M609.8 979.5v2.8M609.8 586.5v-2.8M620.6 979.5v2.8M620.6 586.5v-2.8M631.4 979.5v2.8M631.4 586.5v-2.8M642.1 979.5v2.8M642.1 586.5v-2.8M652.9 979.5v2.8M652.9 586.5v-2.8M168.3 979.5h-5.6M652.9 979.5h5.6M168.3 940.1h-2.6M652.9 940.1h2.6M168.3 917h-2.6M652.9 917h2.6M168.3 900.6h-2.6M652.9 900.6h2.6M168.3 887.9h-2.6M652.9 887.9h2.6M168.3 877.6h-2.6M652.9 877.6h2.6M168.3 868.8h-2.6M652.9 868.8h2.6M168.3 861.2h-2.6M652.9 861.2h2.6M168.3 854.5h-2.6M652.9 854.5h2.6M168.3 848.5h-5.6M652.9 848.5h5.6M168.3 809.1h-2.6M652.9 809.1h2.6M168.3 786h-2.6M652.9 786h2.6M168.3 769.6h-2.6M652.9 769.6h2.6M168.3 756.9h-2.6M652.9 756.9h2.6M168.3 746.6h-2.6M652.9 746.6h2.6M168.3 737.8h-2.6M652.9 737.8h2.6M168.3 730.2h-2.6M652.9 730.2h2.6M168.3 723.5h-2.6M652.9 723.5h2.6M168.3 717.5h-5.6M652.9 717.5h5.6M168.3 678.1h-2.6M652.9 678.1h2.6M168.3 655h-2.6M652.9 655h2.6M168.3 638.6h-2.6M652.9 638.6h2.6M168.3 625.9h-2.6M652.9 625.9h2.6M168.3 615.6h-2.6M652.9 615.6h2.6M168.3 606.8h-2.6M652.9 606.8h2.6M168.3 599.2h-2.6M652.9 599.2h2.6M168.3 592.5h-2.6M652.9 592.5h2.6M168.3 586.5h-5.6M652.9 586.5h5.6" stroke="#111" stroke-width="1.3" fill="none"/>
<text transform="translate(168.3 1025.8) scale(0.82 1)" text-anchor="middle" style="font-size:33.3px">0</text>
<text transform="translate(276 1025.8) scale(0.82 1)" text-anchor="middle" style="font-size:33.3px">20</text>
<text transform="translate(383.7 1025.8) scale(0.82 1)" text-anchor="middle" style="font-size:33.3px">40</text>
<text transform="translate(491.4 1025.8) scale(0.82 1)" text-anchor="middle" style="font-size:33.3px">60</text>
<text transform="translate(599.1 1025.8) scale(0.82 1)" text-anchor="middle" style="font-size:33.3px">80</text>
<text transform="translate(116.4 992.5) scale(0.8 1)" style="font-size:33.3px">10</text>
<text transform="translate(145.8 971.7) scale(0.8 1)" style="font-size:21.5px">1</text>
<text transform="translate(116.4 861.5) scale(0.8 1)" style="font-size:33.3px">10</text>
<text transform="translate(145.8 840.7) scale(0.8 1)" style="font-size:21.5px">2</text>
<text transform="translate(116.4 730.5) scale(0.8 1)" style="font-size:33.3px">10</text>
<text transform="translate(145.8 709.7) scale(0.8 1)" style="font-size:21.5px">3</text>
<text transform="translate(116.4 599.5) scale(0.8 1)" style="font-size:33.3px">10</text>
<text transform="translate(145.8 578.7) scale(0.8 1)" style="font-size:21.5px">4</text>
<rect x="717.3" y="586.5" width="484.6" height="393" fill="none" stroke="#111" stroke-width="1.5"/>
<path d="M717.3 979.5v5.6M717.3 586.5v-5.6M728.1 979.5v2.8M728.1 586.5v-2.8M738.8 979.5v2.8M738.8 586.5v-2.8M749.6 979.5v2.8M749.6 586.5v-2.8M760.4 979.5v2.8M760.4 586.5v-2.8M771.1 979.5v2.8M771.1 586.5v-2.8M781.9 979.5v2.8M781.9 586.5v-2.8M792.7 979.5v2.8M792.7 586.5v-2.8M803.5 979.5v2.8M803.5 586.5v-2.8M814.2 979.5v2.8M814.2 586.5v-2.8M825 979.5v5.6M825 586.5v-5.6M835.8 979.5v2.8M835.8 586.5v-2.8M846.5 979.5v2.8M846.5 586.5v-2.8M857.3 979.5v2.8M857.3 586.5v-2.8M868.1 979.5v2.8M868.1 586.5v-2.8M878.8 979.5v2.8M878.8 586.5v-2.8M889.6 979.5v2.8M889.6 586.5v-2.8M900.4 979.5v2.8M900.4 586.5v-2.8M911.1 979.5v2.8M911.1 586.5v-2.8M921.9 979.5v2.8M921.9 586.5v-2.8M932.7 979.5v5.6M932.7 586.5v-5.6M943.4 979.5v2.8M943.4 586.5v-2.8M954.2 979.5v2.8M954.2 586.5v-2.8M965 979.5v2.8M965 586.5v-2.8M975.8 979.5v2.8M975.8 586.5v-2.8M986.5 979.5v2.8M986.5 586.5v-2.8M997.3 979.5v2.8M997.3 586.5v-2.8M1008.1 979.5v2.8M1008.1 586.5v-2.8M1018.8 979.5v2.8M1018.8 586.5v-2.8M1029.6 979.5v2.8M1029.6 586.5v-2.8M1040.4 979.5v5.6M1040.4 586.5v-5.6M1051.1 979.5v2.8M1051.1 586.5v-2.8M1061.9 979.5v2.8M1061.9 586.5v-2.8M1072.7 979.5v2.8M1072.7 586.5v-2.8M1083.4 979.5v2.8M1083.4 586.5v-2.8M1094.2 979.5v2.8M1094.2 586.5v-2.8M1105 979.5v2.8M1105 586.5v-2.8M1115.8 979.5v2.8M1115.8 586.5v-2.8M1126.5 979.5v2.8M1126.5 586.5v-2.8M1137.3 979.5v2.8M1137.3 586.5v-2.8M1148.1 979.5v5.6M1148.1 586.5v-5.6M1158.8 979.5v2.8M1158.8 586.5v-2.8M1169.6 979.5v2.8M1169.6 586.5v-2.8M1180.4 979.5v2.8M1180.4 586.5v-2.8M1191.1 979.5v2.8M1191.1 586.5v-2.8M1201.9 979.5v2.8M1201.9 586.5v-2.8M717.3 979.5h-5.6M1201.9 979.5h5.6M717.3 940.1h-2.6M1201.9 940.1h2.6M717.3 917h-2.6M1201.9 917h2.6M717.3 900.6h-2.6M1201.9 900.6h2.6M717.3 887.9h-2.6M1201.9 887.9h2.6M717.3 877.6h-2.6M1201.9 877.6h2.6M717.3 868.8h-2.6M1201.9 868.8h2.6M717.3 861.2h-2.6M1201.9 861.2h2.6M717.3 854.5h-2.6M1201.9 854.5h2.6M717.3 848.5h-5.6M1201.9 848.5h5.6M717.3 809.1h-2.6M1201.9 809.1h2.6M717.3 786h-2.6M1201.9 786h2.6M717.3 769.6h-2.6M1201.9 769.6h2.6M717.3 756.9h-2.6M1201.9 756.9h2.6M717.3 746.6h-2.6M1201.9 746.6h2.6M717.3 737.8h-2.6M1201.9 737.8h2.6M717.3 730.2h-2.6M1201.9 730.2h2.6M717.3 723.5h-2.6M1201.9 723.5h2.6M717.3 717.5h-5.6M1201.9 717.5h5.6M717.3 678.1h-2.6M1201.9 678.1h2.6M717.3 655h-2.6M1201.9 655h2.6M717.3 638.6h-2.6M1201.9 638.6h2.6M717.3 625.9h-2.6M1201.9 625.9h2.6M717.3 615.6h-2.6M1201.9 615.6h2.6M717.3 606.8h-2.6M1201.9 606.8h2.6M717.3 599.2h-2.6M1201.9 599.2h2.6M717.3 592.5h-2.6M1201.9 592.5h2.6M717.3 586.5h-5.6M1201.9 586.5h5.6" stroke="#111" stroke-width="1.3" fill="none"/>
<text transform="translate(717.3 1025.8) scale(0.82 1)" text-anchor="middle" style="font-size:33.3px">0</text>
<text transform="translate(825 1025.8) scale(0.82 1)" text-anchor="middle" style="font-size:33.3px">20</text>
<text transform="translate(932.7 1025.8) scale(0.82 1)" text-anchor="middle" style="font-size:33.3px">40</text>
<text transform="translate(1040.4 1025.8) scale(0.82 1)" text-anchor="middle" style="font-size:33.3px">60</text>
<text transform="translate(1148.1 1025.8) scale(0.82 1)" text-anchor="middle" style="font-size:33.3px">80</text>
<text transform="translate(665.4 992.5) scale(0.8 1)" style="font-size:33.3px">10</text>
<text transform="translate(694.8 971.7) scale(0.8 1)" style="font-size:21.5px">1</text>
<text transform="translate(665.4 861.5) scale(0.8 1)" style="font-size:33.3px">10</text>
<text transform="translate(694.8 840.7) scale(0.8 1)" style="font-size:21.5px">2</text>
<text transform="translate(665.4 730.5) scale(0.8 1)" style="font-size:33.3px">10</text>
<text transform="translate(694.8 709.7) scale(0.8 1)" style="font-size:21.5px">3</text>
<text transform="translate(665.4 599.5) scale(0.8 1)" style="font-size:33.3px">10</text>
<text transform="translate(694.8 578.7) scale(0.8 1)" style="font-size:21.5px">4</text>
<rect x="168.3" y="1053" width="484.6" height="393" fill="none" stroke="#111" stroke-width="1.5"/>
<path d="M168.3 1446v5.6M168.3 1053v-5.6M179.1 1446v2.8M179.1 1053v-2.8M189.8 1446v2.8M189.8 1053v-2.8M200.6 1446v2.8M200.6 1053v-2.8M211.4 1446v2.8M211.4 1053v-2.8M222.1 1446v2.8M222.1 1053v-2.8M232.9 1446v2.8M232.9 1053v-2.8M243.7 1446v2.8M243.7 1053v-2.8M254.5 1446v2.8M254.5 1053v-2.8M265.2 1446v2.8M265.2 1053v-2.8M276 1446v5.6M276 1053v-5.6M286.8 1446v2.8M286.8 1053v-2.8M297.5 1446v2.8M297.5 1053v-2.8M308.3 1446v2.8M308.3 1053v-2.8M319.1 1446v2.8M319.1 1053v-2.8M329.8 1446v2.8M329.8 1053v-2.8M340.6 1446v2.8M340.6 1053v-2.8M351.4 1446v2.8M351.4 1053v-2.8M362.1 1446v2.8M362.1 1053v-2.8M372.9 1446v2.8M372.9 1053v-2.8M383.7 1446v5.6M383.7 1053v-5.6M394.4 1446v2.8M394.4 1053v-2.8M405.2 1446v2.8M405.2 1053v-2.8M416 1446v2.8M416 1053v-2.8M426.8 1446v2.8M426.8 1053v-2.8M437.5 1446v2.8M437.5 1053v-2.8M448.3 1446v2.8M448.3 1053v-2.8M459.1 1446v2.8M459.1 1053v-2.8M469.8 1446v2.8M469.8 1053v-2.8M480.6 1446v2.8M480.6 1053v-2.8M491.4 1446v5.6M491.4 1053v-5.6M502.1 1446v2.8M502.1 1053v-2.8M512.9 1446v2.8M512.9 1053v-2.8M523.7 1446v2.8M523.7 1053v-2.8M534.4 1446v2.8M534.4 1053v-2.8M545.2 1446v2.8M545.2 1053v-2.8M556 1446v2.8M556 1053v-2.8M566.8 1446v2.8M566.8 1053v-2.8M577.5 1446v2.8M577.5 1053v-2.8M588.3 1446v2.8M588.3 1053v-2.8M599.1 1446v5.6M599.1 1053v-5.6M609.8 1446v2.8M609.8 1053v-2.8M620.6 1446v2.8M620.6 1053v-2.8M631.4 1446v2.8M631.4 1053v-2.8M642.1 1446v2.8M642.1 1053v-2.8M652.9 1446v2.8M652.9 1053v-2.8M168.3 1446h-5.6M652.9 1446h5.6M168.3 1406.6h-2.6M652.9 1406.6h2.6M168.3 1383.5h-2.6M652.9 1383.5h2.6M168.3 1367.1h-2.6M652.9 1367.1h2.6M168.3 1354.4h-2.6M652.9 1354.4h2.6M168.3 1344.1h-2.6M652.9 1344.1h2.6M168.3 1335.3h-2.6M652.9 1335.3h2.6M168.3 1327.7h-2.6M652.9 1327.7h2.6M168.3 1321h-2.6M652.9 1321h2.6M168.3 1315h-5.6M652.9 1315h5.6M168.3 1275.6h-2.6M652.9 1275.6h2.6M168.3 1252.5h-2.6M652.9 1252.5h2.6M168.3 1236.1h-2.6M652.9 1236.1h2.6M168.3 1223.4h-2.6M652.9 1223.4h2.6M168.3 1213.1h-2.6M652.9 1213.1h2.6M168.3 1204.3h-2.6M652.9 1204.3h2.6M168.3 1196.7h-2.6M652.9 1196.7h2.6M168.3 1190h-2.6M652.9 1190h2.6M168.3 1184h-5.6M652.9 1184h5.6M168.3 1144.6h-2.6M652.9 1144.6h2.6M168.3 1121.5h-2.6M652.9 1121.5h2.6M168.3 1105.1h-2.6M652.9 1105.1h2.6M168.3 1092.4h-2.6M652.9 1092.4h2.6M168.3 1082.1h-2.6M652.9 1082.1h2.6M168.3 1073.3h-2.6M652.9 1073.3h2.6M168.3 1065.7h-2.6M652.9 1065.7h2.6M168.3 1059h-2.6M652.9 1059h2.6M168.3 1053h-5.6M652.9 1053h5.6" stroke="#111" stroke-width="1.3" fill="none"/>
<text transform="translate(168.3 1492.3) scale(0.82 1)" text-anchor="middle" style="font-size:33.3px">0</text>
<text transform="translate(276 1492.3) scale(0.82 1)" text-anchor="middle" style="font-size:33.3px">20</text>
<text transform="translate(383.7 1492.3) scale(0.82 1)" text-anchor="middle" style="font-size:33.3px">40</text>
<text transform="translate(491.4 1492.3) scale(0.82 1)" text-anchor="middle" style="font-size:33.3px">60</text>
<text transform="translate(599.1 1492.3) scale(0.82 1)" text-anchor="middle" style="font-size:33.3px">80</text>
<text transform="translate(116.4 1459) scale(0.8 1)" style="font-size:33.3px">10</text>
<text transform="translate(145.8 1438.2) scale(0.8 1)" style="font-size:21.5px">1</text>
<text transform="translate(116.4 1328) scale(0.8 1)" style="font-size:33.3px">10</text>
<text transform="translate(145.8 1307.2) scale(0.8 1)" style="font-size:21.5px">2</text>
<text transform="translate(116.4 1197) scale(0.8 1)" style="font-size:33.3px">10</text>
<text transform="translate(145.8 1176.2) scale(0.8 1)" style="font-size:21.5px">3</text>
<text transform="translate(116.4 1066) scale(0.8 1)" style="font-size:33.3px">10</text>
<text transform="translate(145.8 1045.2) scale(0.8 1)" style="font-size:21.5px">4</text>
<rect x="717.3" y="1053" width="484.6" height="393" fill="none" stroke="#111" stroke-width="1.5"/>
<path d="M717.3 1446v5.6M717.3 1053v-5.6M728.1 1446v2.8M728.1 1053v-2.8M738.8 1446v2.8M738.8 1053v-2.8M749.6 1446v2.8M749.6 1053v-2.8M760.4 1446v2.8M760.4 1053v-2.8M771.1 1446v2.8M771.1 1053v-2.8M781.9 1446v2.8M781.9 1053v-2.8M792.7 1446v2.8M792.7 1053v-2.8M803.5 1446v2.8M803.5 1053v-2.8M814.2 1446v2.8M814.2 1053v-2.8M825 1446v5.6M825 1053v-5.6M835.8 1446v2.8M835.8 1053v-2.8M846.5 1446v2.8M846.5 1053v-2.8M857.3 1446v2.8M857.3 1053v-2.8M868.1 1446v2.8M868.1 1053v-2.8M878.8 1446v2.8M878.8 1053v-2.8M889.6 1446v2.8M889.6 1053v-2.8M900.4 1446v2.8M900.4 1053v-2.8M911.1 1446v2.8M911.1 1053v-2.8M921.9 1446v2.8M921.9 1053v-2.8M932.7 1446v5.6M932.7 1053v-5.6M943.4 1446v2.8M943.4 1053v-2.8M954.2 1446v2.8M954.2 1053v-2.8M965 1446v2.8M965 1053v-2.8M975.8 1446v2.8M975.8 1053v-2.8M986.5 1446v2.8M986.5 1053v-2.8M997.3 1446v2.8M997.3 1053v-2.8M1008.1 1446v2.8M1008.1 1053v-2.8M1018.8 1446v2.8M1018.8 1053v-2.8M1029.6 1446v2.8M1029.6 1053v-2.8M1040.4 1446v5.6M1040.4 1053v-5.6M1051.1 1446v2.8M1051.1 1053v-2.8M1061.9 1446v2.8M1061.9 1053v-2.8M1072.7 1446v2.8M1072.7 1053v-2.8M1083.4 1446v2.8M1083.4 1053v-2.8M1094.2 1446v2.8M1094.2 1053v-2.8M1105 1446v2.8M1105 1053v-2.8M1115.8 1446v2.8M1115.8 1053v-2.8M1126.5 1446v2.8M1126.5 1053v-2.8M1137.3 1446v2.8M1137.3 1053v-2.8M1148.1 1446v5.6M1148.1 1053v-5.6M1158.8 1446v2.8M1158.8 1053v-2.8M1169.6 1446v2.8M1169.6 1053v-2.8M1180.4 1446v2.8M1180.4 1053v-2.8M1191.1 1446v2.8M1191.1 1053v-2.8M1201.9 1446v2.8M1201.9 1053v-2.8M717.3 1446h-5.6M1201.9 1446h5.6M717.3 1406.6h-2.6M1201.9 1406.6h2.6M717.3 1383.5h-2.6M1201.9 1383.5h2.6M717.3 1367.1h-2.6M1201.9 1367.1h2.6M717.3 1354.4h-2.6M1201.9 1354.4h2.6M717.3 1344.1h-2.6M1201.9 1344.1h2.6M717.3 1335.3h-2.6M1201.9 1335.3h2.6M717.3 1327.7h-2.6M1201.9 1327.7h2.6M717.3 1321h-2.6M1201.9 1321h2.6M717.3 1315h-5.6M1201.9 1315h5.6M717.3 1275.6h-2.6M1201.9 1275.6h2.6M717.3 1252.5h-2.6M1201.9 1252.5h2.6M717.3 1236.1h-2.6M1201.9 1236.1h2.6M717.3 1223.4h-2.6M1201.9 1223.4h2.6M717.3 1213.1h-2.6M1201.9 1213.1h2.6M717.3 1204.3h-2.6M1201.9 1204.3h2.6M717.3 1196.7h-2.6M1201.9 1196.7h2.6M717.3 1190h-2.6M1201.9 1190h2.6M717.3 1184h-5.6M1201.9 1184h5.6M717.3 1144.6h-2.6M1201.9 1144.6h2.6M717.3 1121.5h-2.6M1201.9 1121.5h2.6M717.3 1105.1h-2.6M1201.9 1105.1h2.6M717.3 1092.4h-2.6M1201.9 1092.4h2.6M717.3 1082.1h-2.6M1201.9 1082.1h2.6M717.3 1073.3h-2.6M1201.9 1073.3h2.6M717.3 1065.7h-2.6M1201.9 1065.7h2.6M717.3 1059h-2.6M1201.9 1059h2.6M717.3 1053h-5.6M1201.9 1053h5.6" stroke="#111" stroke-width="1.3" fill="none"/>
<text transform="translate(717.3 1492.3) scale(0.82 1)" text-anchor="middle" style="font-size:33.3px">0</text>
<text transform="translate(825 1492.3) scale(0.82 1)" text-anchor="middle" style="font-size:33.3px">20</text>
<text transform="translate(932.7 1492.3) scale(0.82 1)" text-anchor="middle" style="font-size:33.3px">40</text>
<text transform="translate(1040.4 1492.3) scale(0.82 1)" text-anchor="middle" style="font-size:33.3px">60</text>
<text transform="translate(1148.1 1492.3) scale(0.82 1)" text-anchor="middle" style="font-size:33.3px">80</text>
<text transform="translate(665.4 1459) scale(0.8 1)" style="font-size:33.3px">10</text>
<text transform="translate(694.8 1438.2) scale(0.8 1)" style="font-size:21.5px">1</text>
<text transform="translate(665.4 1328) scale(0.8 1)" style="font-size:33.3px">10</text>
<text transform="translate(694.8 1307.2) scale(0.8 1)" style="font-size:21.5px">2</text>
<text transform="translate(665.4 1197) scale(0.8 1)" style="font-size:33.3px">10</text>
<text transform="translate(694.8 1176.2) scale(0.8 1)" style="font-size:21.5px">3</text>
<text transform="translate(665.4 1066) scale(0.8 1)" style="font-size:33.3px">10</text>
<text transform="translate(694.8 1045.2) scale(0.8 1)" style="font-size:21.5px">4</text>
<clipPath id="clip0"><rect x="1515.4" y="118.8" width="484.6" height="393"/></clipPath>
<g clip-path="url(#clip0)" fill="none" stroke-width="1.6" stroke-linejoin="round">
<path d="M1515.5 432.2C1520.8 431.9 1535 429.9 1546.9 430.8C1558.8 431.7 1574.2 434.4 1586.9 437.5C1599.6 440.6 1612 445 1623.1 449.5C1634.2 453.9 1643.9 459 1653.4 464.1C1662.9 469.2 1671.2 474.5 1680.1 480.1C1688.9 485.6 1698.4 492.1 1706.7 497.4C1714.9 502.6 1724.3 507.9 1729.6 511.5C1734.9 515 1737.1 517.5 1738.6 518.7" stroke="#111"/>
<path d="M1515.5 350.1C1520.8 350.3 1537.3 350.1 1546.9 350.9C1556.6 351.7 1564.7 353.2 1573.6 354.9C1582.4 356.7 1591.3 358.5 1600.2 361.6C1609.1 364.7 1617.9 368.9 1626.8 373.6C1635.7 378.2 1644.6 383.3 1653.4 389.6C1662.3 395.8 1671.2 402.9 1680.1 410.9C1688.9 418.8 1698.2 427.7 1706.7 437.5C1715.1 447.2 1724 460.6 1730.6 469.4C1737.3 478.3 1742.2 485 1746.6 490.7C1751.1 496.4 1755.5 501.4 1757.3 503.5" stroke="#111" stroke-dasharray="17 11"/>
<path d="M1515.5 225.8C1520.8 225.6 1537.3 224.7 1546.9 224.5C1556.6 224.3 1564.7 224.3 1573.6 224.5C1582.4 224.7 1591.3 224.9 1600.2 225.8C1609.1 226.7 1617.9 228 1626.8 229.8C1635.7 231.6 1644.6 233.6 1653.4 236.5C1662.3 239.3 1671.2 242.9 1680.1 247.1C1688.9 251.3 1697.8 256.2 1706.7 261.8C1715.6 267.3 1724.4 272.9 1733.3 280.4C1742.2 287.9 1751.1 296.8 1759.9 307C1768.8 317.2 1777.7 328.8 1786.6 341.6C1795.4 354.5 1804.3 368.7 1813.2 384.2C1822.1 399.8 1832.3 419.7 1839.8 434.8C1847.3 449.9 1852.4 462 1858.4 474.7C1864.4 487.5 1872.2 503.9 1875.7 511.5C1879.3 519 1879.1 518.6 1879.7 520" stroke="#2b3a8f"/>
<path d="M1515.5 217C1520.8 216.7 1535 215.7 1546.9 215.2C1558.8 214.6 1573.6 214.1 1586.9 213.8C1600.2 213.6 1613.5 213.4 1626.8 213.8C1640.1 214.3 1655.7 215.4 1666.7 216.5C1677.8 217.6 1684.5 218.5 1693.4 220.5C1702.2 222.5 1711.1 225.1 1720 228.5C1728.9 231.8 1737.7 236 1746.6 240.5C1755.5 244.9 1766.6 250.7 1773.2 255.1C1779.9 259.5 1782.1 262.9 1786.6 267.1C1791 271.3 1795.4 275.1 1799.9 280.4C1804.3 285.7 1808.7 291.9 1813.2 299C1817.6 306.1 1822.1 313.7 1826.5 323C1830.9 332.3 1835.4 343.4 1839.8 354.9C1844.2 366.5 1848.7 378.5 1853.1 392.2C1857.6 406 1862 421.5 1866.4 437.5C1870.9 453.5 1876.6 475.7 1879.7 488.1C1882.8 500.4 1883.8 506.2 1885.1 511.5C1886.3 516.8 1886.8 518.6 1887.2 520" stroke="#2b3a8f" stroke-dasharray="17 11"/>
<path d="M1515.5 235.1C1520.8 234.8 1537.3 234 1546.9 233C1556.6 232 1564.7 230.6 1573.6 229.3C1582.4 227.9 1591.3 226.5 1600.2 225C1609.1 223.6 1617.9 222 1626.8 220.5C1635.7 219 1644.6 217.6 1653.4 216C1662.3 214.3 1672.5 212.3 1680.1 210.6C1687.6 209 1694 207.3 1698.7 205.8C1703.4 204.4 1702.2 203 1708 201.9C1713.8 200.7 1724.7 199.9 1733.3 199.2C1742 198.5 1751.1 198.1 1759.9 197.9C1768.8 197.6 1779.9 197.6 1786.6 197.9C1793.2 198.1 1795.4 198.3 1799.9 199.2C1804.3 200.1 1808.7 201.4 1813.2 203.2C1817.6 205 1822.1 207 1826.5 209.8C1830.9 212.7 1835.4 216.1 1839.8 220.5C1844.2 224.9 1848.7 229.6 1853.1 236.5C1857.6 243.3 1862 251.8 1866.4 261.8C1870.9 271.7 1875.3 283.5 1879.7 296.4C1884.2 309.2 1888.6 323.9 1893 339C1897.5 354.1 1901.9 370.5 1906.4 386.9C1910.8 403.3 1915.2 420.2 1919.7 437.5C1924.1 454.8 1930 478.4 1933 490.7C1936 503.1 1936.7 506.6 1937.8 511.5C1938.9 516.4 1939.3 518.6 1939.6 520" stroke="#6cae22"/>
<path d="M1515.5 246.3C1520.8 245.8 1537.3 244.1 1546.9 243.1C1556.6 242.1 1564.7 241.6 1573.6 240.5C1582.4 239.3 1591.3 238 1600.2 236.5C1609.1 234.9 1617.9 232.9 1626.8 231.1C1635.7 229.4 1644.6 227.6 1653.4 225.8C1662.3 224 1671.2 222.4 1680.1 220.5C1688.9 218.6 1697.8 216.9 1706.7 214.6C1715.6 212.4 1724.4 209.6 1733.3 207.2C1742.2 204.7 1751.1 201.6 1759.9 200C1768.8 198.3 1778.6 197.9 1786.6 197.3C1794.5 196.8 1801.2 196.2 1807.9 196.5C1814.5 196.8 1820.3 197.6 1826.5 199.2C1832.7 200.7 1839.4 203 1845.1 205.8C1850.9 208.7 1856.2 212.1 1861.1 216.5C1866 220.9 1870 225.4 1874.4 232.5C1878.8 239.6 1883.3 248.4 1887.7 259.1C1892.2 269.7 1896.6 282.2 1901 296.4C1905.5 310.6 1910.4 327.4 1914.3 344.3C1918.3 361.2 1921.9 379.8 1925 397.5C1928.1 415.3 1930.5 434.8 1933 450.8C1935.4 466.8 1938.1 483.3 1939.6 493.4C1941.2 503.5 1941.6 507.1 1942.3 511.5C1943 515.9 1943.4 518.6 1943.6 520" stroke="#6cae22" stroke-dasharray="17 11"/>
<path d="M1515.5 330.2C1520.8 329.6 1537.3 328.1 1546.9 327C1556.6 325.9 1564.7 324.9 1573.6 323.8C1582.4 322.7 1591.3 321.7 1600.2 320.3C1609.1 319 1617.9 317.5 1626.8 315.8C1635.7 314.1 1644.6 312.2 1653.4 310.2C1662.3 308.2 1671.2 305.9 1680.1 303.8C1688.9 301.7 1697.8 299.8 1706.7 297.7C1715.6 295.6 1724.4 293.6 1733.3 291C1742.2 288.5 1751.1 285.6 1759.9 282.5C1768.8 279.4 1777.7 276.1 1786.6 272.4C1795.4 268.7 1804.3 264.9 1813.2 260.4C1822.1 256 1830.9 251.1 1839.8 245.8C1848.7 240.5 1859.8 232.9 1866.4 228.5C1873.1 224 1876 221.8 1879.7 219.2C1883.5 216.5 1885.5 213.7 1889.1 212.5C1892.6 211.3 1896.8 211.7 1901 212C1905.3 212.2 1910.4 212.9 1914.3 213.8C1918.3 214.8 1921.9 215.6 1925 217.8C1928.1 220 1930.3 222.5 1933 227.1C1935.6 231.8 1938.3 236.5 1941 245.8C1943.6 255.1 1946.3 268 1949 283.1C1951.6 298.1 1954.3 316.3 1956.9 336.3C1959.6 356.3 1962.7 382.9 1964.9 402.9C1967.2 422.8 1968.6 438 1970.3 456.1C1971.9 474.2 1973.9 500.8 1974.8 511.5C1975.7 522.1 1975.5 518.6 1975.6 520" stroke="#c0262c"/>
<path d="M1515.5 334.4C1520.8 334 1537.3 332.5 1546.9 331.5C1556.6 330.5 1564.7 329.5 1573.6 328.3C1582.4 327.1 1591.3 325.7 1600.2 324.3C1609.1 323 1617.9 321.9 1626.8 320.3C1635.7 318.8 1644.6 317 1653.4 315C1662.3 313 1671.2 310.3 1680.1 308.3C1688.9 306.4 1697.8 305 1706.7 303C1715.6 301 1724.4 298.6 1733.3 296.4C1742.2 294.1 1751.1 292.2 1759.9 289.7C1768.8 287.3 1777.7 285.1 1786.6 281.7C1795.4 278.4 1804.3 274 1813.2 269.7C1822.1 265.5 1830.9 261.3 1839.8 256.4C1848.7 251.6 1858.9 245.3 1866.4 240.5C1874 235.6 1879.7 230.8 1885.1 227.1C1890.4 223.5 1893.9 220.8 1898.4 218.6C1902.8 216.4 1907.7 214.5 1911.7 213.8C1915.7 213.1 1919.2 213.6 1922.3 214.4C1925.4 215.2 1927.7 216.5 1930.3 218.6C1933 220.8 1935.6 222.2 1938.3 227.1C1941 232.1 1943.6 237.8 1946.3 248.4C1949 259.1 1951.6 274.2 1954.3 291C1956.9 307.9 1959.8 328.8 1962.3 349.6C1964.7 370.5 1966.9 394.9 1968.9 416.2C1970.9 437.5 1972.9 461.5 1974.3 477.4C1975.6 493.3 1976.3 504.4 1976.9 511.5C1977.5 518.6 1977.6 518.6 1977.7 520" stroke="#c0262c" stroke-dasharray="17 11"/>
</g>
<clipPath id="clip1"><rect x="1515.4" y="586.5" width="484.6" height="393"/></clipPath>
<g clip-path="url(#clip1)" fill="none" stroke-width="1.6" stroke-linejoin="round">
<path d="M1515.5 806.7C1520.8 806.7 1537.3 806.3 1546.9 806.7C1556.6 807 1564.7 807.8 1573.6 808.8C1582.4 809.8 1591.3 810.9 1600.2 812.5C1609.1 814.2 1617.9 816.5 1626.8 818.6C1635.7 820.8 1644.6 823 1653.4 825.3C1662.3 827.7 1671.2 830.3 1680.1 832.8C1688.9 835.2 1697.8 837.4 1706.7 839.9C1715.6 842.5 1724.4 844.8 1733.3 847.9C1742.2 851 1753.3 855.8 1759.9 858.6C1766.6 861.4 1768.8 862.3 1773.2 864.7C1777.7 867.1 1782.1 869.8 1786.6 873.2C1791 876.6 1795.4 880.5 1799.9 885.2C1804.3 889.9 1808.7 895.2 1813.2 901.2C1817.6 907.2 1822.1 913.4 1826.5 921.2C1830.9 928.9 1836.3 940.7 1839.8 947.8C1843.4 954.9 1845.3 958.5 1847.8 963.7C1850.2 969 1852.8 975.2 1854.4 979.2C1856.1 983.2 1857.3 986.3 1857.9 987.7" stroke="#111"/>
<path d="M1515.5 714C1520.8 713.9 1537.3 713.5 1546.9 713.5C1556.6 713.5 1564.7 713.6 1573.6 714C1582.4 714.5 1591.3 715.1 1600.2 716.1C1609.1 717.2 1617.9 718.4 1626.8 720.1C1635.7 721.9 1644.6 723.9 1653.4 726.8C1662.3 729.7 1671.2 733.5 1680.1 737.4C1688.9 741.4 1697.8 745.2 1706.7 750.8C1715.6 756.3 1724.4 762.7 1733.3 770.7C1742.2 778.7 1753.3 790.9 1759.9 798.7C1766.6 806.4 1768.8 810.7 1773.2 817.3C1777.7 824 1782.1 830.6 1786.6 838.6C1791 846.6 1795.4 855.9 1799.9 865.2C1804.3 874.6 1808.7 883.9 1813.2 894.5C1817.6 905.2 1822.5 918.5 1826.5 929.1C1830.5 939.8 1834.3 950.1 1837.1 958.4C1840 966.8 1842.2 974.3 1843.8 979.2C1845.3 984.1 1846 986.3 1846.5 987.7" stroke="#111" stroke-dasharray="17 11"/>
<path d="M1515.5 670.9C1520.8 670.5 1535 669.4 1546.9 668.8C1558.8 668.1 1573.6 667.3 1586.9 666.9C1600.2 666.4 1615.7 666.1 1626.8 666.1C1637.9 666.1 1644.6 666.1 1653.4 666.9C1662.3 667.7 1671.2 668.9 1680.1 670.9C1688.9 672.9 1697.8 675.5 1706.7 678.9C1715.6 682.2 1724.4 685.7 1733.3 690.9C1742.2 696 1751.1 702.2 1759.9 709.5C1768.8 716.8 1777.7 725.2 1786.6 734.8C1795.4 744.3 1804.3 756.1 1813.2 766.7C1822.1 777.4 1832.3 790.2 1839.8 798.7C1847.3 807.1 1852.7 811.5 1858.4 817.3C1864.2 823.1 1870 828 1874.4 833.3C1878.8 838.6 1881.5 843.1 1885.1 849.3C1888.6 855.5 1892.2 861.7 1895.7 870.6C1899.3 879.4 1902.8 890.5 1906.4 902.5C1909.9 914.5 1913.7 929.7 1917 942.4C1920.3 955.2 1924.5 971.6 1926.3 979.2C1928.2 986.7 1927.9 986.3 1928.2 987.7" stroke="#2b3a8f"/>
<path d="M1515.5 681.5C1520.8 681 1535 679.7 1546.9 678.3C1558.8 677 1573.6 675.5 1586.9 673.5C1600.2 671.6 1613.5 668.6 1626.8 666.9C1640.1 665.2 1653.4 664.3 1666.7 663.4C1680.1 662.5 1693.4 662 1706.7 661.6C1720 661.1 1735.5 660.5 1746.6 660.8C1757.7 661.1 1765.3 662 1773.2 663.4C1781.2 664.9 1787.9 666.8 1794.5 669.6C1801.2 672.3 1807 676 1813.2 680.2C1819.4 684.4 1826 689.3 1831.8 694.8C1837.6 700.4 1842.9 706.4 1847.8 713.5C1852.7 720.6 1856.7 728.1 1861.1 737.4C1865.5 746.8 1870.4 758.7 1874.4 769.4C1878.4 780 1881.5 788.9 1885.1 801.3C1888.6 813.8 1892.2 828.9 1895.7 843.9C1899.3 859 1903.3 876.8 1906.4 891.9C1909.5 907 1911.9 919.9 1914.3 934.5C1916.8 949 1919.7 970.3 1921 979.2C1922.3 988.1 1922.1 986.3 1922.3 987.7" stroke="#2b3a8f" stroke-dasharray="17 11"/>
<path d="M1515.5 722C1520.8 721.5 1535 720.2 1546.9 718.8C1558.8 717.4 1573.6 715.5 1586.9 713.5C1600.2 711.5 1615.7 709 1626.8 706.8C1637.9 704.7 1644.6 702.9 1653.4 700.7C1662.3 698.5 1671.2 695.8 1680.1 693.5C1688.9 691.2 1697.8 689.5 1706.7 686.9C1715.6 684.2 1724.4 680.6 1733.3 677.5C1742.2 674.4 1753.3 670.7 1759.9 668.2C1766.6 665.8 1769.2 664.7 1773.2 662.9C1777.2 661.1 1779.5 658.8 1783.9 657.6C1788.3 656.4 1794.1 656.2 1799.9 655.7C1805.6 655.3 1812.7 654.7 1818.5 654.9C1824.3 655.1 1829.6 655.8 1834.5 657C1839.4 658.3 1843.4 659.6 1847.8 662.4C1852.2 665.1 1856.7 668.6 1861.1 673.5C1865.5 678.5 1870.4 685.1 1874.4 692.2C1878.4 699.3 1881.5 707.7 1885.1 716.1C1888.6 724.6 1892.2 733.9 1895.7 742.8C1899.3 751.6 1902.8 760.5 1906.4 769.4C1909.9 778.3 1913.5 787.6 1917 796C1920.6 804.4 1924.1 812 1927.7 820C1931.2 828 1935.2 836 1938.3 843.9C1941.4 851.9 1944.1 859 1946.3 867.9C1948.5 876.8 1949.8 885.7 1951.6 897.2C1953.4 908.7 1955.3 923.5 1956.9 937.1C1958.6 950.8 1960.6 970.8 1961.5 979.2C1962.4 987.6 1962.1 986.3 1962.3 987.7" stroke="#6cae22"/>
<path d="M1515.5 738.8C1520.8 738.4 1535 737.8 1546.9 736.6C1558.8 735.5 1573.6 734 1586.9 732.1C1600.2 730.3 1613.5 727.9 1626.8 725.5C1640.1 723 1653.4 720.6 1666.7 717.5C1680.1 714.4 1693.4 710.8 1706.7 706.8C1720 702.8 1735.5 697.3 1746.6 693.5C1757.7 689.7 1764.4 687.5 1773.2 684.2C1782.1 680.9 1791 676.9 1799.9 673.5C1808.7 670.2 1818.5 666.8 1826.5 664.2C1834.5 661.7 1841.6 659.6 1847.8 658.4C1854 657.2 1858.4 656.6 1863.8 657C1869.1 657.4 1874.9 658.7 1879.7 660.8C1884.6 662.9 1888.6 665.6 1893 669.6C1897.5 673.5 1902.4 678.2 1906.4 684.2C1910.4 690.2 1913.5 696.6 1917 705.5C1920.6 714.4 1924.1 724.1 1927.7 737.4C1931.2 750.8 1935.2 769.8 1938.3 785.4C1941.4 800.9 1944.1 816.4 1946.3 830.6C1948.5 844.8 1950.1 857.3 1951.6 870.6C1953.2 883.9 1954.5 897.2 1955.6 910.5C1956.7 923.8 1957.6 939 1958.3 950.4C1958.9 961.9 1959.3 973 1959.6 979.2C1959.9 985.4 1960.1 986.3 1960.1 987.7" stroke="#6cae22" stroke-dasharray="17 11"/>
<path d="M1515.5 820.5C1520.8 820 1537.3 818.4 1546.9 817.3C1556.6 816.3 1564.7 815.1 1573.6 814.1C1582.4 813.1 1591.3 812.6 1600.2 811.5C1609.1 810.3 1617.9 808.7 1626.8 807.2C1635.7 805.7 1644.6 804.4 1653.4 802.7C1662.3 800.9 1671.2 798.5 1680.1 796.5C1688.9 794.6 1697.8 792.8 1706.7 790.7C1715.6 788.6 1724.4 786.5 1733.3 784C1742.2 781.6 1751.1 779 1759.9 776C1768.8 773.1 1777.7 770 1786.6 766.2C1795.4 762.4 1804.3 758.2 1813.2 753.4C1822.1 748.6 1830.9 743.7 1839.8 737.4C1848.7 731.2 1858.9 722.4 1866.4 716.1C1874 709.9 1879.3 705.1 1885.1 700.2C1890.8 695.3 1897 690.6 1901 686.9C1905 683.1 1906.4 679.5 1909 677.5C1911.7 675.5 1914.3 675.1 1917 674.9C1919.7 674.7 1922.3 675.1 1925 676.2C1927.7 677.3 1930.3 678 1933 681.5C1935.6 685.1 1938.3 690 1941 697.5C1943.6 705.1 1946.3 714.8 1949 726.8C1951.6 738.8 1954.3 754.3 1956.9 769.4C1959.6 784.5 1962.3 802.7 1964.9 817.3C1967.6 832 1970.7 843.9 1972.9 857.3C1975.1 870.6 1976.7 882.5 1978.2 897.2C1979.8 911.8 1981.1 931.4 1982.2 945.1C1983.3 958.8 1984.4 972.1 1984.9 979.2C1985.4 986.3 1985.3 986.3 1985.4 987.7" stroke="#c0262c"/>
<path d="M1515.5 825.8C1520.8 825.4 1535 824.4 1546.9 823.2C1558.8 822 1573.6 820.2 1586.9 818.6C1600.2 817.1 1613.5 815.9 1626.8 814.1C1640.1 812.3 1653.4 809.8 1666.7 808C1680.1 806.2 1695.6 804.9 1706.7 803.5C1717.8 802 1724.4 800.9 1733.3 799.2C1742.2 797.5 1751.1 795.7 1759.9 793.4C1768.8 791 1777.7 788.3 1786.6 785.4C1795.4 782.5 1804.3 779.8 1813.2 776C1822.1 772.3 1830.9 767.8 1839.8 762.7C1848.7 757.6 1857.6 751.9 1866.4 745.4C1875.3 739 1885.5 730.8 1893 724.1C1900.6 717.5 1906.4 711.3 1911.7 705.5C1917 699.7 1921.4 693.4 1925 689.5C1928.5 685.6 1929.9 683.2 1933 682.1C1936.1 681 1940.5 681.8 1943.6 682.9C1946.7 683.9 1949 684 1951.6 688.2C1954.3 692.4 1957.2 699.1 1959.6 708.2C1962 717.3 1964.3 729 1966.3 742.8C1968.3 756.5 1970 774.7 1971.6 790.7C1973.1 806.7 1974.5 823.1 1975.6 838.6C1976.7 854.1 1977.4 867.5 1978.2 883.9C1979.1 900.3 1980.1 921.2 1980.9 937.1C1981.7 953 1982.6 970.8 1983 979.2C1983.5 987.6 1983.5 986.3 1983.6 987.7" stroke="#c0262c" stroke-dasharray="17 11"/>
</g>
<clipPath id="clip2"><rect x="1515.4" y="1053" width="484.6" height="393"/></clipPath>
<g clip-path="url(#clip2)" fill="none" stroke-width="1.6" stroke-linejoin="round">
<path d="M1515.5 1242.5C1519.9 1242.4 1531.9 1241.4 1541.6 1241.8C1551.3 1242.1 1563.8 1243.3 1573.6 1244.4C1583.3 1245.6 1591.3 1247.1 1600.2 1248.7C1609.1 1250.3 1617.9 1252.1 1626.8 1254C1635.7 1255.9 1644.6 1257.9 1653.4 1259.9C1662.3 1261.8 1671.2 1263.9 1680.1 1265.7C1688.9 1267.5 1697.8 1269.4 1706.7 1270.5C1715.6 1271.6 1724.4 1272.6 1733.3 1272.4C1742.2 1272.1 1751.1 1270.9 1759.9 1269.2C1768.8 1267.4 1778.6 1263.7 1786.6 1262C1794.5 1260.3 1802.1 1259.1 1807.9 1258.8C1813.6 1258.5 1816.7 1258.9 1821.2 1260.4C1825.6 1261.9 1830 1263.9 1834.5 1267.8C1838.9 1271.7 1843.4 1276.7 1847.8 1283.8C1852.2 1290.9 1856.7 1299.3 1861.1 1310.4C1865.5 1321.5 1870.4 1337.1 1874.4 1350.4C1878.4 1363.7 1882 1378.3 1885.1 1390.3C1888.2 1402.3 1890.8 1413 1893 1422.3C1895.3 1431.5 1897.2 1440.4 1898.4 1445.7C1899.6 1451 1899.9 1452.8 1900.2 1454.2" stroke="#111"/>
<path d="M1515.5 1148.8C1520.8 1148.5 1535 1147.2 1546.9 1146.7C1558.8 1146.2 1573.6 1145.9 1586.9 1145.9C1600.2 1145.9 1615.7 1146.3 1626.8 1146.7C1637.9 1147.1 1644.6 1147.3 1653.4 1148C1662.3 1148.8 1671.2 1149.7 1680.1 1151.2C1688.9 1152.8 1697.8 1154.6 1706.7 1157.4C1715.6 1160.1 1724.4 1163.6 1733.3 1168C1742.2 1172.4 1751.1 1177.5 1759.9 1184C1768.8 1190.4 1779.9 1200.2 1786.6 1206.6C1793.2 1213 1795.4 1216.4 1799.9 1222.6C1804.3 1228.8 1808.7 1235.4 1813.2 1243.9C1817.6 1252.3 1822.1 1262.5 1826.5 1273.2C1830.9 1283.8 1835.4 1295.8 1839.8 1307.8C1844.2 1319.8 1848.7 1331.3 1853.1 1345.1C1857.6 1358.8 1862.9 1377.4 1866.4 1390.3C1870 1403.2 1872 1413 1874.4 1422.3C1876.9 1431.5 1879.6 1440.4 1881.1 1445.7C1882.5 1451 1882.8 1452.8 1883.2 1454.2" stroke="#111" stroke-dasharray="17 11"/>
<path d="M1515.5 1132.1C1520.8 1131.6 1535 1130.4 1546.9 1129.4C1558.8 1128.4 1573.6 1127.1 1586.9 1126.2C1600.2 1125.3 1615.7 1124.4 1626.8 1124.1C1637.9 1123.7 1644.6 1123.7 1653.4 1124.1C1662.3 1124.4 1671.2 1125 1680.1 1126.2C1688.9 1127.4 1697.8 1129 1706.7 1131.5C1715.6 1134.1 1724.4 1137.3 1733.3 1141.4C1742.2 1145.5 1751.1 1149.6 1759.9 1156C1768.8 1162.5 1777.7 1171.1 1786.6 1180C1795.4 1188.9 1804.3 1199.5 1813.2 1209.3C1822.1 1219 1832.3 1231.5 1839.8 1238.6C1847.3 1245.7 1853.6 1249.2 1858.4 1251.9C1863.3 1254.5 1865.5 1254.5 1869.1 1254.5C1872.6 1254.5 1875.7 1252.8 1879.7 1251.9C1883.7 1250.9 1889.5 1249.3 1893 1248.7C1896.6 1248 1898.4 1246.9 1901 1247.9C1903.7 1248.9 1906.4 1250.8 1909 1254.5C1911.7 1258.3 1914.3 1263.4 1917 1270.5C1919.7 1277.6 1922.3 1286 1925 1297.1C1927.7 1308.2 1930.8 1323.8 1933 1337.1C1935.2 1350.4 1936.5 1363.7 1938.3 1377C1940.1 1390.3 1942.2 1405.5 1943.6 1416.9C1945.1 1428.4 1946.2 1439.5 1946.8 1445.7C1947.5 1451.9 1947.5 1452.8 1947.6 1454.2" stroke="#2b3a8f"/>
<path d="M1515.5 1165.9C1520.8 1165.3 1535 1164 1546.9 1162.7C1558.8 1161.4 1573.6 1159.9 1586.9 1158.2C1600.2 1156.4 1613.5 1154.4 1626.8 1152C1640.1 1149.7 1653.4 1146.9 1666.7 1144C1680.1 1141.2 1695.6 1137.4 1706.7 1134.7C1717.8 1132.1 1724.4 1130.1 1733.3 1128.1C1742.2 1126.1 1751.1 1124 1759.9 1122.7C1768.8 1121.5 1778.6 1120.8 1786.6 1120.6C1794.5 1120.4 1801.2 1120.6 1807.9 1121.4C1814.5 1122.2 1820.3 1123.4 1826.5 1125.4C1832.7 1127.4 1839.4 1129.8 1845.1 1133.4C1850.9 1136.9 1856.2 1141.6 1861.1 1146.7C1866 1151.8 1870.4 1157.6 1874.4 1164C1878.4 1170.4 1881.5 1176.9 1885.1 1185.3C1888.6 1193.7 1892.6 1205.3 1895.7 1214.6C1898.8 1223.9 1901.5 1232.8 1903.7 1241.2C1905.9 1249.6 1907.2 1255.9 1909 1265.2C1910.8 1274.5 1912.1 1284.3 1914.3 1297.1C1916.6 1310 1919.7 1326.9 1922.3 1342.4C1925 1357.9 1928.1 1376.6 1930.3 1390.3C1932.5 1404.1 1934.3 1415.7 1935.6 1424.9C1937 1434.2 1937.7 1440.8 1938.3 1445.7C1938.9 1450.6 1939.2 1452.8 1939.4 1454.2" stroke="#2b3a8f" stroke-dasharray="17 11"/>
<path d="M1515.5 1204.5C1520.8 1203.9 1535 1202.8 1546.9 1201.3C1558.8 1199.8 1573.6 1197.6 1586.9 1195.4C1600.2 1193.2 1613.5 1190.8 1626.8 1188C1640.1 1185.2 1653.4 1182.3 1666.7 1178.7C1680.1 1175 1695.6 1169.7 1706.7 1166.1C1717.8 1162.6 1724.4 1160.6 1733.3 1157.4C1742.2 1154.1 1751.1 1150.5 1759.9 1146.7C1768.8 1142.9 1779.9 1138 1786.6 1134.7C1793.2 1131.4 1795.9 1129 1799.9 1126.7C1803.9 1124.4 1806.1 1122.2 1810.5 1120.9C1815 1119.5 1821.2 1118.7 1826.5 1118.7C1831.8 1118.7 1837.1 1119.3 1842.5 1120.9C1847.8 1122.4 1853.6 1124.9 1858.4 1128.1C1863.3 1131.3 1867.3 1134.5 1871.7 1140C1876.2 1145.6 1880.6 1152.5 1885.1 1161.3C1889.5 1170.2 1894.4 1183.5 1898.4 1193.3C1902.4 1203.1 1905.5 1211.9 1909 1219.9C1912.6 1227.9 1916.6 1235.7 1919.7 1241.2C1922.8 1246.8 1925 1250.7 1927.7 1253.2C1930.3 1255.7 1933 1256.3 1935.6 1256.4C1938.3 1256.5 1941.4 1254.3 1943.6 1254C1945.9 1253.7 1947.2 1252.7 1949 1254.5C1950.7 1256.4 1952.5 1258.1 1954.3 1265.2C1956.1 1272.3 1957.8 1282.9 1959.6 1297.1C1961.4 1311.3 1963.4 1332.6 1964.9 1350.4C1966.5 1368.1 1967.7 1387.7 1968.9 1403.6C1970.2 1419.5 1971.7 1437.3 1972.4 1445.7C1973.1 1454.1 1972.8 1452.8 1972.9 1454.2" stroke="#6cae22"/>
<path d="M1515.5 1227.4C1520.8 1227 1535 1226.4 1546.9 1225.2C1558.8 1224.1 1573.6 1222.4 1586.9 1220.5C1600.2 1218.5 1613.5 1215.7 1626.8 1213.3C1640.1 1210.9 1653.4 1208.7 1666.7 1206.1C1680.1 1203.4 1693.4 1200.5 1706.7 1197.3C1720 1194 1735.5 1190 1746.6 1186.6C1757.7 1183.3 1764.4 1180.9 1773.2 1177.3C1782.1 1173.8 1791 1169.8 1799.9 1165.3C1808.7 1160.9 1817.6 1155.6 1826.5 1150.7C1835.4 1145.8 1845.1 1140.3 1853.1 1136.1C1861.1 1131.8 1868.6 1127.6 1874.4 1125.4C1880.2 1123.2 1882.8 1122.7 1887.7 1122.7C1892.6 1122.7 1898.8 1123.4 1903.7 1125.4C1908.6 1127.4 1913 1130.5 1917 1134.7C1921 1138.9 1924.6 1144.9 1927.7 1150.7C1930.8 1156.5 1933.2 1161.8 1935.6 1169.3C1938.1 1176.9 1940.3 1185.8 1942.3 1196C1944.3 1206.2 1945.9 1218.1 1947.6 1230.6C1949.4 1243 1951.2 1255 1953 1270.5C1954.7 1286 1956.5 1303.8 1958.3 1323.8C1960.1 1343.7 1962 1370 1963.6 1390.3C1965.2 1410.6 1966.8 1435 1967.6 1445.7C1968.4 1456.3 1968 1452.8 1968.1 1454.2" stroke="#6cae22" stroke-dasharray="17 11"/>
<path d="M1515.5 1305.1C1520.8 1304.6 1535 1303.3 1546.9 1301.9C1558.8 1300.6 1573.6 1298.8 1586.9 1297.1C1600.2 1295.4 1613.5 1293.8 1626.8 1291.8C1640.1 1289.8 1653.4 1287.5 1666.7 1285.1C1680.1 1282.8 1695.6 1280.2 1706.7 1278C1717.8 1275.7 1724.4 1274.2 1733.3 1271.8C1742.2 1269.5 1751.1 1267 1759.9 1263.8C1768.8 1260.7 1777.7 1257.2 1786.6 1253.2C1795.4 1249.2 1804.3 1245 1813.2 1239.9C1822.1 1234.8 1830.9 1229.5 1839.8 1222.6C1848.7 1215.7 1857.6 1207.1 1866.4 1198.6C1875.3 1190.2 1885.5 1180 1893 1172C1900.6 1164 1907 1155.9 1911.7 1150.7C1916.3 1145.5 1917.9 1142 1921 1140.6C1924.1 1139.2 1927.4 1140.5 1930.3 1142.2C1933.2 1143.9 1935.6 1146.2 1938.3 1150.7C1941 1155.2 1943.6 1160.9 1946.3 1169.3C1949 1177.8 1951.6 1189.3 1954.3 1201.3C1956.9 1213.3 1959.8 1229.7 1962.3 1241.2C1964.7 1252.8 1967.2 1264.5 1968.9 1270.5C1970.7 1276.5 1971.6 1276.3 1972.9 1277.2C1974.3 1278 1975.8 1275.2 1976.9 1275.8C1978 1276.5 1978.7 1276.3 1979.6 1281.2C1980.5 1286 1981.4 1293.6 1982.2 1305.1C1983.1 1316.7 1984.1 1334 1984.9 1350.4C1985.7 1366.8 1986.4 1387.7 1987 1403.6C1987.7 1419.5 1988.5 1437.3 1988.9 1445.7C1989.3 1454.1 1989.1 1452.8 1989.2 1454.2" stroke="#c0262c"/>
<path d="M1515.5 1311C1520.8 1310.5 1535 1309.4 1546.9 1308.3C1558.8 1307.2 1573.6 1305.9 1586.9 1304.6C1600.2 1303.3 1613.5 1301.8 1626.8 1300.3C1640.1 1298.9 1653.4 1297.2 1666.7 1295.8C1680.1 1294.4 1693.4 1293 1706.7 1291.8C1720 1290.6 1735.5 1289.7 1746.6 1288.6C1757.7 1287.5 1764.4 1286.8 1773.2 1285.1C1782.1 1283.5 1791 1281.2 1799.9 1278.5C1808.7 1275.8 1817.6 1273.2 1826.5 1269.2C1835.4 1265.2 1844.2 1261.4 1853.1 1254.5C1862 1247.7 1871.7 1235.9 1879.7 1227.9C1887.7 1219.9 1894.8 1213.3 1901 1206.6C1907.2 1200 1911.7 1194.6 1917 1188C1922.3 1181.3 1928.5 1172.4 1933 1166.7C1937.4 1160.9 1940.5 1156.7 1943.6 1153.4C1946.7 1150 1949 1147.5 1951.6 1146.7C1954.3 1145.9 1957.2 1146.6 1959.6 1148.6C1962 1150.6 1964.3 1153 1966.3 1158.7C1968.3 1164.4 1970 1172.9 1971.6 1182.6C1973.1 1192.4 1974.4 1204.8 1975.6 1217.3C1976.8 1229.7 1977.9 1243.9 1978.8 1257.2C1979.7 1270.5 1980.1 1281.6 1980.9 1297.1C1981.7 1312.7 1982.7 1332.6 1983.6 1350.4C1984.5 1368.1 1985.5 1387.7 1986.2 1403.6C1986.9 1419.5 1987.5 1437.3 1987.8 1445.7C1988.1 1454.1 1988.1 1452.8 1988.1 1454.2" stroke="#c0262c" stroke-dasharray="17 11"/>
</g>
<path d="M1531 143.8H1610.8" stroke="#111" stroke-width="1.5" stroke-dasharray="22 16.5" fill="none"/>
<path d="M1531 180H1610.8" stroke="#111" stroke-width="1.5" fill="none"/>
<text transform="translate(1622 152.6)" style="font-size:26.8px">Cold plasma</text>
<text transform="translate(1622 188.5)" style="font-size:26.8px">Hot plasma</text>
<text transform="translate(1775.4 188.5)" style="font-size:30.5px;fill:#3c7d2a">300 keV</text>
<text transform="translate(1590.1 301.7)" style="font-size:30.5px;fill:#7d1d1d">1 MeV</text>
<text transform="translate(1702.7 398.9)" style="font-size:30.5px;fill:#2e3192">100 keV</text>
<text transform="translate(1578.9 430.8)" style="font-size:30.5px;fill:#111">30 keV</text>
<rect x="1515.4" y="118.8" width="484.6" height="393" fill="none" stroke="#111" stroke-width="1.5"/>
<path d="M1515.4 511.8v-5.0M1515.4 118.8v5.0M1526.2 511.8v-2.6M1526.2 118.8v2.6M1536.9 511.8v-2.6M1536.9 118.8v2.6M1547.7 511.8v-2.6M1547.7 118.8v2.6M1558.5 511.8v-2.6M1558.5 118.8v2.6M1569.2 511.8v-2.6M1569.2 118.8v2.6M1580 511.8v-2.6M1580 118.8v2.6M1590.8 511.8v-2.6M1590.8 118.8v2.6M1601.6 511.8v-2.6M1601.6 118.8v2.6M1612.3 511.8v-2.6M1612.3 118.8v2.6M1623.1 511.8v-5.0M1623.1 118.8v5.0M1633.9 511.8v-2.6M1633.9 118.8v2.6M1644.6 511.8v-2.6M1644.6 118.8v2.6M1655.4 511.8v-2.6M1655.4 118.8v2.6M1666.2 511.8v-2.6M1666.2 118.8v2.6M1676.9 511.8v-2.6M1676.9 118.8v2.6M1687.7 511.8v-2.6M1687.7 118.8v2.6M1698.5 511.8v-2.6M1698.5 118.8v2.6M1709.2 511.8v-2.6M1709.2 118.8v2.6M1720 511.8v-2.6M1720 118.8v2.6M1730.8 511.8v-5.0M1730.8 118.8v5.0M1741.5 511.8v-2.6M1741.5 118.8v2.6M1752.3 511.8v-2.6M1752.3 118.8v2.6M1763.1 511.8v-2.6M1763.1 118.8v2.6M1773.9 511.8v-2.6M1773.9 118.8v2.6M1784.6 511.8v-2.6M1784.6 118.8v2.6M1795.4 511.8v-2.6M1795.4 118.8v2.6M1806.2 511.8v-2.6M1806.2 118.8v2.6M1816.9 511.8v-2.6M1816.9 118.8v2.6M1827.7 511.8v-2.6M1827.7 118.8v2.6M1838.5 511.8v-5.0M1838.5 118.8v5.0M1849.2 511.8v-2.6M1849.2 118.8v2.6M1860 511.8v-2.6M1860 118.8v2.6M1870.8 511.8v-2.6M1870.8 118.8v2.6M1881.5 511.8v-2.6M1881.5 118.8v2.6M1892.3 511.8v-2.6M1892.3 118.8v2.6M1903.1 511.8v-2.6M1903.1 118.8v2.6M1913.9 511.8v-2.6M1913.9 118.8v2.6M1924.6 511.8v-2.6M1924.6 118.8v2.6M1935.4 511.8v-2.6M1935.4 118.8v2.6M1946.2 511.8v-5.0M1946.2 118.8v5.0M1956.9 511.8v-2.6M1956.9 118.8v2.6M1967.7 511.8v-2.6M1967.7 118.8v2.6M1978.5 511.8v-2.6M1978.5 118.8v2.6M1989.2 511.8v-2.6M1989.2 118.8v2.6M2000 511.8v-2.6M2000 118.8v2.6M1515.4 511.8h5.0M2000 511.8h-5.0M1515.4 482.2h2.6M2000 482.2h-2.6M1515.4 464.9h2.6M2000 464.9h-2.6M1515.4 452.6h2.6M2000 452.6h-2.6M1515.4 443.1h2.6M2000 443.1h-2.6M1515.4 435.3h2.6M2000 435.3h-2.6M1515.4 428.8h2.6M2000 428.8h-2.6M1515.4 423.1h2.6M2000 423.1h-2.6M1515.4 418h2.6M2000 418h-2.6M1515.4 413.6h5.0M2000 413.6h-5.0M1515.4 384h2.6M2000 384h-2.6M1515.4 366.7h2.6M2000 366.7h-2.6M1515.4 354.4h2.6M2000 354.4h-2.6M1515.4 344.9h2.6M2000 344.9h-2.6M1515.4 337.1h2.6M2000 337.1h-2.6M1515.4 330.5h2.6M2000 330.5h-2.6M1515.4 324.8h2.6M2000 324.8h-2.6M1515.4 319.8h2.6M2000 319.8h-2.6M1515.4 315.3h5.0M2000 315.3h-5.0M1515.4 285.7h2.6M2000 285.7h-2.6M1515.4 268.4h2.6M2000 268.4h-2.6M1515.4 256.1h2.6M2000 256.1h-2.6M1515.4 246.6h2.6M2000 246.6h-2.6M1515.4 238.8h2.6M2000 238.8h-2.6M1515.4 232.3h2.6M2000 232.3h-2.6M1515.4 226.6h2.6M2000 226.6h-2.6M1515.4 221.5h2.6M2000 221.5h-2.6M1515.4 217.1h5.0M2000 217.1h-5.0M1515.4 187.5h2.6M2000 187.5h-2.6M1515.4 170.2h2.6M2000 170.2h-2.6M1515.4 157.9h2.6M2000 157.9h-2.6M1515.4 148.4h2.6M2000 148.4h-2.6M1515.4 140.6h2.6M2000 140.6h-2.6M1515.4 134h2.6M2000 134h-2.6M1515.4 128.3h2.6M2000 128.3h-2.6M1515.4 123.3h2.6M2000 123.3h-2.6M1515.4 118.8h5.0M2000 118.8h-5.0" stroke="#111" stroke-width="1.3" fill="none"/>
<text transform="translate(1515.4 558.1) scale(0.82 1)" text-anchor="middle" style="font-size:33.3px">0</text>
<text transform="translate(1623.1 558.1) scale(0.82 1)" text-anchor="middle" style="font-size:33.3px">20</text>
<text transform="translate(1730.8 558.1) scale(0.82 1)" text-anchor="middle" style="font-size:33.3px">40</text>
<text transform="translate(1838.5 558.1) scale(0.82 1)" text-anchor="middle" style="font-size:33.3px">60</text>
<text transform="translate(1946.2 558.1) scale(0.82 1)" text-anchor="middle" style="font-size:33.3px">80</text>
<text transform="translate(1456.4 525.8) scale(0.8 1)" style="font-size:33.3px">10</text>
<text transform="translate(1486.8 505) scale(0.8 1)" style="font-size:21.5px">−8</text>
<text transform="translate(1456.4 427.6) scale(0.8 1)" style="font-size:33.3px">10</text>
<text transform="translate(1486.8 406.8) scale(0.8 1)" style="font-size:21.5px">−7</text>
<text transform="translate(1456.4 329.3) scale(0.8 1)" style="font-size:33.3px">10</text>
<text transform="translate(1486.8 308.5) scale(0.8 1)" style="font-size:21.5px">−6</text>
<text transform="translate(1456.4 231.1) scale(0.8 1)" style="font-size:33.3px">10</text>
<text transform="translate(1486.8 210.2) scale(0.8 1)" style="font-size:21.5px">−5</text>
<text transform="translate(1456.4 132.8) scale(0.8 1)" style="font-size:33.3px">10</text>
<text transform="translate(1486.8 112) scale(0.8 1)" style="font-size:21.5px">−4</text>
<rect x="1515.4" y="586.5" width="484.6" height="393" fill="none" stroke="#111" stroke-width="1.5"/>
<path d="M1515.4 979.5v-5.0M1515.4 586.5v5.0M1526.2 979.5v-2.6M1526.2 586.5v2.6M1536.9 979.5v-2.6M1536.9 586.5v2.6M1547.7 979.5v-2.6M1547.7 586.5v2.6M1558.5 979.5v-2.6M1558.5 586.5v2.6M1569.2 979.5v-2.6M1569.2 586.5v2.6M1580 979.5v-2.6M1580 586.5v2.6M1590.8 979.5v-2.6M1590.8 586.5v2.6M1601.6 979.5v-2.6M1601.6 586.5v2.6M1612.3 979.5v-2.6M1612.3 586.5v2.6M1623.1 979.5v-5.0M1623.1 586.5v5.0M1633.9 979.5v-2.6M1633.9 586.5v2.6M1644.6 979.5v-2.6M1644.6 586.5v2.6M1655.4 979.5v-2.6M1655.4 586.5v2.6M1666.2 979.5v-2.6M1666.2 586.5v2.6M1676.9 979.5v-2.6M1676.9 586.5v2.6M1687.7 979.5v-2.6M1687.7 586.5v2.6M1698.5 979.5v-2.6M1698.5 586.5v2.6M1709.2 979.5v-2.6M1709.2 586.5v2.6M1720 979.5v-2.6M1720 586.5v2.6M1730.8 979.5v-5.0M1730.8 586.5v5.0M1741.5 979.5v-2.6M1741.5 586.5v2.6M1752.3 979.5v-2.6M1752.3 586.5v2.6M1763.1 979.5v-2.6M1763.1 586.5v2.6M1773.9 979.5v-2.6M1773.9 586.5v2.6M1784.6 979.5v-2.6M1784.6 586.5v2.6M1795.4 979.5v-2.6M1795.4 586.5v2.6M1806.2 979.5v-2.6M1806.2 586.5v2.6M1816.9 979.5v-2.6M1816.9 586.5v2.6M1827.7 979.5v-2.6M1827.7 586.5v2.6M1838.5 979.5v-5.0M1838.5 586.5v5.0M1849.2 979.5v-2.6M1849.2 586.5v2.6M1860 979.5v-2.6M1860 586.5v2.6M1870.8 979.5v-2.6M1870.8 586.5v2.6M1881.5 979.5v-2.6M1881.5 586.5v2.6M1892.3 979.5v-2.6M1892.3 586.5v2.6M1903.1 979.5v-2.6M1903.1 586.5v2.6M1913.9 979.5v-2.6M1913.9 586.5v2.6M1924.6 979.5v-2.6M1924.6 586.5v2.6M1935.4 979.5v-2.6M1935.4 586.5v2.6M1946.2 979.5v-5.0M1946.2 586.5v5.0M1956.9 979.5v-2.6M1956.9 586.5v2.6M1967.7 979.5v-2.6M1967.7 586.5v2.6M1978.5 979.5v-2.6M1978.5 586.5v2.6M1989.2 979.5v-2.6M1989.2 586.5v2.6M2000 979.5v-2.6M2000 586.5v2.6M1515.4 979.5h5.0M2000 979.5h-5.0M1515.4 949.9h2.6M2000 949.9h-2.6M1515.4 932.6h2.6M2000 932.6h-2.6M1515.4 920.3h2.6M2000 920.3h-2.6M1515.4 910.8h2.6M2000 910.8h-2.6M1515.4 903h2.6M2000 903h-2.6M1515.4 896.5h2.6M2000 896.5h-2.6M1515.4 890.8h2.6M2000 890.8h-2.6M1515.4 885.7h2.6M2000 885.7h-2.6M1515.4 881.2h5.0M2000 881.2h-5.0M1515.4 851.7h2.6M2000 851.7h-2.6M1515.4 834.4h2.6M2000 834.4h-2.6M1515.4 822.1h2.6M2000 822.1h-2.6M1515.4 812.6h2.6M2000 812.6h-2.6M1515.4 804.8h2.6M2000 804.8h-2.6M1515.4 798.2h2.6M2000 798.2h-2.6M1515.4 792.5h2.6M2000 792.5h-2.6M1515.4 787.5h2.6M2000 787.5h-2.6M1515.4 783h5.0M2000 783h-5.0M1515.4 753.4h2.6M2000 753.4h-2.6M1515.4 736.1h2.6M2000 736.1h-2.6M1515.4 723.8h2.6M2000 723.8h-2.6M1515.4 714.3h2.6M2000 714.3h-2.6M1515.4 706.5h2.6M2000 706.5h-2.6M1515.4 700h2.6M2000 700h-2.6M1515.4 694.3h2.6M2000 694.3h-2.6M1515.4 689.2h2.6M2000 689.2h-2.6M1515.4 684.8h5.0M2000 684.8h-5.0M1515.4 655.2h2.6M2000 655.2h-2.6M1515.4 637.9h2.6M2000 637.9h-2.6M1515.4 625.6h2.6M2000 625.6h-2.6M1515.4 616.1h2.6M2000 616.1h-2.6M1515.4 608.3h2.6M2000 608.3h-2.6M1515.4 601.7h2.6M2000 601.7h-2.6M1515.4 596h2.6M2000 596h-2.6M1515.4 591h2.6M2000 591h-2.6M1515.4 586.5h5.0M2000 586.5h-5.0" stroke="#111" stroke-width="1.3" fill="none"/>
<text transform="translate(1515.4 1025.8) scale(0.82 1)" text-anchor="middle" style="font-size:33.3px">0</text>
<text transform="translate(1623.1 1025.8) scale(0.82 1)" text-anchor="middle" style="font-size:33.3px">20</text>
<text transform="translate(1730.8 1025.8) scale(0.82 1)" text-anchor="middle" style="font-size:33.3px">40</text>
<text transform="translate(1838.5 1025.8) scale(0.82 1)" text-anchor="middle" style="font-size:33.3px">60</text>
<text transform="translate(1946.2 1025.8) scale(0.82 1)" text-anchor="middle" style="font-size:33.3px">80</text>
<text transform="translate(1456.4 993.5) scale(0.8 1)" style="font-size:33.3px">10</text>
<text transform="translate(1486.8 972.7) scale(0.8 1)" style="font-size:21.5px">−8</text>
<text transform="translate(1456.4 895.2) scale(0.8 1)" style="font-size:33.3px">10</text>
<text transform="translate(1486.8 874.5) scale(0.8 1)" style="font-size:21.5px">−7</text>
<text transform="translate(1456.4 797) scale(0.8 1)" style="font-size:33.3px">10</text>
<text transform="translate(1486.8 776.2) scale(0.8 1)" style="font-size:21.5px">−6</text>
<text transform="translate(1456.4 698.8) scale(0.8 1)" style="font-size:33.3px">10</text>
<text transform="translate(1486.8 678) scale(0.8 1)" style="font-size:21.5px">−5</text>
<text transform="translate(1456.4 600.5) scale(0.8 1)" style="font-size:33.3px">10</text>
<text transform="translate(1486.8 579.7) scale(0.8 1)" style="font-size:21.5px">−4</text>
<rect x="1515.4" y="1053" width="484.6" height="393" fill="none" stroke="#111" stroke-width="1.5"/>
<path d="M1515.4 1446v-5.0M1515.4 1053v5.0M1526.2 1446v-2.6M1526.2 1053v2.6M1536.9 1446v-2.6M1536.9 1053v2.6M1547.7 1446v-2.6M1547.7 1053v2.6M1558.5 1446v-2.6M1558.5 1053v2.6M1569.2 1446v-2.6M1569.2 1053v2.6M1580 1446v-2.6M1580 1053v2.6M1590.8 1446v-2.6M1590.8 1053v2.6M1601.6 1446v-2.6M1601.6 1053v2.6M1612.3 1446v-2.6M1612.3 1053v2.6M1623.1 1446v-5.0M1623.1 1053v5.0M1633.9 1446v-2.6M1633.9 1053v2.6M1644.6 1446v-2.6M1644.6 1053v2.6M1655.4 1446v-2.6M1655.4 1053v2.6M1666.2 1446v-2.6M1666.2 1053v2.6M1676.9 1446v-2.6M1676.9 1053v2.6M1687.7 1446v-2.6M1687.7 1053v2.6M1698.5 1446v-2.6M1698.5 1053v2.6M1709.2 1446v-2.6M1709.2 1053v2.6M1720 1446v-2.6M1720 1053v2.6M1730.8 1446v-5.0M1730.8 1053v5.0M1741.5 1446v-2.6M1741.5 1053v2.6M1752.3 1446v-2.6M1752.3 1053v2.6M1763.1 1446v-2.6M1763.1 1053v2.6M1773.9 1446v-2.6M1773.9 1053v2.6M1784.6 1446v-2.6M1784.6 1053v2.6M1795.4 1446v-2.6M1795.4 1053v2.6M1806.2 1446v-2.6M1806.2 1053v2.6M1816.9 1446v-2.6M1816.9 1053v2.6M1827.7 1446v-2.6M1827.7 1053v2.6M1838.5 1446v-5.0M1838.5 1053v5.0M1849.2 1446v-2.6M1849.2 1053v2.6M1860 1446v-2.6M1860 1053v2.6M1870.8 1446v-2.6M1870.8 1053v2.6M1881.5 1446v-2.6M1881.5 1053v2.6M1892.3 1446v-2.6M1892.3 1053v2.6M1903.1 1446v-2.6M1903.1 1053v2.6M1913.9 1446v-2.6M1913.9 1053v2.6M1924.6 1446v-2.6M1924.6 1053v2.6M1935.4 1446v-2.6M1935.4 1053v2.6M1946.2 1446v-5.0M1946.2 1053v5.0M1956.9 1446v-2.6M1956.9 1053v2.6M1967.7 1446v-2.6M1967.7 1053v2.6M1978.5 1446v-2.6M1978.5 1053v2.6M1989.2 1446v-2.6M1989.2 1053v2.6M2000 1446v-2.6M2000 1053v2.6M1515.4 1446h5.0M2000 1446h-5.0M1515.4 1416.4h2.6M2000 1416.4h-2.6M1515.4 1399.1h2.6M2000 1399.1h-2.6M1515.4 1386.8h2.6M2000 1386.8h-2.6M1515.4 1377.3h2.6M2000 1377.3h-2.6M1515.4 1369.5h2.6M2000 1369.5h-2.6M1515.4 1363h2.6M2000 1363h-2.6M1515.4 1357.3h2.6M2000 1357.3h-2.6M1515.4 1352.2h2.6M2000 1352.2h-2.6M1515.4 1347.8h5.0M2000 1347.8h-5.0M1515.4 1318.2h2.6M2000 1318.2h-2.6M1515.4 1300.9h2.6M2000 1300.9h-2.6M1515.4 1288.6h2.6M2000 1288.6h-2.6M1515.4 1279.1h2.6M2000 1279.1h-2.6M1515.4 1271.3h2.6M2000 1271.3h-2.6M1515.4 1264.7h2.6M2000 1264.7h-2.6M1515.4 1259h2.6M2000 1259h-2.6M1515.4 1254h2.6M2000 1254h-2.6M1515.4 1249.5h5.0M2000 1249.5h-5.0M1515.4 1219.9h2.6M2000 1219.9h-2.6M1515.4 1202.6h2.6M2000 1202.6h-2.6M1515.4 1190.3h2.6M2000 1190.3h-2.6M1515.4 1180.8h2.6M2000 1180.8h-2.6M1515.4 1173h2.6M2000 1173h-2.6M1515.4 1166.5h2.6M2000 1166.5h-2.6M1515.4 1160.8h2.6M2000 1160.8h-2.6M1515.4 1155.7h2.6M2000 1155.7h-2.6M1515.4 1151.2h5.0M2000 1151.2h-5.0M1515.4 1121.7h2.6M2000 1121.7h-2.6M1515.4 1104.4h2.6M2000 1104.4h-2.6M1515.4 1092.1h2.6M2000 1092.1h-2.6M1515.4 1082.6h2.6M2000 1082.6h-2.6M1515.4 1074.8h2.6M2000 1074.8h-2.6M1515.4 1068.2h2.6M2000 1068.2h-2.6M1515.4 1062.5h2.6M2000 1062.5h-2.6M1515.4 1057.5h2.6M2000 1057.5h-2.6M1515.4 1053h5.0M2000 1053h-5.0" stroke="#111" stroke-width="1.3" fill="none"/>
<text transform="translate(1515.4 1492.3) scale(0.82 1)" text-anchor="middle" style="font-size:33.3px">0</text>
<text transform="translate(1623.1 1492.3) scale(0.82 1)" text-anchor="middle" style="font-size:33.3px">20</text>
<text transform="translate(1730.8 1492.3) scale(0.82 1)" text-anchor="middle" style="font-size:33.3px">40</text>
<text transform="translate(1838.5 1492.3) scale(0.82 1)" text-anchor="middle" style="font-size:33.3px">60</text>
<text transform="translate(1946.2 1492.3) scale(0.82 1)" text-anchor="middle" style="font-size:33.3px">80</text>
<text transform="translate(1456.4 1460) scale(0.8 1)" style="font-size:33.3px">10</text>
<text transform="translate(1486.8 1439.2) scale(0.8 1)" style="font-size:21.5px">−8</text>
<text transform="translate(1456.4 1361.8) scale(0.8 1)" style="font-size:33.3px">10</text>
<text transform="translate(1486.8 1341) scale(0.8 1)" style="font-size:21.5px">−7</text>
<text transform="translate(1456.4 1263.5) scale(0.8 1)" style="font-size:33.3px">10</text>
<text transform="translate(1486.8 1242.7) scale(0.8 1)" style="font-size:21.5px">−6</text>
<text transform="translate(1456.4 1165.2) scale(0.8 1)" style="font-size:33.3px">10</text>
<text transform="translate(1486.8 1144.5) scale(0.8 1)" style="font-size:21.5px">−5</text>
<text transform="translate(1456.4 1067) scale(0.8 1)" style="font-size:33.3px">10</text>
<text transform="translate(1486.8 1046.2) scale(0.8 1)" style="font-size:21.5px">−4</text>
<text transform="translate(1058.5 33.6)" text-anchor="middle" style="font-size:49px;font-weight:bold">Pitch-angle Scattering Rates at L = 4</text>
<text transform="translate(424 93.2) scale(0.82 1)" text-anchor="middle" style="font-size:40px;font-weight:bold" stroke="#111" stroke-width="0.5">Cold plasma</text>
<text transform="translate(971.8 93.2) scale(0.82 1)" text-anchor="middle" style="font-size:40px;font-weight:bold" stroke="#111" stroke-width="0.5">Hot plasma</text>
<text transform="translate(1770 93.2) scale(0.82 1)" text-anchor="middle" style="font-size:40px;font-weight:bold" stroke="#111" stroke-width="0.5">Comparison</text>
<text transform="translate(615.7 488.6) scale(1.04 1)" text-anchor="middle" style="font-size:42px;font-weight:bold">(a)</text>
<text transform="translate(615.7 956.3) scale(1.04 1)" text-anchor="middle" style="font-size:42px;font-weight:bold">(b)</text>
<text transform="translate(615.7 1422.8) scale(1.04 1)" text-anchor="middle" style="font-size:42px;font-weight:bold">(c)</text>
<text transform="translate(1164.7 488.6) scale(1.04 1)" text-anchor="middle" style="font-size:42px;font-weight:bold">(d)</text>
<text transform="translate(1164.7 956.3) scale(1.04 1)" text-anchor="middle" style="font-size:42px;font-weight:bold">(e)</text>
<text transform="translate(1164.7 1422.8) scale(1.04 1)" text-anchor="middle" style="font-size:42px;font-weight:bold">(f)</text>
<text transform="translate(1524.9 489.8) scale(1.04 1)" style="font-size:42px;font-weight:bold">(g)</text>
<text transform="translate(1524.9 957.5) scale(1.04 1)" style="font-size:42px;font-weight:bold">(h)</text>
<text transform="translate(1524.9 1424) scale(1.04 1)" style="font-size:42px;font-weight:bold">(i)</text>
<text transform="translate(36.6 403.8) rotate(-90) scale(1.42 1.0)" style="font-size:49px">α</text>
<text transform="translate(25.3 369.8) rotate(-90) scale(1.05 1.0)" style="font-size:40px">*</text>
<text transform="translate(36.2 347.3) rotate(-90) scale(1.135 1.0)" style="font-size:42px">= 0.01</text>
<text transform="translate(93.7 394.6) rotate(-90)" style="font-size:45.8px">E</text>
<text transform="translate(103.8 365.3) rotate(-90)" style="font-size:33.4px">k</text>
<text transform="translate(93.7 342.3) rotate(-90) scale(0.975 1.0)" style="font-size:45.8px">(keV)</text>
<text transform="translate(1430.5 324.3) rotate(-90) scale(1.04 1)" text-anchor="middle" style="font-size:38px">&lt; D<tspan dy="10" style="font-size:31px">αα</tspan><tspan dy="-10"> &gt; (s</tspan><tspan dy="-13" style="font-size:25px;font-weight:bold">-1</tspan><tspan dy="13">)</tspan></text>
<text transform="translate(36.6 881.9) rotate(-90) scale(1.42 1.0)" style="font-size:49px">α</text>
<text transform="translate(25.3 847.9) rotate(-90) scale(1.05 1.0)" style="font-size:40px">*</text>
<text transform="translate(36.2 825.4) rotate(-90) scale(1.135 1.0)" style="font-size:42px">= 0.005</text>
<text transform="translate(93.7 862.3) rotate(-90)" style="font-size:45.8px">E</text>
<text transform="translate(103.8 833) rotate(-90)" style="font-size:33.4px">k</text>
<text transform="translate(93.7 810) rotate(-90) scale(0.975 1.0)" style="font-size:45.8px">(keV)</text>
<text transform="translate(1430.5 792) rotate(-90) scale(1.04 1)" text-anchor="middle" style="font-size:38px">&lt; D<tspan dy="10" style="font-size:31px">αα</tspan><tspan dy="-10"> &gt; (s</tspan><tspan dy="-13" style="font-size:25px;font-weight:bold">-1</tspan><tspan dy="13">)</tspan></text>
<text transform="translate(36.6 1348.5) rotate(-90) scale(1.42 1.0)" style="font-size:49px">α</text>
<text transform="translate(25.3 1314.5) rotate(-90) scale(1.05 1.0)" style="font-size:40px">*</text>
<text transform="translate(36.2 1292) rotate(-90) scale(1.135 1.0)" style="font-size:42px">= 0.003</text>
<text transform="translate(93.7 1328.8) rotate(-90)" style="font-size:45.8px">E</text>
<text transform="translate(103.8 1299.5) rotate(-90)" style="font-size:33.4px">k</text>
<text transform="translate(93.7 1276.5) rotate(-90) scale(0.975 1.0)" style="font-size:45.8px">(keV)</text>
<text transform="translate(1430.5 1258.5) rotate(-90) scale(1.04 1)" text-anchor="middle" style="font-size:38px">&lt; D<tspan dy="10" style="font-size:31px">αα</tspan><tspan dy="-10"> &gt; (s</tspan><tspan dy="-13" style="font-size:25px;font-weight:bold">-1</tspan><tspan dy="13">)</tspan></text>
<text transform="translate(340.2 1531.2) scale(1.42 1)" style="font-size:49px">α</text>
<text transform="translate(372.2 1533.2)" style="font-size:34px">eq</text>
<text transform="translate(408 1531.2)" style="font-size:38px">(deg)</text>
<text transform="translate(889.2 1531.2) scale(1.42 1)" style="font-size:49px">α</text>
<text transform="translate(921.2 1533.2)" style="font-size:34px">eq</text>
<text transform="translate(957 1531.2)" style="font-size:38px">(deg)</text>
<text transform="translate(1681.9 1531.2) scale(1.42 1)" style="font-size:49px">α</text>
<text transform="translate(1713.9 1533.2)" style="font-size:34px">eq</text>
<text transform="translate(1749.7 1531.2)" style="font-size:38px">(deg)</text>
<rect x="1285.5" y="560" width="55.9" height="450.5" fill="#231d58"/>
<rect x="1285.5" y="560" width="55.9" height="443.46" fill="#241e63"/>
<rect x="1285.5" y="560" width="55.9" height="436.42" fill="#241e6e"/>
<rect x="1285.5" y="560" width="55.9" height="429.38" fill="#262274"/>
<rect x="1285.5" y="560" width="55.9" height="422.34" fill="#28267a"/>
<rect x="1285.5" y="560" width="55.9" height="415.30" fill="#2a2a7e"/>
<rect x="1285.5" y="560" width="55.9" height="408.27" fill="#2c2e82"/>
<rect x="1285.5" y="560" width="55.9" height="401.23" fill="#2d3084"/>
<rect x="1285.5" y="560" width="55.9" height="394.19" fill="#2f3387"/>
<rect x="1285.5" y="560" width="55.9" height="387.15" fill="#303589"/>
<rect x="1285.5" y="560" width="55.9" height="380.11" fill="#31388c"/>
<rect x="1285.5" y="560" width="55.9" height="373.07" fill="#343e90"/>
<rect x="1285.5" y="560" width="55.9" height="366.03" fill="#374496"/>
<rect x="1285.5" y="560" width="55.9" height="358.99" fill="#3b4c9c"/>
<rect x="1285.5" y="560" width="55.9" height="351.95" fill="#4056a4"/>
<rect x="1285.5" y="560" width="55.9" height="344.91" fill="#4561ae"/>
<rect x="1285.5" y="560" width="55.9" height="337.88" fill="#4c6eb9"/>
<rect x="1285.5" y="560" width="55.9" height="330.84" fill="#547ec7"/>
<rect x="1285.5" y="560" width="55.9" height="323.80" fill="#5a8fd5"/>
<rect x="1285.5" y="560" width="55.9" height="316.76" fill="#609ee0"/>
<rect x="1285.5" y="560" width="55.9" height="309.72" fill="#67a7df"/>
<rect x="1285.5" y="560" width="55.9" height="302.68" fill="#70afdc"/>
<rect x="1285.5" y="560" width="55.9" height="295.64" fill="#7ab2d2"/>
<rect x="1285.5" y="560" width="55.9" height="288.60" fill="#84b6c8"/>
<rect x="1285.5" y="560" width="55.9" height="281.56" fill="#84b6b9"/>
<rect x="1285.5" y="560" width="55.9" height="274.52" fill="#84b6aa"/>
<rect x="1285.5" y="560" width="55.9" height="267.48" fill="#84b69a"/>
<rect x="1285.5" y="560" width="55.9" height="260.45" fill="#86b790"/>
<rect x="1285.5" y="560" width="55.9" height="253.41" fill="#8ab986"/>
<rect x="1285.5" y="560" width="55.9" height="246.37" fill="#8dba7d"/>
<rect x="1285.5" y="560" width="55.9" height="239.33" fill="#91bb75"/>
<rect x="1285.5" y="560" width="55.9" height="232.29" fill="#95bc6d"/>
<rect x="1285.5" y="560" width="55.9" height="225.25" fill="#9abd65"/>
<rect x="1285.5" y="560" width="55.9" height="218.21" fill="#9fc05d"/>
<rect x="1285.5" y="560" width="55.9" height="211.17" fill="#a5c355"/>
<rect x="1285.5" y="560" width="55.9" height="204.13" fill="#aec84e"/>
<rect x="1285.5" y="560" width="55.9" height="197.09" fill="#bccf46"/>
<rect x="1285.5" y="560" width="55.9" height="190.05" fill="#cbd540"/>
<rect x="1285.5" y="560" width="55.9" height="183.02" fill="#dadd3d"/>
<rect x="1285.5" y="560" width="55.9" height="175.98" fill="#e8e23a"/>
<rect x="1285.5" y="560" width="55.9" height="168.94" fill="#e4d636"/>
<rect x="1285.5" y="560" width="55.9" height="161.90" fill="#e0c932"/>
<rect x="1285.5" y="560" width="55.9" height="154.86" fill="#ddba2f"/>
<rect x="1285.5" y="560" width="55.9" height="147.82" fill="#d9ab2d"/>
<rect x="1285.5" y="560" width="55.9" height="140.78" fill="#d59b2a"/>
<rect x="1285.5" y="560" width="55.9" height="133.74" fill="#d08b28"/>
<rect x="1285.5" y="560" width="55.9" height="126.70" fill="#cb7a28"/>
<rect x="1285.5" y="560" width="55.9" height="119.66" fill="#c66928"/>
<rect x="1285.5" y="560" width="55.9" height="112.62" fill="#c25c27"/>
<rect x="1285.5" y="560" width="55.9" height="105.59" fill="#be5426"/>
<rect x="1285.5" y="560" width="55.9" height="98.55" fill="#bb4b24"/>
<rect x="1285.5" y="560" width="55.9" height="91.51" fill="#b74023"/>
<rect x="1285.5" y="560" width="55.9" height="84.47" fill="#b33421"/>
<rect x="1285.5" y="560" width="55.9" height="77.43" fill="#b02920"/>
<rect x="1285.5" y="560" width="55.9" height="70.39" fill="#ac241e"/>
<rect x="1285.5" y="560" width="55.9" height="63.35" fill="#aa1f1d"/>
<rect x="1285.5" y="560" width="55.9" height="56.31" fill="#a21c1c"/>
<rect x="1285.5" y="560" width="55.9" height="49.27" fill="#971b1b"/>
<rect x="1285.5" y="560" width="55.9" height="42.23" fill="#8c1a1b"/>
<rect x="1285.5" y="560" width="55.9" height="35.20" fill="#801b1b"/>
<rect x="1285.5" y="560" width="55.9" height="28.16" fill="#751b1b"/>
<rect x="1285.5" y="560" width="55.9" height="21.12" fill="#691c1b"/>
<rect x="1285.5" y="560" width="55.9" height="14.08" fill="#5e1b19"/>
<rect x="1285.5" y="560" width="55.9" height="7.04" fill="#531a18"/>
<rect x="1285.5" y="560" width="55.9" height="450.5" fill="none" stroke="#111" stroke-width="1.3"/>
<text transform="translate(1282.9 979.9) scale(0.96 1)" text-anchor="end" style="font-size:23.3px">−9</text>
<text transform="translate(1282.9 904.8) scale(0.96 1)" text-anchor="end" style="font-size:23.3px">−8</text>
<text transform="translate(1282.9 829.7) scale(0.96 1)" text-anchor="end" style="font-size:23.3px">−7</text>
<text transform="translate(1282.9 754.6) scale(0.96 1)" text-anchor="end" style="font-size:23.3px">−6</text>
<text transform="translate(1282.9 679.5) scale(0.96 1)" text-anchor="end" style="font-size:23.3px">−5</text>
<text transform="translate(1282.9 604.4) scale(0.96 1)" text-anchor="end" style="font-size:23.3px">−4</text>
<path d="M1285.5 973h4.6M1341.4 973h-4.6M1285.5 897.9h4.6M1341.4 897.9h-4.6M1285.5 822.8h4.6M1341.4 822.8h-4.6M1285.5 747.7h4.6M1341.4 747.7h-4.6M1285.5 672.6h4.6M1341.4 672.6h-4.6M1285.5 597.5h4.6M1341.4 597.5h-4.6" stroke="#111" stroke-width="3.2" fill="none"/>
<path d="M1343.2 667.5h12.8" stroke="#111" stroke-width="4.5" fill="none"/>
<text transform="translate(1359 674.7)" style="font-size:25px">day<tspan dx="3.5" dy="-10.4" style="font-size:16.5px">-1</tspan></text>
<text transform="translate(1237.7 781.5) rotate(-90) scale(1.035 1)" text-anchor="middle" style="font-size:33px;font-weight:bold">log<tspan dy="7" style="font-size:13px">10</tspan><tspan dy="-7" dx="1">(&lt;D</tspan><tspan dy="7" dx="1" style="font-size:26px;font-weight:normal;letter-spacing:1.5px">αα</tspan><tspan dy="-7" dx="4">&gt;) (s</tspan><tspan dy="-12" style="font-size:19px">−1</tspan><tspan dy="12">)</tspan></text>
</svg>
</body></html>
